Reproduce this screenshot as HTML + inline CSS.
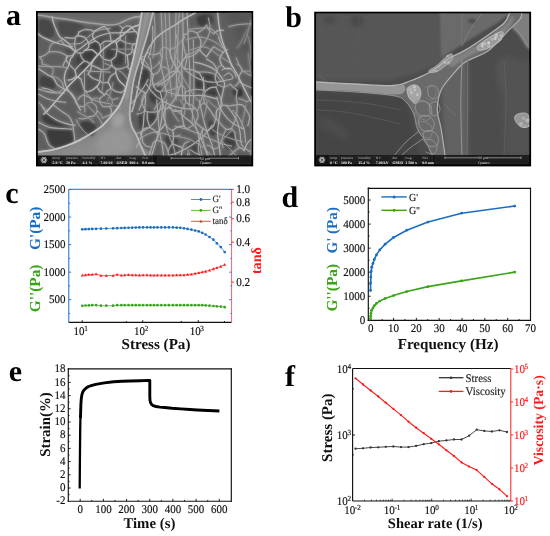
<!DOCTYPE html>
<html><head><meta charset="utf-8"><title>Figure</title>
<style>
html,body{margin:0;padding:0;background:#fff;width:550px;height:536px;overflow:hidden}
svg{display:block;position:absolute;left:0;top:0;filter:blur(0.3px)}
text{font-family:'Liberation Serif', 'Times New Roman', serif;text-rendering:geometricPrecision}
</style></head><body>
<svg width="550" height="536" viewBox="0 0 550 536">
<defs><clipPath id="ca"><rect x="37.9" y="12.8" width="213.6" height="143"/></clipPath><filter id="fb3" x="-30%" y="-30%" width="160%" height="160%"><feGaussianBlur stdDeviation="3"/></filter><filter id="fb2" x="-30%" y="-30%" width="160%" height="160%"><feGaussianBlur stdDeviation="2"/></filter><filter id="fb1" x="-30%" y="-30%" width="160%" height="160%"><feGaussianBlur stdDeviation="1.2"/></filter><filter id="fb0" x="-10%" y="-10%" width="120%" height="120%"><feGaussianBlur stdDeviation="0.45"/></filter></defs>
<rect x="36.0" y="11.0" width="217.2" height="155.4" fill="#000"/>
<g clip-path="url(#ca)">
<rect x="37" y="12" width="216" height="145" fill="#5e5e5e"/>
<path d="M226,12 L253,12 L253,60 L240,45 Z" fill="#545454" filter="url(#fb3)"/>
<path d="M157,12 L184,12 L184,60 L180,100 L166,112 L156,90 Z" fill="#6c6c6c" filter="url(#fb2)"/>
<path d="M74,32 C85.3,26.3 124.3,16.3 134,26 C143.7,35.7 137.7,78.7 132,90 C126.3,101.3 110,94 100,94 C90,94 77.7,95.7 72,90 C66.3,84.3 65.7,69.7 66,60 C66.3,50.3 62.7,37.7 74,32Z" fill="#505050" filter="url(#fb2)"/>
<path d="M38,13 C55.3,12 125,11.5 142,13 C159,14.5 145.3,19.7 140,22 C134.7,24.3 120,26.7 110,27 C100,27.3 92,25.3 80,24 C68,22.7 45,20.8 38,19 C31,17.2 20.7,14 38,13Z" fill="#686868" filter="url(#fb2)"/>
<path d="M142,12 C144.4,8.4 152.1,8.4 153,12 C153.9,15.6 149.5,26.1 147.5,33.4 C145.5,40.7 143,48.3 140.8,55.8 C138.6,63.3 135.8,70.8 134.1,78.2 C132.4,85.7 131.4,94.2 130.7,100.5 C129.9,106.8 129.4,111.6 129.6,116 C129.8,120.4 130.9,123.8 132,127 C133.1,130.2 135,132 136.4,135 C137.8,138 138.9,141.3 140.5,145 C142.1,148.7 163,155 145.9,157 C128.8,159 56,157.8 38,157 C20,156.2 35.7,153.2 38,152 C40.3,150.8 47.3,151 52,150 C56.7,149 61.3,147.7 66,146 C70.7,144.3 75.7,142.2 80,140 C84.3,137.8 88.3,135.3 92,133 C95.7,130.7 98.7,129 102,126 C105.3,123 109.2,118.3 112,115 C114.8,111.7 117,109.3 119,106 C121,102.7 122.4,99.6 124,95 C125.6,90.4 126.8,84.7 128.5,78.2 C130.2,71.7 132.4,63.3 134.1,55.8 C135.8,48.3 137.3,40.7 138.6,33.4 C139.9,26.1 139.6,15.6 142,12Z" fill="#858585" filter="url(#fb1)"/>
<path d="M96,140 C99.3,135.3 106.7,129.7 112,128 C117.3,126.3 124.7,126.3 128,130 C131.3,133.7 134.7,145.7 132,150 C129.3,154.3 118.7,155 112,156 C105.3,157 94.7,158.7 92,156 C89.3,153.3 92.7,144.7 96,140Z" fill="#969696" filter="url(#fb3)"/>
<path d="M112,118 C112.7,115.7 116,113.3 118,113 C120,112.7 123.3,113.8 124,116 C124.7,118.2 123.7,124.2 122,126 C120.3,127.8 115.7,128.3 114,127 C112.3,125.7 111.3,120.3 112,118Z" fill="#a0a0a0" filter="url(#fb2)"/>
<path d="M60,152 C63.3,150.3 74,147.3 80,146 C86,144.7 93.3,142.3 96,144 C98.7,145.7 102,154 96,156 C90,158 66,156.7 60,156 C54,155.3 56.7,153.7 60,152Z" fill="#8c8c8c" filter="url(#fb3)"/>
<path d="M40,20 C42,17.8 49.5,20.3 52,22 C54.5,23.7 55.3,27.3 55,30 C54.7,32.7 52.5,37.2 50,38 C47.5,38.8 41.7,38 40,35 C38.3,32 38,22.2 40,20Z" fill="#464646" filter="url(#fb1)"/>
<path d="M58,22 C59.3,20 64.3,20.7 68,21 C71.7,21.3 77,22.5 80,24 C83,25.5 86,27.7 86,30 C86,32.3 83,36.3 80,38 C77,39.7 71.3,40.8 68,40 C64.7,39.2 61.7,36 60,33 C58.3,30 56.7,24 58,22Z" fill="#4b4b4b" filter="url(#fb1)"/>
<path d="M112,26 C113.7,24.8 118,23.7 120,24 C122,24.3 124.3,26.7 124,28 C123.7,29.3 120.3,31.5 118,32 C115.7,32.5 111,32 110,31 C109,30 110.3,27.2 112,26Z" fill="#4e4e4e" filter="url(#fb1)"/>
<path d="M198,16 C200,14.5 207.5,14 210,15 C212.5,16 213.7,20 213,22 C212.3,24 208.5,26.7 206,27 C203.5,27.3 199.3,25.8 198,24 C196.7,22.2 196,17.5 198,16Z" fill="#3c3c3c" filter="url(#fb1)"/>
<path d="M89,46 C91,43 95.7,40.3 98,40 C100.3,39.7 102.7,41.5 103,44 C103.3,46.5 101.7,52.3 100,55 C98.3,57.7 95.3,59.5 93,60 C90.7,60.5 86.7,60.3 86,58 C85.3,55.7 87,49 89,46Z" fill="#3c3c3c" filter="url(#fb1)"/>
<path d="M78,55 C79.3,52.3 83.7,49.2 86,50 C88.3,50.8 92,57 92,60 C92,63 88.3,67 86,68 C83.7,69 79.3,68.2 78,66 C76.7,63.8 76.7,57.7 78,55Z" fill="#3e3e3e" filter="url(#fb1)"/>
<path d="M42,76 C44,74.8 49.7,77.3 52,79 C54.3,80.7 56.3,84.3 56,86 C55.7,87.7 52.7,89 50,89 C47.3,89 41.3,88.2 40,86 C38.7,83.8 40,77.2 42,76Z" fill="#424242" filter="url(#fb1)"/>
<path d="M106,53 C107,49.7 115,45.2 118,44 C121,42.8 123,43 124,46 C125,49 126,59 124,62 C122,65 115,65.5 112,64 C109,62.5 105,56.3 106,53Z" fill="#404040" filter="url(#fb1)"/>
<path d="M140,72 C141.3,69.7 146.3,68 148,70 C149.7,72 150.7,80.7 150,84 C149.3,87.3 145.7,90 144,90 C142.3,90 140.7,87 140,84 C139.3,81 138.7,74.3 140,72Z" fill="#3e3e3e" filter="url(#fb1)"/>
<path d="M152,88 C154,86.3 160,86.3 162,88 C164,89.7 165,95.3 164,98 C163,100.7 158.3,104 156,104 C153.7,104 150.7,100.7 150,98 C149.3,95.3 150,89.7 152,88Z" fill="#3e3e3e" filter="url(#fb1)"/>
<path d="M196,75 C199,72.5 210,73.5 214,75 C218,76.5 219,80.5 220,84 C221,87.5 222.5,94.3 220,96 C217.5,97.7 209,95 205,94 C201,93 197.5,93.2 196,90 C194.5,86.8 193,77.5 196,75Z" fill="#3c3c3c" filter="url(#fb1)"/>
<path d="M233,90 C233.8,88.7 239.5,88.2 241,89 C242.5,89.8 242.8,93.7 242,95 C241.2,96.3 237.5,97.8 236,97 C234.5,96.2 232.2,91.3 233,90Z" fill="#2d2d2d" filter="url(#fb1)"/>
<path d="M47,113 C49.3,113.5 52.8,119 56,121 C59.2,123 63.5,124 66,125 C68.5,126 72,126.7 71,127 C70,127.3 63.8,127.5 60,127 C56.2,126.5 51,125.5 48,124 C45,122.5 42.2,119.8 42,118 C41.8,116.2 44.7,112.5 47,113Z" fill="#3e3e3e" filter="url(#fb1)"/>
<path d="M47,131 C48.3,128.3 55.8,130 60,130 C64.2,130 69.8,129 72,131 C74.2,133 74.7,139.2 73,142 C71.3,144.8 65.5,147.3 62,148 C58.5,148.7 54.5,148.8 52,146 C49.5,143.2 45.7,133.7 47,131Z" fill="#3a3a3a" filter="url(#fb1)"/>
<path d="M80,123 C81.3,121.3 87.3,121.3 90,122 C92.7,122.7 95.7,124.7 96,127 C96.3,129.3 94.3,135.2 92,136 C89.7,136.8 84,134.2 82,132 C80,129.8 78.7,124.7 80,123Z" fill="#3c3c3c" filter="url(#fb1)"/>
<path d="M140,112 C142,109 149.3,109 152,110 C154.7,111 156.3,115.3 156,118 C155.7,120.7 152.7,124.3 150,126 C147.3,127.7 141.7,130.3 140,128 C138.3,125.7 138,115 140,112Z" fill="#3e3e3e" filter="url(#fb1)"/>
<path d="M166,136 C167,133.3 174,135.7 176,138 C178,140.3 179,147.3 178,150 C177,152.7 172,156.3 170,154 C168,151.7 165,138.7 166,136Z" fill="#3c3c3c" filter="url(#fb1)"/>
<path d="M209,122 C210.3,120.3 216.5,122.2 218,124 C219.5,125.8 219.3,131.3 218,133 C216.7,134.7 211.5,135.8 210,134 C208.5,132.2 207.7,123.7 209,122Z" fill="#3c3c3c" filter="url(#fb1)"/>
<path d="M224,134 C225.7,131.7 232,130.7 234,132 C236,133.3 236.5,139 236,142 C235.5,145 233,149.3 231,150 C229,150.7 225.2,148.7 224,146 C222.8,143.3 222.3,136.3 224,134Z" fill="#3a3a3a" filter="url(#fb1)"/>
<path d="M188,142 C189.3,139.8 196,139.3 198,141 C200,142.7 201.3,149.8 200,152 C198.7,154.2 192,155.7 190,154 C188,152.3 186.7,144.2 188,142Z" fill="#424242" filter="url(#fb1)"/>
<g fill="none" stroke-linecap="round" stroke-linejoin="round" filter="url(#fb1)" opacity="0.32">
<path d="M74.9,70.4 C75.6,69.5 77.7,66.9 79.2,65.4 C80.8,63.8 83.4,61.8 84.3,61" stroke="#9a9a9a" stroke-width="3.7"/>
<path d="M74.9,70.4 C75.1,70.9 75.6,72.4 75.8,73.4 C76.1,74.5 76.1,76.1 76.2,76.6" stroke="#9a9a9a" stroke-width="3.7"/>
<path d="M88.1,74.1 C88.5,73.4 90,71.5 90.6,70 C91.1,68.6 91.3,66.1 91.5,65.3" stroke="#9a9a9a" stroke-width="3.7"/>
<path d="M91.5,65.3 C91.5,65.3 91.5,65.2 91.4,65.1 C91.4,65 91.4,64.9 91.3,64.9" stroke="#9a9a9a" stroke-width="3.7"/>
<path d="M91.3,64.9 C90.8,64.5 89.3,63 88.1,62.4 C86.9,61.7 84.9,61.3 84.3,61" stroke="#9a9a9a" stroke-width="3.7"/>
<path d="M76.2,76.6 C76.6,76.8 77.8,77.2 78.6,77.6 C79.4,78 80.5,78.8 80.9,79" stroke="#9a9a9a" stroke-width="3.7"/>
<path d="M66.9,61.5 C67.5,62.3 69.5,64.6 70.8,66 C72.2,67.5 74.2,69.6 74.9,70.4" stroke="#9a9a9a" stroke-width="3.7"/>
<path d="M76.2,76.6 C75.5,77 73.8,78.5 72.4,79.1 C71.1,79.7 68.8,80 68.1,80.2" stroke="#9a9a9a" stroke-width="3.7"/>
<path d="M120.2,39.6 C119.9,39.8 118.8,40.5 118.1,41 C117.4,41.5 116.5,42.4 116.2,42.7" stroke="#9a9a9a" stroke-width="3.7"/>
<path d="M120.2,39.6 C120.3,38.6 120,35.6 120.4,33.7 C120.8,31.8 122.4,29.2 122.8,28.4" stroke="#9a9a9a" stroke-width="3.7"/>
<path d="M104.5,26.4 C105.4,27.5 108.7,30.5 109.8,33 C110.8,35.5 110.7,39.9 110.8,41.3" stroke="#9a9a9a" stroke-width="3.7"/>
<path d="M110.8,41.3 C111.3,41.2 112.9,40.8 113.8,41 C114.7,41.2 115.8,42.4 116.2,42.7" stroke="#9a9a9a" stroke-width="3.7"/>
<path d="M122.8,28.4 C122.6,28.1 122,27.3 121.5,26.9 C121,26.4 120.1,26 119.8,25.8" stroke="#9a9a9a" stroke-width="3.7"/>
<path d="M95,40.8 C95.5,41 97.2,41.7 98.1,42.4 C98.9,43.2 99.8,44.7 100.2,45.2" stroke="#9a9a9a" stroke-width="3.7"/>
<path d="M95,40.8 C94.5,41 93.1,41.8 92.1,42.3 C91.1,42.8 89.6,43.4 89.1,43.7" stroke="#9a9a9a" stroke-width="3.7"/>
<path d="M100.2,45.2 C100.3,45.9 100.9,48.1 100.8,49.5 C100.7,51 99.8,53.1 99.6,53.8" stroke="#9a9a9a" stroke-width="3.7"/>
<path d="M97.9,54.9 C96.9,54 94.4,50.5 92.2,49.8 C89.9,49.1 85.8,50.4 84.5,50.5" stroke="#9a9a9a" stroke-width="3.7"/>
<path d="M97.9,54.9 C98,54.7 98.4,54.3 98.6,54.1 C98.9,54 99.5,53.8 99.6,53.8" stroke="#9a9a9a" stroke-width="3.7"/>
<path d="M84.5,50.5 C85.1,50 87.3,49 88.1,47.9 C88.8,46.8 89,44.4 89.1,43.7" stroke="#9a9a9a" stroke-width="3.7"/>
<path d="M91.3,64.9 C91.8,63.9 92.8,61 93.8,59.4 C94.9,57.7 97.2,55.6 97.9,54.9" stroke="#9a9a9a" stroke-width="3.7"/>
<path d="M84.3,61 C83.8,60.4 82.2,58.6 81.5,57.3 C80.8,55.9 80.3,53.6 80,52.9" stroke="#9a9a9a" stroke-width="3.7"/>
<path d="M84.5,50.5 C84.2,50.8 83.5,52.2 82.8,52.6 C82,53 80.5,52.8 80,52.9" stroke="#9a9a9a" stroke-width="3.7"/>
<path d="M66.9,61.5 C66.8,61.1 66.2,59.7 66.2,58.8 C66.1,57.9 66.6,56.5 66.6,56.1" stroke="#9a9a9a" stroke-width="3.7"/>
<path d="M66.6,56.1 C67.6,55.9 70.5,56.1 72.1,55.3 C73.8,54.6 75.6,52.3 76.3,51.7" stroke="#9a9a9a" stroke-width="3.7"/>
<path d="M80,52.9 C79.7,52.9 78.6,53.2 77.9,53 C77.3,52.8 76.6,51.9 76.3,51.7" stroke="#9a9a9a" stroke-width="3.7"/>
<path d="M100.2,45.2 C101,44.5 103.1,42 104.8,41.3 C106.6,40.7 109.8,41.3 110.8,41.3" stroke="#9a9a9a" stroke-width="3.7"/>
<path d="M99.6,53.8 C100.3,54.7 102.1,58 104,59.2 C105.8,60.3 109.6,60.3 110.7,60.6" stroke="#9a9a9a" stroke-width="3.7"/>
<path d="M116.2,42.7 C116.3,43.3 116.9,45.2 117,46.5 C117.1,47.7 116.9,49.7 116.9,50.3" stroke="#9a9a9a" stroke-width="3.7"/>
<path d="M116.9,50.3 C116.7,51.3 116.6,54.8 115.6,56.5 C114.6,58.2 111.5,59.9 110.7,60.6" stroke="#9a9a9a" stroke-width="3.7"/>
<path d="M88.1,74.1 C88.9,74.8 91.3,77.4 93.2,78.5 C95.2,79.6 98.6,80.3 99.7,80.7" stroke="#9a9a9a" stroke-width="3.7"/>
<path d="M91.5,65.3 C92.3,65.7 94.9,66.6 96.5,67.3 C98.2,68 100.6,69.2 101.4,69.6" stroke="#9a9a9a" stroke-width="3.7"/>
<path d="M101.4,69.6 C101.3,70.5 100.8,73.3 100.5,75.1 C100.2,77 99.8,79.7 99.7,80.7" stroke="#9a9a9a" stroke-width="3.7"/>
<path d="M110.7,60.6 C110.9,60.9 111.4,62 111.5,62.8 C111.7,63.5 111.7,64.7 111.7,65.1" stroke="#9a9a9a" stroke-width="3.7"/>
<path d="M101.4,69.6 C102.4,69.5 105.7,69.9 107.4,69.2 C109.1,68.4 111,65.7 111.7,65.1" stroke="#9a9a9a" stroke-width="3.7"/>
<path d="M127,55.2 C127.2,56 127.6,58.5 127.8,60.2 C128,61.9 128.2,64.5 128.2,65.3" stroke="#9a9a9a" stroke-width="3.7"/>
<path d="M127,55.2 C126.2,54.8 123.7,53.5 122,52.7 C120.3,51.9 117.7,50.7 116.9,50.3" stroke="#9a9a9a" stroke-width="3.7"/>
<path d="M127.1,66.5 C127.2,66.4 127.7,66.3 127.9,66.1 C128.1,65.9 128.2,65.5 128.2,65.3" stroke="#9a9a9a" stroke-width="3.7"/>
<path d="M127.1,66.5 C126.2,66.8 123.6,68.1 121.7,68.5 C119.9,68.9 116.9,68.9 116,69" stroke="#9a9a9a" stroke-width="3.7"/>
<path d="M111.7,65.1 C112,65.4 112.9,66.6 113.6,67.3 C114.3,67.9 115.6,68.7 116,69" stroke="#9a9a9a" stroke-width="3.7"/>
<path d="M80.9,79 C81.2,79.9 81.8,82.6 82.4,84.3 C83,86.1 84,88.7 84.3,89.5" stroke="#9a9a9a" stroke-width="3.7"/>
<path d="M99.7,80.7 C99.7,80.7 99.8,80.9 99.8,81 C99.9,81.2 100,81.3 100,81.4" stroke="#9a9a9a" stroke-width="3.7"/>
<path d="M100,81.4 C99.8,81.8 99.2,83.3 98.7,84.1 C98.2,85 97.1,86.1 96.8,86.5" stroke="#9a9a9a" stroke-width="3.7"/>
<path d="M84.3,89.5 C84.6,89.8 85.2,90.4 85.6,90.9 C86.1,91.3 86.8,91.9 87.1,92.1" stroke="#9a9a9a" stroke-width="3.7"/>
<path d="M96.8,86.5 C96,87.1 94,89.1 92.4,90.1 C90.7,91 87.9,91.7 87.1,92.1" stroke="#9a9a9a" stroke-width="3.7"/>
<path d="M95,40.8 C94.6,40 92.8,37.8 92.6,36.3 C92.5,34.7 93.7,32.2 93.9,31.4" stroke="#9a9a9a" stroke-width="3.7"/>
<path d="M104.4,26.4 C103.5,26.7 100.8,27.8 99,28.6 C97.3,29.4 94.8,30.9 93.9,31.4" stroke="#9a9a9a" stroke-width="3.7"/>
<path d="M120.2,39.6 C121.3,40.1 124.3,42.2 126.5,43 C128.7,43.8 132.3,44.1 133.5,44.3" stroke="#9a9a9a" stroke-width="3.7"/>
<path d="M127,55.2 C127.7,54.9 129.9,54.4 130.8,53.5 C131.7,52.7 132.2,50.4 132.5,49.8" stroke="#9a9a9a" stroke-width="3.7"/>
<path d="M133.5,44.3 C133.2,44.7 132.2,46 132.1,46.9 C131.9,47.8 132.4,49.3 132.5,49.8" stroke="#9a9a9a" stroke-width="3.7"/>
<path d="M130.1,26.3 C130.9,27 133.2,29.1 134.7,30.6 C136.2,32.1 138.3,34.4 139.1,35.2" stroke="#9a9a9a" stroke-width="3.7"/>
<path d="M122.8,28.4 C123.3,28 124.9,26.4 126.1,26 C127.3,25.7 129.4,26.2 130.1,26.3" stroke="#9a9a9a" stroke-width="3.7"/>
<path d="M139.2,40.8 C138.8,41.2 137.6,42.5 136.6,43 C135.7,43.6 134,44.1 133.5,44.3" stroke="#9a9a9a" stroke-width="3.7"/>
<path d="M93.9,31.4 C93.7,31.3 93,31.3 92.6,31.1 C92.2,30.9 91.8,30.3 91.7,30.1" stroke="#9a9a9a" stroke-width="3.7"/>
<path d="M130.9,75.4 C130.8,74.6 130.8,71.9 130.2,70.5 C129.5,69 127.6,67.2 127.1,66.5" stroke="#9a9a9a" stroke-width="3.7"/>
<path d="M132.5,49.8 C133,50.7 133.9,53.9 135.2,55.3 C136.6,56.7 139.7,57.7 140.6,58.2" stroke="#9a9a9a" stroke-width="3.7"/>
<path d="M100,81.4 C100.7,81.6 102.5,82.7 103.9,82.9 C105.2,83 107.3,82.4 108,82.3" stroke="#9a9a9a" stroke-width="3.7"/>
<path d="M116,69 C116,69.3 115.9,70.2 115.8,70.9 C115.8,71.5 115.7,72.4 115.7,72.8" stroke="#9a9a9a" stroke-width="3.7"/>
<path d="M115.7,72.8 C114.8,73.4 111.9,74.9 110.6,76.5 C109.3,78.1 108.4,81.4 108,82.3" stroke="#9a9a9a" stroke-width="3.7"/>
<path d="M115.7,72.8 C116.2,74 117.2,77.8 118.6,79.9 C120,82 123.2,84.4 124.1,85.3" stroke="#9a9a9a" stroke-width="3.7"/>
<path d="M124.1,85.3 C124.3,85.7 125.2,86.7 125.3,87.5 C125.4,88.2 124.7,89.5 124.6,89.9" stroke="#9a9a9a" stroke-width="3.7"/>
<path d="M78.7,32.1 C78.7,32.5 78.6,33.5 78.4,34.1 C78.1,34.7 77.4,35.5 77.3,35.8" stroke="#9a9a9a" stroke-width="3.7"/>
<path d="M65,37.6 C65.9,37.7 68.5,38 70.2,38.1 C72,38.1 74.6,38 75.5,37.9" stroke="#9a9a9a" stroke-width="3.7"/>
<path d="M77.3,35.8 C77.1,35.9 76.3,36.2 76,36.6 C75.7,36.9 75.5,37.7 75.5,37.9" stroke="#9a9a9a" stroke-width="3.7"/>
<path d="M91.7,30.1 C90.5,30 87.1,29.2 84.9,29.6 C82.8,29.9 79.7,31.7 78.7,32.1" stroke="#9a9a9a" stroke-width="3.7"/>
<path d="M89.1,43.7 C88.4,42.6 86.7,38.7 84.7,37.4 C82.7,36.1 78.5,36.1 77.3,35.8" stroke="#9a9a9a" stroke-width="3.7"/>
<path d="M76.3,51.7 C76,50.6 74.7,47.2 74.6,44.9 C74.4,42.6 75.3,39.1 75.5,37.9" stroke="#9a9a9a" stroke-width="3.7"/>
<path d="M111,88.3 C111.8,88.8 113.9,90.6 115.5,91.3 C117.2,92 120,92.3 120.8,92.5" stroke="#9a9a9a" stroke-width="3.7"/>
<path d="M111,88.3 C110.4,88.8 108.4,90 107.3,91 C106.3,92.1 105,94.1 104.6,94.7" stroke="#9a9a9a" stroke-width="3.7"/>
<path d="M108,82.3 C108.3,82.8 109.3,84.2 109.8,85.2 C110.3,86.2 110.8,87.8 111,88.3" stroke="#9a9a9a" stroke-width="3.7"/>
<path d="M124.6,89.9 C124.3,90.1 123.6,91.1 123,91.6 C122.4,92 121.2,92.4 120.8,92.5" stroke="#9a9a9a" stroke-width="3.7"/>
<path d="M96.8,86.5 C97.3,87.3 98.6,90 99.9,91.3 C101.2,92.7 103.8,94.1 104.6,94.7" stroke="#9a9a9a" stroke-width="3.7"/>
<path d="M49.1,51.9 C49.2,51.1 49.4,48.7 49.9,47.3 C50.4,45.9 51.8,44 52.2,43.3" stroke="#9a9a9a" stroke-width="3.5"/>
<path d="M49.1,51.9 C48.4,52.4 46.4,54.3 44.8,55.2 C43.3,56 40.7,56.8 39.8,57.1" stroke="#9a9a9a" stroke-width="3.5"/>
<path d="M42.4,64.2 C42.4,63.5 42.4,61.5 42,60.3 C41.5,59.1 40.2,57.6 39.8,57.1" stroke="#9a9a9a" stroke-width="3.5"/>
<path d="M42.4,64.2 C43.4,64.4 46.2,64.8 48,65.5 C49.7,66.2 52.1,67.9 52.9,68.3" stroke="#9a9a9a" stroke-width="3.5"/>
<path d="M49.1,51.9 C50.7,51.9 55.9,51.3 59,52 C62.2,52.8 66.5,55.7 68,56.5" stroke="#9a9a9a" stroke-width="3.5"/>
<path d="M63,65.9 C63.3,65 64.2,62.5 65.1,61 C65.9,59.4 67.5,57.2 68,56.5" stroke="#9a9a9a" stroke-width="3.5"/>
<path d="M61.1,40.1 C61.8,41.1 63.6,44.8 65.6,45.8 C67.6,46.9 71.6,46.3 72.8,46.4" stroke="#9a9a9a" stroke-width="3.5"/>
<path d="M52.2,43.3 C53,43.1 55.4,42.9 56.9,42.4 C58.4,41.8 60.4,40.5 61.1,40.1" stroke="#9a9a9a" stroke-width="3.5"/>
<path d="M52.9,68.3 C52.9,69 53.4,71.1 53.2,72.3 C52.9,73.6 51.7,75.3 51.5,75.9" stroke="#9a9a9a" stroke-width="3.5"/>
<path d="M62.7,83.1 C61.9,82.3 59.8,79.5 57.9,78.3 C56,77.1 52.5,76.3 51.5,75.9" stroke="#9a9a9a" stroke-width="3.5"/>
<path d="M41.8,87.8 C42.9,88 46.4,88.6 48.5,89.3 C50.7,90 53.8,91.5 54.9,92" stroke="#9a9a9a" stroke-width="3.5"/>
<path d="M62.7,83.1 C62.8,83.6 63,85 63.2,86 C63.5,86.9 64,88.2 64.1,88.7" stroke="#9a9a9a" stroke-width="3.5"/>
<path d="M54.9,92 C55.7,91.9 58.4,92.1 59.9,91.5 C61.5,91 63.4,89.2 64.1,88.7" stroke="#9a9a9a" stroke-width="3.5"/>
<path d="M141.6,63.6 C141.6,63.1 141.8,61.4 141.7,60.3 C141.7,59.2 141.4,57.6 141.3,57.1" stroke="#9a9a9a" stroke-width="3.7"/>
<path d="M141.6,63.6 C142.8,64.4 146.6,66.3 148.5,68.2 C150.5,70.1 152.5,73.9 153.3,75" stroke="#9a9a9a" stroke-width="3.7"/>
<path d="M160.2,52.6 C159.1,53 155.9,54.9 153.7,54.9 C151.6,54.9 148.4,52.8 147.4,52.4" stroke="#9a9a9a" stroke-width="3.7"/>
<path d="M160.2,52.6 C160.5,53.8 161.9,57.2 162,59.6 C162.1,61.9 161,65.5 160.8,66.6" stroke="#9a9a9a" stroke-width="3.7"/>
<path d="M160.8,66.6 C160.4,67.5 159.5,70.4 158.2,71.8 C157,73.2 154.2,74.5 153.3,75" stroke="#9a9a9a" stroke-width="3.7"/>
<path d="M141.3,57.1 C141.9,56.8 144.1,56.5 145.1,55.7 C146.1,54.9 147,52.9 147.4,52.4" stroke="#9a9a9a" stroke-width="3.7"/>
<path d="M163.5,47.6 C163.1,48 161.5,48.7 161,49.6 C160.4,50.4 160.3,52.1 160.2,52.6" stroke="#9a9a9a" stroke-width="3.7"/>
<path d="M153.3,75 C153.2,76 152.2,79 152.3,80.9 C152.4,82.9 153.6,85.8 153.9,86.7" stroke="#9a9a9a" stroke-width="3.7"/>
<path d="M136.2,86.9 C136.9,87.4 139,89 140.4,90 C141.9,91 144.2,92.2 144.9,92.7" stroke="#9a9a9a" stroke-width="3.7"/>
<path d="M183.5,34.5 C184.1,34.4 186,34.5 186.9,33.9 C187.8,33.4 188.6,31.6 188.9,31.1" stroke="#9a9a9a" stroke-width="3.7"/>
<path d="M163.5,47.6 C164.1,47.7 165.8,47.4 166.8,47.8 C167.8,48.1 169,49.4 169.5,49.8" stroke="#9a9a9a" stroke-width="3.7"/>
<path d="M183.5,34.5 C183.6,35 184.3,36.6 184.2,37.5 C184,38.4 182.8,39.6 182.5,40" stroke="#9a9a9a" stroke-width="3.7"/>
<path d="M169.5,49.8 C170.7,49.1 174.7,47.7 176.9,46.1 C179,44.4 181.5,41 182.5,40" stroke="#9a9a9a" stroke-width="3.7"/>
<path d="M144.9,92.7 C144.4,94.1 141.5,98.5 141.6,101.5 C141.6,104.4 144.6,108.7 145.2,110.1" stroke="#9a9a9a" stroke-width="3.7"/>
<path d="M145.2,110.1 C144.6,110.6 142.9,112.4 141.6,113 C140.2,113.6 137.9,113.8 137.1,114" stroke="#9a9a9a" stroke-width="3.7"/>
<path d="M160.8,66.6 C161.8,66.9 165.1,66.9 166.6,67.9 C168,69 169.2,72.1 169.7,72.9" stroke="#9a9a9a" stroke-width="3.7"/>
<path d="M169.5,49.8 C170,51.7 171.1,57.8 172.7,61.5 C174.3,65.2 178.1,70.1 179.2,71.8" stroke="#9a9a9a" stroke-width="3.7"/>
<path d="M169.7,72.9 C170.4,72.6 172.7,71.4 174.3,71.2 C175.9,71.1 178.3,71.7 179.2,71.8" stroke="#9a9a9a" stroke-width="3.7"/>
<path d="M182.5,40 C182.8,41.5 183.5,45.9 184.1,48.7 C184.8,51.6 186.2,55.9 186.6,57.3" stroke="#9a9a9a" stroke-width="3.7"/>
<path d="M186.6,57.3 C186.6,58.2 186.5,61.1 186.1,63 C185.8,64.8 184.8,67.5 184.5,68.4" stroke="#9a9a9a" stroke-width="3.7"/>
<path d="M179.2,71.8 C179.3,71.8 179.7,71.9 179.9,72 C180.1,72.1 180.4,72.4 180.4,72.4" stroke="#9a9a9a" stroke-width="3.7"/>
<path d="M188.9,31.1 C189.6,31.2 191.8,31.1 193.1,31.4 C194.5,31.8 196.3,32.8 197,33.1" stroke="#9a9a9a" stroke-width="3.7"/>
<path d="M186.6,57.3 C187.9,56.9 191.8,56.2 194,55 C196.2,53.7 198.8,50.7 199.7,49.8" stroke="#9a9a9a" stroke-width="3.7"/>
<path d="M199.7,49.8 C199.9,48.4 201.3,43.8 200.9,41.1 C200.4,38.3 197.6,34.4 197,33.1" stroke="#9a9a9a" stroke-width="3.7"/>
<path d="M197,33.1 C197.9,32.6 200.8,31.2 202.4,29.8 C204,28.5 205.9,25.9 206.6,25.1" stroke="#9a9a9a" stroke-width="3.7"/>
<path d="M230.3,84.2 C230.9,84.7 232.5,86.5 233.6,87.5 C234.8,88.5 236.7,89.9 237.3,90.4" stroke="#9a9a9a" stroke-width="3.7"/>
<path d="M206.6,59.1 C207.7,59.8 211.4,61.5 213.2,63.4 C215,65.2 216.6,69 217.3,70.1" stroke="#9a9a9a" stroke-width="3.7"/>
<path d="M206.5,56.7 C207.1,55.8 208.8,53.3 210,51.6 C211.2,49.9 213.1,47.5 213.7,46.7" stroke="#9a9a9a" stroke-width="3.7"/>
<path d="M213.7,46.7 C214.5,47.2 216.8,48.7 218.4,49.6 C220,50.5 222.5,51.6 223.3,52.1" stroke="#9a9a9a" stroke-width="3.7"/>
<path d="M223.3,52.1 C222.7,53.1 220.1,56.1 219.8,58.3 C219.5,60.5 221.3,64.1 221.7,65.2" stroke="#9a9a9a" stroke-width="3.7"/>
<path d="M217.3,70.1 C217.5,69.6 217.9,67.7 218.6,66.9 C219.4,66.1 221.2,65.5 221.7,65.2" stroke="#9a9a9a" stroke-width="3.7"/>
<path d="M184.5,68.4 C185.8,68.6 189.7,69 192.2,69.8 C194.7,70.5 198.2,72.4 199.4,72.9" stroke="#9a9a9a" stroke-width="3.7"/>
<path d="M199.7,49.8 C200.2,50.5 201.6,52.5 202.7,53.6 C203.9,54.8 205.9,56.2 206.5,56.7" stroke="#9a9a9a" stroke-width="3.7"/>
<path d="M213.7,33.6 C212.9,33 210.3,31.6 209.1,30.2 C207.9,28.7 207,25.9 206.6,25.1" stroke="#9a9a9a" stroke-width="3.7"/>
<path d="M227.3,49.7 C226.9,49.9 225.9,50.3 225.2,50.7 C224.5,51.1 223.6,51.8 223.3,52.1" stroke="#9a9a9a" stroke-width="3.7"/>
<path d="M231.1,68.3 C230.2,68.4 227.3,69.3 225.7,68.8 C224.2,68.3 222.3,65.8 221.7,65.2" stroke="#9a9a9a" stroke-width="3.7"/>
<path d="M217.6,84.8 C218.7,85.1 221.9,87.1 224.1,87 C226.2,86.9 229.3,84.7 230.3,84.2" stroke="#9a9a9a" stroke-width="3.7"/>
<path d="M217.6,84.8 C217.2,83.6 215.1,79.9 215.1,77.5 C215.1,75 216.9,71.3 217.3,70.1" stroke="#9a9a9a" stroke-width="3.7"/>
<path d="M213.7,33.6 C214.4,33.1 216.4,31.1 217.9,30.6 C219.5,30 222.3,30.3 223.2,30.3" stroke="#9a9a9a" stroke-width="3.7"/>
<path d="M247.8,125.6 C248.1,124.2 250,119.7 249.6,116.9 C249.3,114.2 246.4,110.3 245.7,109" stroke="#9a9a9a" stroke-width="3.7"/>
<path d="M245.7,109 C245.2,108.3 243.8,105.7 242.4,105 C241.1,104.2 238.2,104.5 237.3,104.4" stroke="#9a9a9a" stroke-width="3.7"/>
<path d="M231.5,128.5 C231.8,128.8 232.6,129.7 233.1,130.4 C233.7,131 234.5,131.9 234.8,132.3" stroke="#9a9a9a" stroke-width="3.7"/>
<path d="M231.5,128.5 C232.2,126.6 235.2,121 236.1,117 C237,113.1 236.9,106.8 237.1,104.7" stroke="#9a9a9a" stroke-width="3.7"/>
<path d="M237.1,104.7 C237.1,104.7 237.1,104.6 237.2,104.5 C237.2,104.5 237.3,104.4 237.3,104.4" stroke="#9a9a9a" stroke-width="3.7"/>
<path d="M237.3,90.4 C237.1,91.6 236.3,95.1 236.3,97.4 C236.3,99.7 237.2,103.2 237.3,104.4" stroke="#9a9a9a" stroke-width="3.7"/>
<path d="M216.2,118.7 C217,119.6 219.3,122.3 220.9,124.1 C222.5,125.8 225.1,128.3 226,129.2" stroke="#9a9a9a" stroke-width="3.7"/>
<path d="M216.2,118.7 C216.3,117.4 215.6,112.9 216.7,110.7 C217.8,108.5 221.7,106.2 222.6,105.3" stroke="#9a9a9a" stroke-width="3.7"/>
<path d="M226,129.2 C226.4,129.2 227.9,129.4 228.8,129.3 C229.7,129.2 231,128.6 231.5,128.5" stroke="#9a9a9a" stroke-width="3.7"/>
<path d="M222.6,105.3 C223.9,105.4 227.5,105.9 229.9,105.8 C232.3,105.7 235.9,104.9 237.1,104.7" stroke="#9a9a9a" stroke-width="3.7"/>
<path d="M222.6,105.3 C222.1,103.8 220.8,99.1 219.7,96 C218.6,93 216.7,88.5 216.1,87" stroke="#9a9a9a" stroke-width="3.7"/>
<path d="M256,137 C254.7,137.8 250.2,139.8 248.2,142.1 C246.2,144.3 244.8,149.1 244.1,150.5" stroke="#9a9a9a" stroke-width="3.7"/>
<path d="M234.8,132.3 C235,133.6 235.3,137.7 236,140.3 C236.7,142.9 238.5,146.5 239,147.8" stroke="#9a9a9a" stroke-width="3.7"/>
<path d="M244.1,150.5 C243.8,150.2 242.8,148.9 241.9,148.5 C241.1,148 239.5,147.9 239,147.8" stroke="#9a9a9a" stroke-width="3.7"/>
<path d="M145.2,110.1 C145.3,110.3 145.6,111 146,111.3 C146.3,111.6 147.1,111.8 147.3,111.8" stroke="#9a9a9a" stroke-width="3.7"/>
<path d="M147.3,111.8 C147.3,113.2 147.1,117.3 147.5,119.9 C148,122.5 149.6,126.2 150.1,127.5" stroke="#9a9a9a" stroke-width="3.7"/>
<path d="M150.1,127.5 C149,127.7 145.6,127.7 144,128.8 C142.4,129.9 141,133.1 140.4,133.9" stroke="#9a9a9a" stroke-width="3.7"/>
<path d="M140.4,133.9 C140.7,134.6 141.9,136.5 142.2,137.8 C142.6,139.2 142.4,141.4 142.5,142.1" stroke="#9a9a9a" stroke-width="3.7"/>
<path d="M151,163.1 C150.8,161.7 149.4,157.7 149.5,155 C149.7,152.3 151.5,148.4 151.9,147.1" stroke="#9a9a9a" stroke-width="3.7"/>
<path d="M142.5,142.1 C143.1,142.8 144.7,145.4 146.3,146.2 C147.9,147 150.9,147 151.9,147.1" stroke="#9a9a9a" stroke-width="3.7"/>
<path d="M172.8,130.3 C173,131.4 173.6,134.8 173.5,137 C173.5,139.2 172.7,142.5 172.6,143.6" stroke="#9a9a9a" stroke-width="3.7"/>
<path d="M172.8,130.3 C172,130 169.2,129.3 168,128.1 C166.7,127 165.9,124.2 165.5,123.4" stroke="#9a9a9a" stroke-width="3.7"/>
<path d="M165.5,123.4 C164.9,124.3 163.1,126.9 161.6,128.5 C160.2,130 157.6,131.9 156.8,132.6" stroke="#9a9a9a" stroke-width="3.7"/>
<path d="M168.1,151.1 C168.4,150.4 169.1,148.3 169.9,147.1 C170.6,145.8 172.1,144.2 172.6,143.6" stroke="#9a9a9a" stroke-width="3.7"/>
<path d="M168.1,151.1 C167.4,149.8 166.3,145.2 164.4,143.4 C162.5,141.5 157.9,140.5 156.6,140" stroke="#9a9a9a" stroke-width="3.7"/>
<path d="M156.6,140 C156.9,139.4 158.2,137.6 158.2,136.3 C158.2,135.1 157.1,133.2 156.8,132.6" stroke="#9a9a9a" stroke-width="3.7"/>
<path d="M181.4,162.2 C181.4,161 181.1,157.3 181.4,154.9 C181.6,152.5 182.5,148.9 182.7,147.7" stroke="#9a9a9a" stroke-width="3.7"/>
<path d="M167.9,160.1 C168,159.3 168.4,157.1 168.5,155.6 C168.5,154.1 168.1,151.8 168.1,151.1" stroke="#9a9a9a" stroke-width="3.7"/>
<path d="M182.7,147.7 C181.8,147.4 179.3,146.4 177.6,145.8 C175.9,145.1 173.4,144 172.6,143.6" stroke="#9a9a9a" stroke-width="3.7"/>
<path d="M151.9,147.1 C152.1,146.4 152.5,144.1 153.3,142.9 C154.1,141.8 156,140.5 156.6,140" stroke="#9a9a9a" stroke-width="3.7"/>
<path d="M150.1,127.5 C150.7,127.9 152.5,129 153.6,129.8 C154.7,130.7 156.3,132.1 156.8,132.6" stroke="#9a9a9a" stroke-width="3.7"/>
<path d="M199.4,72.9 C200,74.3 202.5,78.2 203.3,81.1 C204.2,84 204.2,88.7 204.3,90.2" stroke="#9a9a9a" stroke-width="3.7"/>
<path d="M216.1,87 C215.1,87.1 212,87.2 210.2,87.9 C208.4,88.6 206.1,90.7 205.2,91.2" stroke="#9a9a9a" stroke-width="3.7"/>
<path d="M205.2,91.2 C205.1,91.2 204.8,91 204.7,90.8 C204.5,90.6 204.4,90.3 204.3,90.2" stroke="#9a9a9a" stroke-width="3.7"/>
<path d="M180.4,72.4 C180.2,73.5 178.6,76.8 178.7,79 C178.8,81.1 180.6,84.3 181,85.3" stroke="#9a9a9a" stroke-width="3.7"/>
<path d="M204.3,90.2 C202.7,90.1 197.8,89.2 194.7,89.5 C191.5,89.8 186.8,91.5 185.3,91.9" stroke="#9a9a9a" stroke-width="3.7"/>
<path d="M181,85.3 C181.6,85.7 183.8,86.7 184.5,87.8 C185.2,88.9 185.1,91.2 185.3,91.9" stroke="#9a9a9a" stroke-width="3.7"/>
<path d="M182.7,147.7 C183,147 183.6,144.3 184.7,143.2 C185.8,142.2 188.5,141.8 189.3,141.5" stroke="#9a9a9a" stroke-width="3.7"/>
<path d="M184,126 C184.3,126.4 184.8,127.6 185.4,128 C186,128.4 187.4,128.3 187.8,128.4" stroke="#9a9a9a" stroke-width="3.7"/>
<path d="M184,126 C183,126.2 179.8,126.2 178,126.9 C176.1,127.7 173.7,129.8 172.8,130.3" stroke="#9a9a9a" stroke-width="3.7"/>
<path d="M204.2,102.7 C203.4,103.3 200.9,104.7 199.8,106 C198.6,107.4 197.8,110.2 197.4,111" stroke="#9a9a9a" stroke-width="3.7"/>
<path d="M204.2,102.7 C205.2,104 208.3,107.8 210.2,110.5 C212.1,113.2 214.7,117.4 215.6,118.7" stroke="#9a9a9a" stroke-width="3.7"/>
<path d="M197.4,111 C197.5,112 198.3,114.9 198,116.8 C197.7,118.6 196,121.2 195.6,122.1" stroke="#9a9a9a" stroke-width="3.7"/>
<path d="M195.6,122.1 C196.4,122.9 198.9,125.5 200.8,127 C202.6,128.5 205.7,130.4 206.7,131.1" stroke="#9a9a9a" stroke-width="3.7"/>
<path d="M215.6,118.7 C215.2,120 214.7,124.3 213.2,126.4 C211.7,128.5 207.7,130.3 206.7,131.1" stroke="#9a9a9a" stroke-width="3.7"/>
<path d="M205.2,91.2 C205,92.2 203.9,95 203.8,96.9 C203.6,98.8 204.1,101.8 204.2,102.7" stroke="#9a9a9a" stroke-width="3.7"/>
<path d="M185.8,102.5 C185.7,101.7 185.1,99 185,97.3 C185,95.5 185.2,92.8 185.3,91.9" stroke="#9a9a9a" stroke-width="3.7"/>
<path d="M185.8,102.5 C186.9,103.1 190.4,104.3 192.4,105.7 C194.3,107.1 196.6,110.1 197.4,111" stroke="#9a9a9a" stroke-width="3.7"/>
<path d="M216.2,118.7 C216.1,118.7 216,118.8 215.9,118.8 C215.8,118.8 215.7,118.7 215.6,118.7" stroke="#9a9a9a" stroke-width="3.7"/>
<path d="M184,126 C183.8,124.7 182.9,120.9 182.4,118.3 C182,115.8 181.4,111.9 181.2,110.6" stroke="#9a9a9a" stroke-width="3.7"/>
<path d="M181.2,110.6 C181.6,109.9 182.8,108 183.6,106.6 C184.4,105.3 185.4,103.2 185.8,102.5" stroke="#9a9a9a" stroke-width="3.7"/>
<path d="M187.8,128.4 C188.5,128 190.8,126.8 192.1,125.8 C193.4,124.7 195,122.7 195.6,122.1" stroke="#9a9a9a" stroke-width="3.7"/>
<path d="M168.8,107.1 C170,105.5 173.7,100.8 175.6,97.4 C177.4,93.9 179.3,88.2 180,86.4" stroke="#9a9a9a" stroke-width="3.7"/>
<path d="M168.8,107.1 C168.6,107.3 167.8,108.2 167.1,108.5 C166.4,108.8 165.2,108.7 164.8,108.8" stroke="#9a9a9a" stroke-width="3.7"/>
<path d="M163.7,107.5 C163.8,107.5 164.3,107.7 164.5,107.9 C164.7,108.2 164.8,108.6 164.8,108.8" stroke="#9a9a9a" stroke-width="3.7"/>
<path d="M163.7,107.5 C163.5,106.2 162.8,102.2 162.2,99.6 C161.6,97 160.6,93.2 160.3,91.9" stroke="#9a9a9a" stroke-width="3.7"/>
<path d="M180,86.4 C178.5,87 173.9,89.1 170.7,89.9 C167.5,90.8 162.4,91.1 160.8,91.3" stroke="#9a9a9a" stroke-width="3.7"/>
<path d="M181.2,110.6 C180.1,110.7 176.4,111.7 174.4,111.1 C172.3,110.5 169.8,107.8 168.8,107.1" stroke="#9a9a9a" stroke-width="3.7"/>
<path d="M181,85.3 C181,85.5 180.8,85.8 180.6,86 C180.5,86.2 180.1,86.3 180,86.4" stroke="#9a9a9a" stroke-width="3.7"/>
<path d="M165.5,123.4 C165.2,122.2 163.8,118.6 163.7,116.2 C163.6,113.7 164.7,110 164.8,108.8" stroke="#9a9a9a" stroke-width="3.7"/>
<path d="M147.3,111.8 C148.7,111.9 153.4,112.6 156.1,111.9 C158.8,111.2 162.5,108.2 163.7,107.5" stroke="#9a9a9a" stroke-width="3.7"/>
<path d="M153.9,86.7 C154.3,87.3 155.3,89.3 156.4,90.2 C157.4,91.1 159.6,91.6 160.3,91.9" stroke="#9a9a9a" stroke-width="3.7"/>
<path d="M169.7,72.9 C169.3,74.6 169,80.2 167.5,83.2 C166,86.3 161.9,90 160.8,91.3" stroke="#9a9a9a" stroke-width="3.7"/>
<path d="M218.8,147.1 C218.3,147.3 216.8,148.2 215.7,148.5 C214.6,148.7 212.8,148.5 212.3,148.5" stroke="#9a9a9a" stroke-width="3.7"/>
<path d="M226,129.2 C225.4,130.7 223.5,135.1 222.3,138.1 C221.2,141.1 219.4,145.6 218.8,147.1" stroke="#9a9a9a" stroke-width="3.7"/>
<path d="M239,147.8 C238.1,148.5 235.2,150.6 233.4,152.2 C231.6,153.8 229.2,156.5 228.3,157.3" stroke="#9a9a9a" stroke-width="3.7"/>
<path d="M207.2,145.2 C207.7,145.4 209.4,145.6 210.2,146.2 C211,146.7 211.9,148.1 212.3,148.5" stroke="#9a9a9a" stroke-width="3.7"/>
<path d="M238.9,98.4 C239.5,98.6 241.5,99.3 242.8,99.8 C244.1,100.4 245.9,101.4 246.5,101.8" stroke="#9a9a9a" stroke-width="3.5"/>
<path d="M235.3,86 C235.6,85.7 236.8,84.8 237.4,84.1 C238,83.4 238.8,82.2 239.1,81.8" stroke="#9a9a9a" stroke-width="3.5"/>
<path d="M237.1,64 C237.7,64.5 239.9,65.8 240.6,67.2 C241.4,68.5 241.6,71 241.8,71.8" stroke="#9a9a9a" stroke-width="3.5"/>
<path d="M241.8,71.8 C241.3,72.6 239.5,74.7 239,76.4 C238.6,78.1 239.1,80.9 239.1,81.8" stroke="#9a9a9a" stroke-width="3.5"/>
<path d="M246.5,101.8 C247.1,101.5 249,100.9 250.1,100.2 C251.2,99.5 252.5,97.9 252.9,97.5" stroke="#9a9a9a" stroke-width="3.5"/>
<path d="M239.1,81.8 C240.2,82.4 243.4,84.5 245.7,85.6 C248,86.7 251.7,87.8 252.9,88.2" stroke="#9a9a9a" stroke-width="3.5"/>
<path d="M241.8,71.8 C242.4,71.7 244.4,71.2 245.8,71.1 C247.2,70.9 249.2,71.1 249.9,71.1" stroke="#9a9a9a" stroke-width="3.5"/>
<path d="M83.4,107 C84,106.4 85.3,104.1 86.7,103.4 C88,102.6 90.6,102.6 91.4,102.5" stroke="#9a9a9a" stroke-width="3.5"/>
<path d="M88.8,116.7 C89.7,116.6 92.7,116.6 94.1,115.7 C95.5,114.8 96.7,112.1 97.3,111.4" stroke="#9a9a9a" stroke-width="3.5"/>
<path d="M91.4,102.5 C92.2,103 95,104.4 96,105.9 C96.9,107.4 97,110.5 97.3,111.4" stroke="#9a9a9a" stroke-width="3.5"/>
<path d="M83.4,107 C83.1,107 82.2,106.8 81.6,106.6 C81,106.5 80.1,106.1 79.9,106" stroke="#9a9a9a" stroke-width="3.5"/>
<path d="M82.9,95.1 C82.4,95.5 80.6,96.2 79.8,97 C78.9,97.8 78.1,99.5 77.8,100" stroke="#9a9a9a" stroke-width="3.5"/>
<path d="M82.9,95.1 C83.8,95.4 86.6,95.9 88.1,96.8 C89.7,97.7 91.5,99.9 92.1,100.6" stroke="#9a9a9a" stroke-width="3.5"/>
<path d="M92.1,100.6 C92.1,100.7 92.3,101.3 92.1,101.6 C92,102 91.6,102.3 91.4,102.5" stroke="#9a9a9a" stroke-width="3.5"/>
<path d="M103.1,106.7 C103.7,106.7 105.4,106.6 106.5,106.6 C107.6,106.6 109.3,106.6 109.9,106.6" stroke="#9a9a9a" stroke-width="3.5"/>
<path d="M97.8,111.5 C98.3,111.9 100,113.2 100.8,114.3 C101.6,115.4 102.3,117.3 102.6,118" stroke="#9a9a9a" stroke-width="3.5"/>
<path d="M102.6,118 C103.3,117.7 105.2,116.8 106.6,116.2 C107.9,115.7 109.9,115 110.6,114.8" stroke="#9a9a9a" stroke-width="3.5"/>
<path d="M109.9,106.6 C110.1,107.3 111.5,109.2 111.6,110.6 C111.7,111.9 110.7,114.1 110.6,114.8" stroke="#9a9a9a" stroke-width="3.5"/>
<path d="M106.8,93.5 C106.2,93.9 104.3,95 103,95.9 C101.8,96.8 100.1,98.3 99.5,98.8" stroke="#9a9a9a" stroke-width="3.5"/>
<path d="M94.3,98.3 C94.8,98.2 96.1,97.9 97,98 C97.8,98 99.1,98.6 99.5,98.8" stroke="#9a9a9a" stroke-width="3.5"/>
<path d="M111.9,99.5 C111.5,99 110.3,97.4 109.4,96.4 C108.6,95.4 107.3,93.9 106.8,93.5" stroke="#9a9a9a" stroke-width="3.5"/>
<path d="M111.9,99.5 C112.4,99.4 114,99.3 115,99.1 C116.1,98.8 117.5,98.2 118,98.1" stroke="#9a9a9a" stroke-width="3.5"/>
<path d="M111.9,99.5 C112,100.1 112.7,102.1 112.4,103.2 C112.1,104.3 110.5,105.7 110.2,106.3" stroke="#9a9a9a" stroke-width="3.5"/>
<path d="M103.1,106.7 C102.6,106.1 100.9,104.5 100.3,103.2 C99.7,101.9 99.6,99.5 99.5,98.8" stroke="#9a9a9a" stroke-width="3.5"/>
<path d="M109.9,106.6 C109.9,106.6 110,106.5 110,106.4 C110.1,106.4 110.1,106.3 110.2,106.3" stroke="#9a9a9a" stroke-width="3.5"/>
<path d="M92.1,100.6 C92.3,100.3 92.7,99.6 93,99.2 C93.4,98.9 94.1,98.4 94.3,98.3" stroke="#9a9a9a" stroke-width="3.5"/>
<path d="M97.8,111.5 C97.8,111.5 97.6,111.4 97.5,111.4 C97.4,111.4 97.3,111.4 97.3,111.4" stroke="#9a9a9a" stroke-width="3.5"/>
<path d="M88.6,117.4 C87.8,117.6 85.5,118.6 84,118.8 C82.4,119 79.9,118.6 79.1,118.5" stroke="#9a9a9a" stroke-width="3.5"/>
<path d="M110.2,106.3 C111.1,106.2 114.1,105.4 115.9,105.8 C117.6,106.2 119.9,108.3 120.7,108.8" stroke="#9a9a9a" stroke-width="3.5"/>
<path d="M146.6,84.4 C147.4,85.5 149.6,88.8 151.3,90.9 C153,92.9 154.8,94.9 156.8,96.6 C158.9,98.3 161.2,99.8 163.4,101.2 C165.7,102.5 168.1,103.8 170.5,104.9 C173,105.9 175.5,106.7 178.1,107.3 C180.7,108 183.3,108.5 186,108.8 C188.6,109 192.6,108.9 194,108.9" stroke="#9a9a9a" stroke-width="3.5"/>
<path d="M187.8,153.3 C187.8,154.6 187.5,158.6 187.6,161.3 C187.6,163.9 187.7,166.6 188,169.3 C188.3,171.9 188.9,174.5 189.3,177.1 C189.7,179.8 189.9,182.4 190.3,185.1 C190.7,187.7 191.4,191.6 191.7,193" stroke="#9a9a9a" stroke-width="3.5"/>
<path d="M176.1,34.1 C176.4,35.4 177.3,39.4 177.4,42 C177.6,44.6 177.2,47.3 176.8,50 C176.4,52.6 175.8,55.2 175.1,57.8 C174.4,60.3 173.7,62.9 172.7,65.4 C171.7,67.8 170.5,70.3 169,72.5 C167.6,74.7 165.9,76.9 164,78.7 C162.1,80.5 159.2,82.2 157.5,83.2 C155.8,84.3 154.4,84.6 153.8,84.9" stroke="#9a9a9a" stroke-width="3.5"/>
<path d="M216.9,97.1 C217.3,98.3 218.1,102.3 219,104.8 C220,107.2 221.1,109.7 222.5,112 C223.9,114.2 225.5,116.4 227.3,118.3 C229.2,120.3 231.3,122 233.4,123.5 C235.6,125 238.6,126.6 240.3,127.5 C242.1,128.5 243.4,128.7 244.1,129" stroke="#9a9a9a" stroke-width="3.5"/>
<path d="M152.6,26.3 C152.7,27.6 153,31.6 152.9,34.3 C152.8,36.9 152.5,39.6 152.2,42.2 C151.8,44.9 151.4,47.5 150.7,50.1 C150.1,52.7 148.8,56.5 148.4,57.8" stroke="#9a9a9a" stroke-width="3.5"/>
<path d="M176.7,57.9 C177.5,59.1 179.5,62.5 181.1,64.6 C182.7,66.8 184.3,69 186.2,70.8 C188.1,72.5 190.5,73.9 192.7,75.4 C195,76.8 197.3,78.3 199.7,79.3 C202.1,80.3 204.8,81.1 207.4,81.6 C210,82 212.7,82.3 215.3,82.2 C218,82.1 221.3,81.3 223.2,80.9 C225.2,80.5 226.4,80 227.1,79.8" stroke="#9a9a9a" stroke-width="3.5"/>
<path d="M208.4,18.1 C208.7,19.4 209.8,23.3 209.9,25.9 C210,28.5 209.9,31.3 209.2,33.9 C208.5,36.4 207.1,38.8 205.7,41 C204.3,43.3 202.8,45.7 200.9,47.5 C199.1,49.3 196.7,50.8 194.4,52 C192.1,53.2 188.2,54.3 186.9,54.8" stroke="#9a9a9a" stroke-width="3.5"/>
<path d="M145.3,92.4 C145.3,93.7 145.5,97.7 145.5,100.4 C145.4,103.1 145,105.7 144.8,108.4 C144.5,111 144.2,113.7 143.9,116.3 C143.7,119 143.7,121.6 143.4,124.3 C143.1,126.9 142.8,129.6 142.2,132.2 C141.7,134.8 140.9,137.4 140,139.9 C139,142.3 137.1,145.9 136.5,147.1" stroke="#9a9a9a" stroke-width="3.5"/>
<path d="M148.1,79.5 C147.5,80.7 145.6,84.2 144.2,86.5 C142.8,88.7 141.2,90.9 139.6,93 C138.1,95.2 136.7,97.5 135.1,99.6 C133.4,101.7 130.5,104.5 129.6,105.4" stroke="#9a9a9a" stroke-width="3.5"/>
<path d="M162,99.6 C162.1,101 162.3,104.9 162.3,107.6 C162.3,110.3 162.3,112.9 162,115.6 C161.8,118.2 161.4,120.9 160.9,123.5 C160.4,126.1 159.6,128.7 158.9,131.3 C158.2,133.8 157.4,136.4 156.7,138.9 C155.9,141.5 155.2,144.1 154.5,146.6 C153.7,149.2 152.4,153 152,154.2" stroke="#9a9a9a" stroke-width="3.5"/>
<path d="M212.3,125.1 C211.5,126.2 209.2,129.4 207.5,131.5 C205.8,133.5 204,135.5 202.1,137.3 C200.2,139.2 198,140.8 195.9,142.3 C193.7,143.9 191.5,145.4 189.2,146.7 C186.9,148.1 184.5,149.4 182.2,150.5 C179.8,151.7 177.3,152.8 174.8,153.8 C172.3,154.7 168.5,155.8 167.2,156.2" stroke="#9a9a9a" stroke-width="3.5"/>
<path d="M203.1,127.9 C202.7,129.1 201,132.7 200.2,135.3 C199.5,137.8 198.9,140.5 198.7,143.1 C198.4,145.7 198.3,148.5 198.6,151.1 C198.9,153.7 199.7,156.3 200.4,158.9 C201.2,161.4 202.1,163.9 203.1,166.4 C204.2,168.8 205.9,171.7 206.9,173.4 C207.9,175.2 208.8,176.2 209.1,176.7" stroke="#9a9a9a" stroke-width="3.5"/>
<path d="M218.5,37.5 C219,38.7 220.6,42.4 221.8,44.8 C223,47.1 224.5,49.4 225.7,51.8 C226.9,54.2 227.8,56.7 228.9,59.1 C229.9,61.5 231.5,65.2 232.1,66.4" stroke="#9a9a9a" stroke-width="3.5"/>
<path d="M187.1,54.2 C186.4,55.3 184.2,58.7 182.8,60.9 C181.4,63.2 180,65.5 178.5,67.7 C177.1,69.9 175.7,72.2 173.9,74.2 C172.1,76.2 170,77.9 167.8,79.4 C165.7,81 162.7,82.5 161,83.6 C159.3,84.6 158.1,85.3 157.6,85.6" stroke="#9a9a9a" stroke-width="3.5"/>
<path d="M190.1,149.8 C191.2,150.5 194.6,152.7 197,153.8 C199.4,155 201.9,155.8 204.4,156.7 C206.9,157.6 210.1,158.8 212,159.4 C213.9,160.1 215.1,160.4 215.8,160.6" stroke="#9a9a9a" stroke-width="3.4"/>
<path d="M178.5,69.9 C179.2,71.1 181.4,74.5 182.7,76.8 C184,79.1 185.3,81.4 186.6,83.7 C188,86 189.3,88.3 190.8,90.6 C192.2,92.8 194.1,95.6 195.2,97.2 C196.4,98.8 197.3,99.9 197.7,100.4" stroke="#9a9a9a" stroke-width="3.4"/>
<path d="M221.9,141.1 C222.9,142 225.8,144.7 227.7,146.6 C229.6,148.5 231.5,150.4 233.2,152.5 C234.8,154.5 236.4,156.7 237.8,159 C239.2,161.2 240.8,164.2 241.6,166 C242.5,167.8 242.6,169.2 242.8,169.8" stroke="#9a9a9a" stroke-width="3.4"/>
<path d="M203.5,77.6 C203.5,78.9 203.7,82.9 203.6,85.6 C203.5,88.2 203.5,90.9 203,93.5 C202.6,96.1 201.5,99.3 200.8,101.2 C200.1,103.1 199.4,104.2 199.1,104.8" stroke="#9a9a9a" stroke-width="3.4"/>
<path d="M187.8,149.8 C188.2,151.1 190,154.7 190.6,157.3 C191.1,159.9 191.2,162.6 191.1,165.3 C191.1,168 190.7,170.6 190.4,173.3 C190,175.9 189.6,178.5 189,181.1 C188.5,183.7 187.9,186.4 187.1,188.9 C186.3,191.4 184.9,194.5 184.2,196.3 C183.4,198.2 183,199.5 182.8,200.1" stroke="#9a9a9a" stroke-width="3.4"/>
<path d="M202.4,128.6 C202.4,129.9 202.2,133.9 202.6,136.6 C202.9,139.2 203.6,141.8 204.3,144.3 C205,146.9 206,149.4 207,151.9 C208,154.4 209,156.8 210.1,159.2 C211.2,161.7 212.2,164.2 213.6,166.4 C215,168.7 217.7,171.7 218.5,172.7" stroke="#9a9a9a" stroke-width="3.4"/>
<path d="M232.6,110.3 C233.5,111.3 236.4,114.1 238,116.2 C239.6,118.4 240.9,120.7 242,123.2 C243,125.6 243.7,128.2 244.3,130.8 C244.9,133.4 245.1,136.7 245.3,138.7 C245.5,140.7 245.6,142 245.6,142.7" stroke="#9a9a9a" stroke-width="3.4"/>
<path d="M212.8,130 C214,130.6 217.3,132.8 219.7,134 C222.1,135.2 224.6,136.2 227.1,137.2 C229.5,138.1 232.1,139 234.6,139.8 C237.2,140.5 241.1,141.2 242.4,141.5" stroke="#9a9a9a" stroke-width="3.4"/>
<path d="M248.3,53.5 C248.5,54.8 248.9,58.8 249.3,61.4 C249.6,64.1 250.1,66.7 250.6,69.3 C251.1,71.9 251.6,74.6 252.4,77.1 C253.1,79.7 254.2,82.8 254.9,84.7 C255.5,86.6 256,87.8 256.3,88.5" stroke="#9a9a9a" stroke-width="3.3"/>
<path d="M247.1,33.4 C247.5,34.7 248.8,38.4 249.4,41 C250,43.6 250.5,46.3 250.7,48.9 C251,51.6 250.9,54.9 250.7,56.9 C250.6,58.9 250.2,60.2 250.1,60.8" stroke="#9a9a9a" stroke-width="3.3"/>
<path d="M251.1,20.3 C250.8,21.6 249.7,25.4 249,28 C248.3,30.6 247.8,33.2 246.9,35.7 C246.1,38.3 244.5,41.9 244.1,43.2" stroke="#9a9a9a" stroke-width="3.3"/>
<path d="M37.5,15 C39,15.2 43.7,15.9 46.8,16.4 C49.9,16.9 52.4,17.4 56.2,18 C60,18.6 65.1,19 69.6,19.7 C74.1,20.4 78.6,21.3 83.1,22 C87.6,22.7 92.1,23.3 96.6,23.8 C101.1,24.3 106.4,25 110,25 C113.6,25 115.4,24.8 118,24 C120.6,23.2 123.1,21.5 125.5,20.5 C127.9,19.5 129.6,18.5 132.3,17.8 C135,17.1 140.2,16.7 141.8,16.5" stroke="#9a9a9a" stroke-width="4"/>
<path d="M52.2,17 C52.4,18 52.8,21 53.5,23.1 C54.2,25.2 55.2,27.6 56.2,29.8 C57.2,32 58.2,34.9 59.6,36.6 C61,38.3 62.8,38.8 64.3,39.9 C65.8,41 67.1,42.1 68.3,43.3 C69.5,44.5 70.6,45.9 71.7,47.3 C72.8,48.6 74.5,50.7 75,51.4" stroke="#9a9a9a" stroke-width="3.7"/>
<path d="M38,33.9 C39,34.6 41.7,36.7 44.1,37.9 C46.5,39.1 49.5,40.3 52.2,41.3 C54.9,42.3 57.5,43.2 60.2,44 C62.9,44.8 65.8,45.1 68.3,46.3 C70.8,47.5 73.9,50.5 75,51.4" stroke="#9a9a9a" stroke-width="3.7"/>
<path d="M75,51.4 C75.9,50.9 78.4,49.9 80.4,48.5 C82.4,47.1 84.6,45.1 87.1,43.3 C89.6,41.5 92.7,39.3 95.2,37.9 C97.7,36.5 99.5,35.8 102,35 C104.5,34.2 107.2,33.4 110,33 C112.8,32.6 114.2,33 118.6,32.8 C123,32.5 133.4,31.7 136.4,31.5" stroke="#9a9a9a" stroke-width="3.6"/>
<path d="M69.6,44 C71.4,43.9 77.5,44.3 80.4,43.3 C83.3,42.3 84.8,39.7 87.1,37.9 C89.3,36.1 91.7,33.9 93.9,32.5 C96.2,31.1 97.9,30.5 100.6,29.8 C103.3,29.1 108.4,28.7 110,28.5" stroke="#9a9a9a" stroke-width="3.4"/>
<path d="M75,51.4 C74.5,52.3 73,55.7 72.3,56.8 C71.6,57.9 71.7,56.5 71,58 C70.3,59.5 69.2,63.8 68.3,66.1 C67.4,68.3 66.3,69.5 65.6,71.5 C64.9,73.5 64.3,76 64.3,78.2 C64.3,80.4 64.9,82.9 65.6,84.9 C66.3,86.9 67.2,88.5 68.3,90.3 C69.4,92.1 70.9,93.7 72.3,95.7 C73.7,97.7 75.1,100 76.4,102.4 C77.8,104.8 79.7,108.7 80.4,110" stroke="#9a9a9a" stroke-width="3.7"/>
<path d="M44,114 C44.7,113.3 46.3,111.9 48.1,110 C49.9,108.1 52.3,105.2 54.8,102.4 C57.3,99.6 60.4,95.9 62.9,93 C65.4,90.1 67.3,87.4 69.6,84.9 C71.8,82.4 73.7,80.9 76.4,78.2 C79.1,75.5 82.7,72.2 85.8,68.8 C88.9,65.4 92,61.5 95.2,58 C98.4,54.5 101.1,51.1 105,47.8 C108.9,44.5 115,41 118.6,38.3 C122.2,35.6 124.5,33.3 126.8,31.5 C129.1,29.7 130,28.5 132.3,27.4 C134.6,26.2 139.1,25.1 140.5,24.6" stroke="#9a9a9a" stroke-width="3.6"/>
<path d="M38.7,66.1 C40.5,66.2 45.9,66.6 49.5,66.7 C53.1,66.8 57.1,66.5 60.2,66.7 C63.3,66.9 67,67.9 68.3,68.1" stroke="#9a9a9a" stroke-width="3.4"/>
<path d="M38.7,68.8 C40.1,69.7 44.3,72.6 46.8,74.2 C49.3,75.8 51.7,76.4 53.5,78.2 C55.3,80 55.7,83.1 57.5,84.9 C59.3,86.7 62,87.7 64.3,89 C66.5,90.3 69.2,91.4 71,93 C72.8,94.6 74.1,96.6 75,98.4 C75.9,100.2 76.2,102.9 76.4,103.8" stroke="#9a9a9a" stroke-width="3.6"/>
<path d="M38.7,89 C40.1,89.4 43.9,90.9 46.8,91.6 C49.7,92.3 53.3,92.8 56.2,93 C59.1,93.2 62.9,93 64.3,93" stroke="#9a9a9a" stroke-width="3.5"/>
<path d="M38.7,94.3 C40.1,95 43.9,97.3 46.8,98.4 C49.7,99.5 53.1,100.4 56.2,101.1 C59.3,101.8 64,102.2 65.6,102.4" stroke="#9a9a9a" stroke-width="3.5"/>
<path d="M38.7,102.4 C39.6,103.3 42.8,106.5 44.1,107.8 C45.5,109.1 46.3,109.6 46.8,110" stroke="#9a9a9a" stroke-width="3.4"/>
<path d="M85.8,70.8 C87.6,70.9 92.6,71.3 96.6,71.5 C100.6,71.7 107.8,72 110,72.1" stroke="#9a9a9a" stroke-width="3.4"/>
<path d="M84.5,70 C84.5,72.5 84.5,80 84.5,85 C84.5,90 84.4,95.5 84.5,100 C84.6,104.5 84.9,110 85,112" stroke="#9a9a9a" stroke-width="3.4"/>
<path d="M103.3,45 C103.3,47.2 103.3,53.8 103.3,58 C103.3,62.2 103.3,66.3 103.3,70 C103.3,73.7 103.5,76.3 103.3,80 C103.1,83.7 102.2,90 102,92" stroke="#9a9a9a" stroke-width="3.3"/>
<path d="M84.5,91.6 C85.4,92.5 87.8,95.4 89.8,97 C91.8,98.6 93.2,100 96.6,101.1 C100,102.2 107.8,103.3 110,103.8" stroke="#9a9a9a" stroke-width="3.4"/>
<path d="M142,12 C141.4,15.6 139.9,26.1 138.6,33.4 C137.3,40.7 135.8,48.3 134.1,55.8 C132.4,63.3 130.2,71.7 128.5,78.2 C126.8,84.7 125.6,90.4 124,95 C122.4,99.6 121,102.7 119,106 C117,109.3 114.8,111.7 112,115 C109.2,118.3 105.3,123 102,126 C98.7,129 95.7,130.7 92,133 C88.3,135.3 84.3,137.8 80,140 C75.7,142.2 70.7,144.3 66,146 C61.3,147.7 56.7,149 52,150 C47.3,151 40.3,151.7 38,152" stroke="#9a9a9a" stroke-width="4"/>
<path d="M153,12 C152.1,15.6 149.5,26.1 147.5,33.4 C145.5,40.7 143,48.3 140.8,55.8 C138.6,63.3 135.8,70.8 134.1,78.2 C132.4,85.7 131.4,94.2 130.7,100.5 C129.9,106.8 129.4,111.6 129.6,116 C129.8,120.4 130.9,123.8 132,127 C133.1,130.2 135,132 136.4,135 C137.8,138 138.9,141.3 140.5,145 C142.1,148.7 145,155 145.9,157" stroke="#9a9a9a" stroke-width="3.9"/>
<path d="M105,63.5 C106.1,64 109.5,65.1 111.8,66.2 C114.1,67.3 116.5,68.9 118.6,70.3 C120.6,71.7 122.7,73 124.1,74.4 C125.5,75.8 126.3,77.8 126.8,78.5" stroke="#9a9a9a" stroke-width="3.4"/>
<path d="M113.2,82.6 C112.8,84.4 111.4,90.5 110.5,93.5 C109.6,96.5 108.2,99.2 107.7,100.3" stroke="#9a9a9a" stroke-width="3.3"/>
<path d="M150,58 C150.2,59.8 151.4,64.4 151.4,68.9 C151.4,73.5 150.9,81.2 150,85.3 C149.1,89.4 147.3,90.5 145.9,93.5 C144.5,96.5 142.9,100.2 141.8,103 C140.7,105.8 139.6,108.8 139.1,110" stroke="#9a9a9a" stroke-width="3.5"/>
<path d="M141.8,58 C142.5,58.7 144.3,60.3 145.9,62.1 C147.5,63.9 149.1,68.9 151.4,68.9 C153.7,68.9 157.8,63.9 159.6,62.1 C161.4,60.3 161.9,58.7 162.3,58" stroke="#9a9a9a" stroke-width="3.4"/>
<path d="M150,85.3 C151.1,85.1 154.5,83.9 156.8,83.9 C159.1,83.9 161.9,83.9 163.7,85.3 C165.5,86.7 165.1,90.5 167.8,92.1 C170.5,93.7 178,94.3 180,94.8" stroke="#9a9a9a" stroke-width="3.4"/>
<path d="M159.6,62.1 C160.1,63.7 161.4,67.7 162.3,71.6 C163.2,75.5 164.3,81.6 165,85.3 C165.7,89 166.6,91.2 166.4,93.5 C166.2,95.8 165.3,96.9 163.7,98.9 C162.1,100.9 158.4,103.9 156.8,105.7 C155.2,107.5 154.6,109.3 154.1,110" stroke="#9a9a9a" stroke-width="3.4"/>
<path d="M166.4,58 C166.8,60.3 168.4,67 169.1,71.6 C169.8,76.1 170.1,81.2 170.5,85.3 C170.9,89.4 171.6,94.4 171.8,96.2" stroke="#9a9a9a" stroke-width="3.4"/>
<path d="M174.6,58 C174.8,60.3 175.6,67 176,71.6 C176.4,76.1 176.9,81.4 177.3,85.3 C177.8,89.2 178.5,93.2 178.7,94.8" stroke="#9a9a9a" stroke-width="3.4"/>
<path d="M154,12 C154.2,15 154.9,24.5 155,30 C155.1,35.5 154.8,40.3 154.5,45 C154.2,49.7 153.2,55.8 153,58" stroke="#9a9a9a" stroke-width="3.4"/>
<path d="M161,12 C161.2,15 161.8,24.5 162,30 C162.2,35.5 162.4,40.3 162.5,45 C162.6,49.7 162.3,55.8 162.3,58" stroke="#9a9a9a" stroke-width="3.4"/>
<path d="M165,12 C165.2,15.8 165.8,27.3 166,35 C166.2,42.7 166.3,54.2 166.4,58" stroke="#9a9a9a" stroke-width="3.4"/>
<path d="M169,12 C169.2,15.8 169.8,27.3 170,35 C170.2,42.7 170.4,54.2 170.5,58" stroke="#9a9a9a" stroke-width="3.4"/>
<path d="M176,12 C175.9,15.8 175.7,27.3 175.5,35 C175.3,42.7 174.8,54.2 174.6,58" stroke="#9a9a9a" stroke-width="3.4"/>
<path d="M179.4,12 C179.2,15.8 178.3,27.3 178,35 C177.7,42.7 178.1,50.5 177.8,58 C177.5,65.5 176.7,73 176.4,80 C176.1,87 176.1,96.7 176,100" stroke="#9a9a9a" stroke-width="3.4"/>
<path d="M182.8,12 C182.8,15.8 183.1,27 183,35 C182.9,43 182.3,52.5 182.1,60 C181.9,67.5 181.8,73.3 182,80 C182.2,86.7 182.8,96.7 183,100" stroke="#9a9a9a" stroke-width="3.5"/>
<path d="M187,12 C187.2,15.8 187.6,27 188,35 C188.4,43 188.9,52.5 189.2,60 C189.5,67.5 190,72.5 190,80 C190,87.5 189.3,100.8 189.2,105" stroke="#9a9a9a" stroke-width="3.5"/>
<path d="M193.4,40 C193.4,43 193.3,51.3 193.4,58 C193.5,64.7 194,73 194,80 C194,87 193.7,92.8 193.4,100 C193.1,107.2 192.2,119.5 192,123.4" stroke="#9a9a9a" stroke-width="3.4"/>
<path d="M125.5,35.6 C125.5,38 125.5,45.4 125.5,50 C125.5,54.6 125.5,60.8 125.5,63" stroke="#9a9a9a" stroke-width="3.3"/>
<path d="M111.8,49.2 C113.2,49.2 116.3,49.2 120,49.2 C123.7,49.2 131.7,49.2 134,49.2" stroke="#9a9a9a" stroke-width="3.3"/>
<path d="M195,13 C193.2,14 187.3,17 184,19 C180.7,21 178.2,23 175,25 C171.8,27 168.5,28.5 165,31 C161.5,33.5 157.5,36 154.2,40.1 C150.9,44.2 147.5,50.2 145.3,55.8 C143.1,61.4 142.3,67 140.8,73.7 C139.3,80.4 137.8,89.7 136.3,96 C134.8,102.3 132.6,109.1 131.9,111.7" stroke="#9a9a9a" stroke-width="3.6"/>
<path d="M217.6,12 C217.8,14.2 218.3,20.6 219,25.2 C219.7,29.8 220.6,35.1 221.8,39.4 C223,43.6 224.8,47.6 226,50.7 C227.2,53.8 228,55.6 228.9,58 C229.8,60.4 230.3,62.3 231.7,65.1 C233.1,67.9 235.5,71.5 237.4,75 C239.3,78.5 241.2,82.6 243.1,86.4 C245,90.2 247.2,94.6 248.8,97.7 C250.5,100.8 252.3,103.6 253,104.8" stroke="#9a9a9a" stroke-width="3.7"/>
<path d="M228.9,26.6 C230.6,26.2 235,25 238.8,24.5 C242.6,24 249.5,23.9 251.6,23.8" stroke="#9a9a9a" stroke-width="3.4"/>
<path d="M251.6,23.8 C250.7,25.2 247.8,29 245.9,32.3 C244,35.6 241.6,41 240.2,43.6 C238.8,46.2 237.9,47.2 237.4,47.9" stroke="#9a9a9a" stroke-width="3.2"/>
<path d="M189,29.4 C191.3,29.2 199.2,28 203,28 C206.8,28 208.9,27.5 212,29.4 C215.1,31.3 220.2,37.7 221.8,39.4" stroke="#9a9a9a" stroke-width="3.4"/>
<path d="M186,40 C188.3,39.5 195.2,36.7 200,37 C204.8,37.3 210.8,39.8 215,42 C219.2,44.2 223.3,48.7 225,50" stroke="#9a9a9a" stroke-width="3.3"/>
<path d="M190,50 C192.5,49.5 200.3,46.2 205,47 C209.7,47.8 213.8,52.3 218,55 C222.2,57.7 228,61.7 230,63" stroke="#9a9a9a" stroke-width="3.3"/>
<path d="M175,95.6 C177.5,95.6 185.3,95.6 190,95.6 C194.7,95.6 198.8,95 203.4,95.6 C208,96.2 215.2,98.5 217.6,99.1" stroke="#9a9a9a" stroke-width="3.5"/>
<path d="M194.9,62.3 C196.3,62.6 200.6,63.5 203.4,64.4 C206.2,65.3 209.5,66.6 211.9,67.9 C214.3,69.2 215.9,70.5 217.6,72.2 C219.2,73.9 220.6,76 221.8,77.9 C223,79.8 224.4,81.4 224.6,83.5 C224.8,85.6 223.7,88.2 223.2,90.6 C222.7,93 222.3,94.5 221.8,97.7 C221.3,100.9 220.9,106.4 220.4,110 C219.9,113.6 219.5,115.3 219,119.2 C218.5,123.1 217.6,129.2 217.6,133.4 C217.6,137.7 218.5,140.9 219,144.7 C219.5,148.5 220.2,154.1 220.4,156" stroke="#9a9a9a" stroke-width="3.6"/>
<path d="M196.3,72.2 C198.2,72.2 204.3,71.7 207.6,72.2 C210.9,72.7 214,73.6 216.1,75 C218.2,76.4 219.7,79.8 220.4,80.7" stroke="#9a9a9a" stroke-width="3.4"/>
<path d="M236,58 C236.7,59.4 238.8,64.1 240.2,66.5 C241.6,68.9 242.4,70.5 244.5,72.2 C246.6,73.9 251.6,75.7 253,76.4" stroke="#9a9a9a" stroke-width="3.4"/>
<path d="M222,70 C223,69.7 226,67.7 228,68 C230,68.3 232.7,70.5 234,72 C235.3,73.5 235.7,76.2 236,77" stroke="#9a9a9a" stroke-width="3.3"/>
<path d="M224,76 C224.8,75.5 227.5,72.7 229,73 C230.5,73.3 233.2,76.8 233,78 C232.8,79.2 228.8,79.7 228,80" stroke="#9a9a9a" stroke-width="3.3"/>
<path d="M41.4,105 C42.3,106.3 44.3,110.6 46.8,113.1 C49.3,115.6 52.8,118 56.2,119.8 C59.6,121.6 63.9,122.9 67,123.8 C70.1,124.7 73.7,125 75,125.2" stroke="#9a9a9a" stroke-width="3.6"/>
<path d="M53.5,105 C54.6,105.9 57.7,108.6 60.2,110.4 C62.7,112.2 66.3,113.8 68.3,115.8 C70.3,117.8 71.4,119.8 72.3,122.5 C73.2,125.2 73.2,128.5 73.7,131.9 C74.2,135.3 74.8,140.9 75,142.7" stroke="#9a9a9a" stroke-width="3.5"/>
<path d="M38.7,122.5 C39.6,123 41.9,124.3 44.1,125.2 C46.4,126.1 49.1,127.3 52.2,127.9 C55.3,128.5 59.5,128.4 62.9,128.6 C66.2,128.8 70.7,129.1 72.3,129.2" stroke="#9a9a9a" stroke-width="3.5"/>
<path d="M38.7,129.2 C39.6,129.9 42.8,131.5 44.1,133.3 C45.5,135.1 45.9,138 46.8,140 C47.7,142 47.9,143.8 49.5,145.4 C51.1,147 55.1,148.7 56.2,149.4" stroke="#9a9a9a" stroke-width="3.5"/>
<path d="M77.7,111.7 C78.8,112.4 82.5,114.7 84.5,115.8 C86.5,116.9 88.2,117.4 89.8,118.5 C91.4,119.6 93.2,121.8 93.9,122.5" stroke="#9a9a9a" stroke-width="3.4"/>
<path d="M76.4,119.8 C76.9,120.7 77.8,123.2 79.1,125.2 C80.4,127.2 82.7,130.1 84.5,131.9 C86.3,133.7 88.9,135.3 89.8,136" stroke="#9a9a9a" stroke-width="3.4"/>
<path d="M87.1,105 C88,105.9 90.5,108.2 92.5,110.4 C94.5,112.7 97.5,115.8 99.3,118.5 C101.1,121.2 102.6,125.2 103.3,126.5" stroke="#9a9a9a" stroke-width="3.4"/>
<path d="M136.4,133.6 C138,132.9 143.2,131.2 145.9,129.6 C148.6,128 150.9,125.9 152.7,124.1 C154.5,122.3 155.7,120.9 156.8,118.6 C158,116.3 158.9,112.8 159.6,110.5 C160.3,108.2 160.7,105.9 160.9,105" stroke="#9a9a9a" stroke-width="3.5"/>
<path d="M156.8,100 C157,103.1 157.7,113.2 158.2,118.6 C158.7,124 158.9,127.8 159.6,132.3 C160.3,136.9 161.6,141.8 162.3,145.9 C163,150 163.5,155.2 163.7,157" stroke="#9a9a9a" stroke-width="3.5"/>
<path d="M166.4,100 C166.2,103.1 164.8,113.2 165,118.6 C165.2,124 166.4,127.8 167.8,132.3 C169.2,136.9 171.8,141.8 173.2,145.9 C174.6,150 175.5,155.2 176,157" stroke="#9a9a9a" stroke-width="3.4"/>
<path d="M139,139 C140.2,138.3 143.5,136.1 146,135 C148.5,133.9 151.1,132.5 154,132.3 C156.9,132.1 160.5,132.9 163.7,133.6 C166.9,134.3 170.5,136.2 173.2,136.4 C175.9,136.6 178.9,135.2 180,135" stroke="#9a9a9a" stroke-width="3.4"/>
<path d="M170.5,105 C170.9,106.4 171.8,110.5 173.2,113.2 C174.6,115.9 177.8,120 178.7,121.4" stroke="#9a9a9a" stroke-width="3.4"/>
<path d="M175,109.3 C176.4,110.5 180.7,113.9 183.5,116.3 C186.3,118.7 189.4,120.6 192,123.4 C194.6,126.2 197.2,129.9 199.1,133.4 C201,136.9 202,140.9 203.4,144.7 C204.8,148.5 206.9,154.1 207.6,156" stroke="#9a9a9a" stroke-width="3.5"/>
<path d="M189.2,105 C189.9,106.9 192.2,112.5 193.4,116.3 C194.6,120.1 195.4,123.9 196.3,127.7 C197.2,131.5 198.2,134.3 199.1,139 C200,143.7 201.5,153.2 202,156" stroke="#9a9a9a" stroke-width="3.4"/>
<path d="M199.1,100 C199.8,103.2 202,113.6 203.4,119.2 C204.8,124.8 206.2,129.2 207.6,133.4 C209,137.7 210.7,140.9 211.9,144.7 C213.1,148.5 214.2,154.1 214.7,156" stroke="#9a9a9a" stroke-width="3.5"/>
<path d="M175,126.3 C176.9,126.8 182.5,127.9 186.3,129.1 C190.1,130.3 194.1,132 197.7,133.4 C201.2,134.8 203.8,135.9 207.6,137.6 C211.4,139.2 216.4,141.9 220.4,143.3 C224.4,144.7 229.8,145.6 231.7,146.1" stroke="#9a9a9a" stroke-width="3.4"/>
<path d="M175,136.2 C176.4,136.4 180.7,136.9 183.5,137.6 C186.3,138.3 188.7,138.8 192,140.5 C195.3,142.2 200.1,145 203.4,147.6 C206.7,150.2 210.5,154.6 211.9,156" stroke="#9a9a9a" stroke-width="3.4"/>
<path d="M226,105 C226.9,106.2 229.8,109.3 231.7,112.1 C233.6,114.9 236,118.5 237.4,122 C238.8,125.5 239.5,129.6 240.2,133.4 C240.9,137.2 240,141.6 241.7,144.7 C243.4,147.8 248.8,150.6 250.2,151.8" stroke="#9a9a9a" stroke-width="3.5"/>
<path d="M245.9,105 C245.4,107.4 243.8,115.4 243.1,119.2 C242.4,123 241.9,126.3 241.7,127.7" stroke="#9a9a9a" stroke-width="3.3"/>
<path d="M231.7,130.5 C230.5,131.7 226.2,135.7 224.6,137.6 C222.9,139.5 222,140.2 221.8,141.9 C221.6,143.6 223,146.7 223.2,147.6" stroke="#9a9a9a" stroke-width="3.4"/>
<path d="M251.6,96 C251.6,101.7 251.7,120 251.6,130 C251.5,140 251.1,151.7 251,156" stroke="#9a9a9a" stroke-width="3.4"/>
<path d="M180,100 C180.8,101.3 184.4,105.3 185,108 C185.6,110.7 183.8,114.9 183.5,116.3" stroke="#9a9a9a" stroke-width="3.4"/>
<path d="M203.4,95.6 C204,96.8 207,99.1 207,103 C207,106.9 204,116.5 203.4,119.2" stroke="#9a9a9a" stroke-width="3.3"/>
<path d="M208,100 C209,101 211.9,104.3 214,106 C216.1,107.7 219.3,109.3 220.4,110" stroke="#9a9a9a" stroke-width="3.3"/>
</g><g fill="none" stroke-linecap="round" stroke-linejoin="round" filter="url(#fb0)">
<path d="M74.9,70.4 C75.6,69.5 77.7,66.9 79.2,65.4 C80.8,63.8 83.4,61.8 84.3,61" stroke="#b0b0b0" stroke-width="1.3"/>
<path d="M74.9,70.4 C75.1,70.9 75.6,72.4 75.8,73.4 C76.1,74.5 76.1,76.1 76.2,76.6" stroke="#b6b6b6" stroke-width="1.3"/>
<path d="M88.1,74.1 C88.5,73.4 90,71.5 90.6,70 C91.1,68.6 91.3,66.1 91.5,65.3" stroke="#b3b3b3" stroke-width="1.3"/>
<path d="M91.5,65.3 C91.5,65.3 91.5,65.2 91.4,65.1 C91.4,65 91.4,64.9 91.3,64.9" stroke="#a6a6a6" stroke-width="1.3"/>
<path d="M91.3,64.9 C90.8,64.5 89.3,63 88.1,62.4 C86.9,61.7 84.9,61.3 84.3,61" stroke="#a8a8a8" stroke-width="1.3"/>
<path d="M76.2,76.6 C76.6,76.8 77.8,77.2 78.6,77.6 C79.4,78 80.5,78.8 80.9,79" stroke="#b6b6b6" stroke-width="1.3"/>
<path d="M66.9,61.5 C67.5,62.3 69.5,64.6 70.8,66 C72.2,67.5 74.2,69.6 74.9,70.4" stroke="#a0a0a0" stroke-width="1.3"/>
<path d="M76.2,76.6 C75.5,77 73.8,78.5 72.4,79.1 C71.1,79.7 68.8,80 68.1,80.2" stroke="#b5b5b5" stroke-width="1.3"/>
<path d="M120.2,39.6 C119.9,39.8 118.8,40.5 118.1,41 C117.4,41.5 116.5,42.4 116.2,42.7" stroke="#b4b4b4" stroke-width="1.3"/>
<path d="M120.2,39.6 C120.3,38.6 120,35.6 120.4,33.7 C120.8,31.8 122.4,29.2 122.8,28.4" stroke="#acacac" stroke-width="1.3"/>
<path d="M104.5,26.4 C105.4,27.5 108.7,30.5 109.8,33 C110.8,35.5 110.7,39.9 110.8,41.3" stroke="#a8a8a8" stroke-width="1.3"/>
<path d="M110.8,41.3 C111.3,41.2 112.9,40.8 113.8,41 C114.7,41.2 115.8,42.4 116.2,42.7" stroke="#a7a7a7" stroke-width="1.3"/>
<path d="M122.8,28.4 C122.6,28.1 122,27.3 121.5,26.9 C121,26.4 120.1,26 119.8,25.8" stroke="#a6a6a6" stroke-width="1.3"/>
<path d="M95,40.8 C95.5,41 97.2,41.7 98.1,42.4 C98.9,43.2 99.8,44.7 100.2,45.2" stroke="#ababab" stroke-width="1.3"/>
<path d="M95,40.8 C94.5,41 93.1,41.8 92.1,42.3 C91.1,42.8 89.6,43.4 89.1,43.7" stroke="#adadad" stroke-width="1.3"/>
<path d="M100.2,45.2 C100.3,45.9 100.9,48.1 100.8,49.5 C100.7,51 99.8,53.1 99.6,53.8" stroke="#aeaeae" stroke-width="1.3"/>
<path d="M97.9,54.9 C96.9,54 94.4,50.5 92.2,49.8 C89.9,49.1 85.8,50.4 84.5,50.5" stroke="#b9b9b9" stroke-width="1.3"/>
<path d="M97.9,54.9 C98,54.7 98.4,54.3 98.6,54.1 C98.9,54 99.5,53.8 99.6,53.8" stroke="#b4b4b4" stroke-width="1.3"/>
<path d="M84.5,50.5 C85.1,50 87.3,49 88.1,47.9 C88.8,46.8 89,44.4 89.1,43.7" stroke="#b0b0b0" stroke-width="1.3"/>
<path d="M91.3,64.9 C91.8,63.9 92.8,61 93.8,59.4 C94.9,57.7 97.2,55.6 97.9,54.9" stroke="#b9b9b9" stroke-width="1.3"/>
<path d="M84.3,61 C83.8,60.4 82.2,58.6 81.5,57.3 C80.8,55.9 80.3,53.6 80,52.9" stroke="#a5a5a5" stroke-width="1.3"/>
<path d="M84.5,50.5 C84.2,50.8 83.5,52.2 82.8,52.6 C82,53 80.5,52.8 80,52.9" stroke="#a4a4a4" stroke-width="1.3"/>
<path d="M66.9,61.5 C66.8,61.1 66.2,59.7 66.2,58.8 C66.1,57.9 66.6,56.5 66.6,56.1" stroke="#afafaf" stroke-width="1.3"/>
<path d="M66.6,56.1 C67.6,55.9 70.5,56.1 72.1,55.3 C73.8,54.6 75.6,52.3 76.3,51.7" stroke="#a1a1a1" stroke-width="1.3"/>
<path d="M80,52.9 C79.7,52.9 78.6,53.2 77.9,53 C77.3,52.8 76.6,51.9 76.3,51.7" stroke="#a1a1a1" stroke-width="1.3"/>
<path d="M100.2,45.2 C101,44.5 103.1,42 104.8,41.3 C106.6,40.7 109.8,41.3 110.8,41.3" stroke="#adadad" stroke-width="1.3"/>
<path d="M99.6,53.8 C100.3,54.7 102.1,58 104,59.2 C105.8,60.3 109.6,60.3 110.7,60.6" stroke="#acacac" stroke-width="1.3"/>
<path d="M116.2,42.7 C116.3,43.3 116.9,45.2 117,46.5 C117.1,47.7 116.9,49.7 116.9,50.3" stroke="#b7b7b7" stroke-width="1.3"/>
<path d="M116.9,50.3 C116.7,51.3 116.6,54.8 115.6,56.5 C114.6,58.2 111.5,59.9 110.7,60.6" stroke="#b0b0b0" stroke-width="1.3"/>
<path d="M88.1,74.1 C88.9,74.8 91.3,77.4 93.2,78.5 C95.2,79.6 98.6,80.3 99.7,80.7" stroke="#adadad" stroke-width="1.3"/>
<path d="M91.5,65.3 C92.3,65.7 94.9,66.6 96.5,67.3 C98.2,68 100.6,69.2 101.4,69.6" stroke="#acacac" stroke-width="1.3"/>
<path d="M101.4,69.6 C101.3,70.5 100.8,73.3 100.5,75.1 C100.2,77 99.8,79.7 99.7,80.7" stroke="#a6a6a6" stroke-width="1.3"/>
<path d="M110.7,60.6 C110.9,60.9 111.4,62 111.5,62.8 C111.7,63.5 111.7,64.7 111.7,65.1" stroke="#a0a0a0" stroke-width="1.3"/>
<path d="M101.4,69.6 C102.4,69.5 105.7,69.9 107.4,69.2 C109.1,68.4 111,65.7 111.7,65.1" stroke="#a5a5a5" stroke-width="1.3"/>
<path d="M127,55.2 C127.2,56 127.6,58.5 127.8,60.2 C128,61.9 128.2,64.5 128.2,65.3" stroke="#b1b1b1" stroke-width="1.3"/>
<path d="M127,55.2 C126.2,54.8 123.7,53.5 122,52.7 C120.3,51.9 117.7,50.7 116.9,50.3" stroke="#a5a5a5" stroke-width="1.3"/>
<path d="M127.1,66.5 C127.2,66.4 127.7,66.3 127.9,66.1 C128.1,65.9 128.2,65.5 128.2,65.3" stroke="#a9a9a9" stroke-width="1.3"/>
<path d="M127.1,66.5 C126.2,66.8 123.6,68.1 121.7,68.5 C119.9,68.9 116.9,68.9 116,69" stroke="#a0a0a0" stroke-width="1.3"/>
<path d="M111.7,65.1 C112,65.4 112.9,66.6 113.6,67.3 C114.3,67.9 115.6,68.7 116,69" stroke="#b5b5b5" stroke-width="1.3"/>
<path d="M80.9,79 C81.2,79.9 81.8,82.6 82.4,84.3 C83,86.1 84,88.7 84.3,89.5" stroke="#a4a4a4" stroke-width="1.3"/>
<path d="M99.7,80.7 C99.7,80.7 99.8,80.9 99.8,81 C99.9,81.2 100,81.3 100,81.4" stroke="#a7a7a7" stroke-width="1.3"/>
<path d="M100,81.4 C99.8,81.8 99.2,83.3 98.7,84.1 C98.2,85 97.1,86.1 96.8,86.5" stroke="#b6b6b6" stroke-width="1.3"/>
<path d="M84.3,89.5 C84.6,89.8 85.2,90.4 85.6,90.9 C86.1,91.3 86.8,91.9 87.1,92.1" stroke="#adadad" stroke-width="1.3"/>
<path d="M96.8,86.5 C96,87.1 94,89.1 92.4,90.1 C90.7,91 87.9,91.7 87.1,92.1" stroke="#b5b5b5" stroke-width="1.3"/>
<path d="M95,40.8 C94.6,40 92.8,37.8 92.6,36.3 C92.5,34.7 93.7,32.2 93.9,31.4" stroke="#b0b0b0" stroke-width="1.3"/>
<path d="M104.4,26.4 C103.5,26.7 100.8,27.8 99,28.6 C97.3,29.4 94.8,30.9 93.9,31.4" stroke="#b3b3b3" stroke-width="1.3"/>
<path d="M120.2,39.6 C121.3,40.1 124.3,42.2 126.5,43 C128.7,43.8 132.3,44.1 133.5,44.3" stroke="#a2a2a2" stroke-width="1.3"/>
<path d="M127,55.2 C127.7,54.9 129.9,54.4 130.8,53.5 C131.7,52.7 132.2,50.4 132.5,49.8" stroke="#aeaeae" stroke-width="1.3"/>
<path d="M133.5,44.3 C133.2,44.7 132.2,46 132.1,46.9 C131.9,47.8 132.4,49.3 132.5,49.8" stroke="#adadad" stroke-width="1.3"/>
<path d="M130.1,26.3 C130.9,27 133.2,29.1 134.7,30.6 C136.2,32.1 138.3,34.4 139.1,35.2" stroke="#b6b6b6" stroke-width="1.3"/>
<path d="M122.8,28.4 C123.3,28 124.9,26.4 126.1,26 C127.3,25.7 129.4,26.2 130.1,26.3" stroke="#a9a9a9" stroke-width="1.3"/>
<path d="M139.2,40.8 C138.8,41.2 137.6,42.5 136.6,43 C135.7,43.6 134,44.1 133.5,44.3" stroke="#afafaf" stroke-width="1.3"/>
<path d="M93.9,31.4 C93.7,31.3 93,31.3 92.6,31.1 C92.2,30.9 91.8,30.3 91.7,30.1" stroke="#a1a1a1" stroke-width="1.3"/>
<path d="M130.9,75.4 C130.8,74.6 130.8,71.9 130.2,70.5 C129.5,69 127.6,67.2 127.1,66.5" stroke="#aaaaaa" stroke-width="1.3"/>
<path d="M132.5,49.8 C133,50.7 133.9,53.9 135.2,55.3 C136.6,56.7 139.7,57.7 140.6,58.2" stroke="#a8a8a8" stroke-width="1.3"/>
<path d="M100,81.4 C100.7,81.6 102.5,82.7 103.9,82.9 C105.2,83 107.3,82.4 108,82.3" stroke="#a4a4a4" stroke-width="1.3"/>
<path d="M116,69 C116,69.3 115.9,70.2 115.8,70.9 C115.8,71.5 115.7,72.4 115.7,72.8" stroke="#b4b4b4" stroke-width="1.3"/>
<path d="M115.7,72.8 C114.8,73.4 111.9,74.9 110.6,76.5 C109.3,78.1 108.4,81.4 108,82.3" stroke="#a9a9a9" stroke-width="1.3"/>
<path d="M115.7,72.8 C116.2,74 117.2,77.8 118.6,79.9 C120,82 123.2,84.4 124.1,85.3" stroke="#b8b8b8" stroke-width="1.3"/>
<path d="M124.1,85.3 C124.3,85.7 125.2,86.7 125.3,87.5 C125.4,88.2 124.7,89.5 124.6,89.9" stroke="#afafaf" stroke-width="1.3"/>
<path d="M78.7,32.1 C78.7,32.5 78.6,33.5 78.4,34.1 C78.1,34.7 77.4,35.5 77.3,35.8" stroke="#afafaf" stroke-width="1.3"/>
<path d="M65,37.6 C65.9,37.7 68.5,38 70.2,38.1 C72,38.1 74.6,38 75.5,37.9" stroke="#b0b0b0" stroke-width="1.3"/>
<path d="M77.3,35.8 C77.1,35.9 76.3,36.2 76,36.6 C75.7,36.9 75.5,37.7 75.5,37.9" stroke="#b1b1b1" stroke-width="1.3"/>
<path d="M91.7,30.1 C90.5,30 87.1,29.2 84.9,29.6 C82.8,29.9 79.7,31.7 78.7,32.1" stroke="#a4a4a4" stroke-width="1.3"/>
<path d="M89.1,43.7 C88.4,42.6 86.7,38.7 84.7,37.4 C82.7,36.1 78.5,36.1 77.3,35.8" stroke="#ababab" stroke-width="1.3"/>
<path d="M76.3,51.7 C76,50.6 74.7,47.2 74.6,44.9 C74.4,42.6 75.3,39.1 75.5,37.9" stroke="#a6a6a6" stroke-width="1.3"/>
<path d="M111,88.3 C111.8,88.8 113.9,90.6 115.5,91.3 C117.2,92 120,92.3 120.8,92.5" stroke="#aaaaaa" stroke-width="1.3"/>
<path d="M111,88.3 C110.4,88.8 108.4,90 107.3,91 C106.3,92.1 105,94.1 104.6,94.7" stroke="#a2a2a2" stroke-width="1.3"/>
<path d="M108,82.3 C108.3,82.8 109.3,84.2 109.8,85.2 C110.3,86.2 110.8,87.8 111,88.3" stroke="#b8b8b8" stroke-width="1.3"/>
<path d="M124.6,89.9 C124.3,90.1 123.6,91.1 123,91.6 C122.4,92 121.2,92.4 120.8,92.5" stroke="#a5a5a5" stroke-width="1.3"/>
<path d="M96.8,86.5 C97.3,87.3 98.6,90 99.9,91.3 C101.2,92.7 103.8,94.1 104.6,94.7" stroke="#b1b1b1" stroke-width="1.3"/>
<path d="M49.1,51.9 C49.2,51.1 49.4,48.7 49.9,47.3 C50.4,45.9 51.8,44 52.2,43.3" stroke="#999999" stroke-width="1.1"/>
<path d="M49.1,51.9 C48.4,52.4 46.4,54.3 44.8,55.2 C43.3,56 40.7,56.8 39.8,57.1" stroke="#a7a7a7" stroke-width="1.1"/>
<path d="M42.4,64.2 C42.4,63.5 42.4,61.5 42,60.3 C41.5,59.1 40.2,57.6 39.8,57.1" stroke="#a2a2a2" stroke-width="1.1"/>
<path d="M42.4,64.2 C43.4,64.4 46.2,64.8 48,65.5 C49.7,66.2 52.1,67.9 52.9,68.3" stroke="#949494" stroke-width="1.1"/>
<path d="M49.1,51.9 C50.7,51.9 55.9,51.3 59,52 C62.2,52.8 66.5,55.7 68,56.5" stroke="#a6a6a6" stroke-width="1.1"/>
<path d="M63,65.9 C63.3,65 64.2,62.5 65.1,61 C65.9,59.4 67.5,57.2 68,56.5" stroke="#a9a9a9" stroke-width="1.1"/>
<path d="M61.1,40.1 C61.8,41.1 63.6,44.8 65.6,45.8 C67.6,46.9 71.6,46.3 72.8,46.4" stroke="#a8a8a8" stroke-width="1.1"/>
<path d="M52.2,43.3 C53,43.1 55.4,42.9 56.9,42.4 C58.4,41.8 60.4,40.5 61.1,40.1" stroke="#9f9f9f" stroke-width="1.1"/>
<path d="M52.9,68.3 C52.9,69 53.4,71.1 53.2,72.3 C52.9,73.6 51.7,75.3 51.5,75.9" stroke="#959595" stroke-width="1.1"/>
<path d="M62.7,83.1 C61.9,82.3 59.8,79.5 57.9,78.3 C56,77.1 52.5,76.3 51.5,75.9" stroke="#969696" stroke-width="1.1"/>
<path d="M41.8,87.8 C42.9,88 46.4,88.6 48.5,89.3 C50.7,90 53.8,91.5 54.9,92" stroke="#a8a8a8" stroke-width="1.1"/>
<path d="M62.7,83.1 C62.8,83.6 63,85 63.2,86 C63.5,86.9 64,88.2 64.1,88.7" stroke="#9f9f9f" stroke-width="1.1"/>
<path d="M54.9,92 C55.7,91.9 58.4,92.1 59.9,91.5 C61.5,91 63.4,89.2 64.1,88.7" stroke="#969696" stroke-width="1.1"/>
<path d="M141.6,63.6 C141.6,63.1 141.8,61.4 141.7,60.3 C141.7,59.2 141.4,57.6 141.3,57.1" stroke="#acacac" stroke-width="1.3"/>
<path d="M141.6,63.6 C142.8,64.4 146.6,66.3 148.5,68.2 C150.5,70.1 152.5,73.9 153.3,75" stroke="#a6a6a6" stroke-width="1.3"/>
<path d="M160.2,52.6 C159.1,53 155.9,54.9 153.7,54.9 C151.6,54.9 148.4,52.8 147.4,52.4" stroke="#a4a4a4" stroke-width="1.3"/>
<path d="M160.2,52.6 C160.5,53.8 161.9,57.2 162,59.6 C162.1,61.9 161,65.5 160.8,66.6" stroke="#9f9f9f" stroke-width="1.3"/>
<path d="M160.8,66.6 C160.4,67.5 159.5,70.4 158.2,71.8 C157,73.2 154.2,74.5 153.3,75" stroke="#a0a0a0" stroke-width="1.3"/>
<path d="M141.3,57.1 C141.9,56.8 144.1,56.5 145.1,55.7 C146.1,54.9 147,52.9 147.4,52.4" stroke="#9c9c9c" stroke-width="1.3"/>
<path d="M163.5,47.6 C163.1,48 161.5,48.7 161,49.6 C160.4,50.4 160.3,52.1 160.2,52.6" stroke="#979797" stroke-width="1.3"/>
<path d="M153.3,75 C153.2,76 152.2,79 152.3,80.9 C152.4,82.9 153.6,85.8 153.9,86.7" stroke="#acacac" stroke-width="1.3"/>
<path d="M136.2,86.9 C136.9,87.4 139,89 140.4,90 C141.9,91 144.2,92.2 144.9,92.7" stroke="#a2a2a2" stroke-width="1.3"/>
<path d="M183.5,34.5 C184.1,34.4 186,34.5 186.9,33.9 C187.8,33.4 188.6,31.6 188.9,31.1" stroke="#a4a4a4" stroke-width="1.3"/>
<path d="M163.5,47.6 C164.1,47.7 165.8,47.4 166.8,47.8 C167.8,48.1 169,49.4 169.5,49.8" stroke="#9e9e9e" stroke-width="1.3"/>
<path d="M183.5,34.5 C183.6,35 184.3,36.6 184.2,37.5 C184,38.4 182.8,39.6 182.5,40" stroke="#a9a9a9" stroke-width="1.3"/>
<path d="M169.5,49.8 C170.7,49.1 174.7,47.7 176.9,46.1 C179,44.4 181.5,41 182.5,40" stroke="#979797" stroke-width="1.3"/>
<path d="M144.9,92.7 C144.4,94.1 141.5,98.5 141.6,101.5 C141.6,104.4 144.6,108.7 145.2,110.1" stroke="#9f9f9f" stroke-width="1.3"/>
<path d="M145.2,110.1 C144.6,110.6 142.9,112.4 141.6,113 C140.2,113.6 137.9,113.8 137.1,114" stroke="#979797" stroke-width="1.3"/>
<path d="M160.8,66.6 C161.8,66.9 165.1,66.9 166.6,67.9 C168,69 169.2,72.1 169.7,72.9" stroke="#999999" stroke-width="1.3"/>
<path d="M169.5,49.8 C170,51.7 171.1,57.8 172.7,61.5 C174.3,65.2 178.1,70.1 179.2,71.8" stroke="#aeaeae" stroke-width="1.3"/>
<path d="M169.7,72.9 C170.4,72.6 172.7,71.4 174.3,71.2 C175.9,71.1 178.3,71.7 179.2,71.8" stroke="#a6a6a6" stroke-width="1.3"/>
<path d="M182.5,40 C182.8,41.5 183.5,45.9 184.1,48.7 C184.8,51.6 186.2,55.9 186.6,57.3" stroke="#a1a1a1" stroke-width="1.3"/>
<path d="M186.6,57.3 C186.6,58.2 186.5,61.1 186.1,63 C185.8,64.8 184.8,67.5 184.5,68.4" stroke="#a3a3a3" stroke-width="1.3"/>
<path d="M179.2,71.8 C179.3,71.8 179.7,71.9 179.9,72 C180.1,72.1 180.4,72.4 180.4,72.4" stroke="#acacac" stroke-width="1.3"/>
<path d="M188.9,31.1 C189.6,31.2 191.8,31.1 193.1,31.4 C194.5,31.8 196.3,32.8 197,33.1" stroke="#9f9f9f" stroke-width="1.3"/>
<path d="M186.6,57.3 C187.9,56.9 191.8,56.2 194,55 C196.2,53.7 198.8,50.7 199.7,49.8" stroke="#a5a5a5" stroke-width="1.3"/>
<path d="M199.7,49.8 C199.9,48.4 201.3,43.8 200.9,41.1 C200.4,38.3 197.6,34.4 197,33.1" stroke="#a7a7a7" stroke-width="1.3"/>
<path d="M197,33.1 C197.9,32.6 200.8,31.2 202.4,29.8 C204,28.5 205.9,25.9 206.6,25.1" stroke="#9f9f9f" stroke-width="1.3"/>
<path d="M230.3,84.2 C230.9,84.7 232.5,86.5 233.6,87.5 C234.8,88.5 236.7,89.9 237.3,90.4" stroke="#a3a3a3" stroke-width="1.3"/>
<path d="M206.6,59.1 C207.7,59.8 211.4,61.5 213.2,63.4 C215,65.2 216.6,69 217.3,70.1" stroke="#a9a9a9" stroke-width="1.3"/>
<path d="M206.5,56.7 C207.1,55.8 208.8,53.3 210,51.6 C211.2,49.9 213.1,47.5 213.7,46.7" stroke="#adadad" stroke-width="1.3"/>
<path d="M213.7,46.7 C214.5,47.2 216.8,48.7 218.4,49.6 C220,50.5 222.5,51.6 223.3,52.1" stroke="#9a9a9a" stroke-width="1.3"/>
<path d="M223.3,52.1 C222.7,53.1 220.1,56.1 219.8,58.3 C219.5,60.5 221.3,64.1 221.7,65.2" stroke="#adadad" stroke-width="1.3"/>
<path d="M217.3,70.1 C217.5,69.6 217.9,67.7 218.6,66.9 C219.4,66.1 221.2,65.5 221.7,65.2" stroke="#969696" stroke-width="1.3"/>
<path d="M184.5,68.4 C185.8,68.6 189.7,69 192.2,69.8 C194.7,70.5 198.2,72.4 199.4,72.9" stroke="#a9a9a9" stroke-width="1.3"/>
<path d="M199.7,49.8 C200.2,50.5 201.6,52.5 202.7,53.6 C203.9,54.8 205.9,56.2 206.5,56.7" stroke="#aaaaaa" stroke-width="1.3"/>
<path d="M213.7,33.6 C212.9,33 210.3,31.6 209.1,30.2 C207.9,28.7 207,25.9 206.6,25.1" stroke="#999999" stroke-width="1.3"/>
<path d="M227.3,49.7 C226.9,49.9 225.9,50.3 225.2,50.7 C224.5,51.1 223.6,51.8 223.3,52.1" stroke="#a0a0a0" stroke-width="1.3"/>
<path d="M231.1,68.3 C230.2,68.4 227.3,69.3 225.7,68.8 C224.2,68.3 222.3,65.8 221.7,65.2" stroke="#aaaaaa" stroke-width="1.3"/>
<path d="M217.6,84.8 C218.7,85.1 221.9,87.1 224.1,87 C226.2,86.9 229.3,84.7 230.3,84.2" stroke="#969696" stroke-width="1.3"/>
<path d="M217.6,84.8 C217.2,83.6 215.1,79.9 215.1,77.5 C215.1,75 216.9,71.3 217.3,70.1" stroke="#a6a6a6" stroke-width="1.3"/>
<path d="M213.7,33.6 C214.4,33.1 216.4,31.1 217.9,30.6 C219.5,30 222.3,30.3 223.2,30.3" stroke="#aaaaaa" stroke-width="1.3"/>
<path d="M247.8,125.6 C248.1,124.2 250,119.7 249.6,116.9 C249.3,114.2 246.4,110.3 245.7,109" stroke="#a3a3a3" stroke-width="1.3"/>
<path d="M245.7,109 C245.2,108.3 243.8,105.7 242.4,105 C241.1,104.2 238.2,104.5 237.3,104.4" stroke="#a8a8a8" stroke-width="1.3"/>
<path d="M231.5,128.5 C231.8,128.8 232.6,129.7 233.1,130.4 C233.7,131 234.5,131.9 234.8,132.3" stroke="#9c9c9c" stroke-width="1.3"/>
<path d="M231.5,128.5 C232.2,126.6 235.2,121 236.1,117 C237,113.1 236.9,106.8 237.1,104.7" stroke="#9b9b9b" stroke-width="1.3"/>
<path d="M237.1,104.7 C237.1,104.7 237.1,104.6 237.2,104.5 C237.2,104.5 237.3,104.4 237.3,104.4" stroke="#9f9f9f" stroke-width="1.3"/>
<path d="M237.3,90.4 C237.1,91.6 236.3,95.1 236.3,97.4 C236.3,99.7 237.2,103.2 237.3,104.4" stroke="#9a9a9a" stroke-width="1.3"/>
<path d="M216.2,118.7 C217,119.6 219.3,122.3 220.9,124.1 C222.5,125.8 225.1,128.3 226,129.2" stroke="#9f9f9f" stroke-width="1.3"/>
<path d="M216.2,118.7 C216.3,117.4 215.6,112.9 216.7,110.7 C217.8,108.5 221.7,106.2 222.6,105.3" stroke="#aeaeae" stroke-width="1.3"/>
<path d="M226,129.2 C226.4,129.2 227.9,129.4 228.8,129.3 C229.7,129.2 231,128.6 231.5,128.5" stroke="#a4a4a4" stroke-width="1.3"/>
<path d="M222.6,105.3 C223.9,105.4 227.5,105.9 229.9,105.8 C232.3,105.7 235.9,104.9 237.1,104.7" stroke="#9f9f9f" stroke-width="1.3"/>
<path d="M222.6,105.3 C222.1,103.8 220.8,99.1 219.7,96 C218.6,93 216.7,88.5 216.1,87" stroke="#9d9d9d" stroke-width="1.3"/>
<path d="M256,137 C254.7,137.8 250.2,139.8 248.2,142.1 C246.2,144.3 244.8,149.1 244.1,150.5" stroke="#aeaeae" stroke-width="1.3"/>
<path d="M234.8,132.3 C235,133.6 235.3,137.7 236,140.3 C236.7,142.9 238.5,146.5 239,147.8" stroke="#a1a1a1" stroke-width="1.3"/>
<path d="M244.1,150.5 C243.8,150.2 242.8,148.9 241.9,148.5 C241.1,148 239.5,147.9 239,147.8" stroke="#afafaf" stroke-width="1.3"/>
<path d="M145.2,110.1 C145.3,110.3 145.6,111 146,111.3 C146.3,111.6 147.1,111.8 147.3,111.8" stroke="#a3a3a3" stroke-width="1.3"/>
<path d="M147.3,111.8 C147.3,113.2 147.1,117.3 147.5,119.9 C148,122.5 149.6,126.2 150.1,127.5" stroke="#a3a3a3" stroke-width="1.3"/>
<path d="M150.1,127.5 C149,127.7 145.6,127.7 144,128.8 C142.4,129.9 141,133.1 140.4,133.9" stroke="#acacac" stroke-width="1.3"/>
<path d="M140.4,133.9 C140.7,134.6 141.9,136.5 142.2,137.8 C142.6,139.2 142.4,141.4 142.5,142.1" stroke="#a9a9a9" stroke-width="1.3"/>
<path d="M151,163.1 C150.8,161.7 149.4,157.7 149.5,155 C149.7,152.3 151.5,148.4 151.9,147.1" stroke="#a5a5a5" stroke-width="1.3"/>
<path d="M142.5,142.1 C143.1,142.8 144.7,145.4 146.3,146.2 C147.9,147 150.9,147 151.9,147.1" stroke="#a1a1a1" stroke-width="1.3"/>
<path d="M172.8,130.3 C173,131.4 173.6,134.8 173.5,137 C173.5,139.2 172.7,142.5 172.6,143.6" stroke="#acacac" stroke-width="1.3"/>
<path d="M172.8,130.3 C172,130 169.2,129.3 168,128.1 C166.7,127 165.9,124.2 165.5,123.4" stroke="#a0a0a0" stroke-width="1.3"/>
<path d="M165.5,123.4 C164.9,124.3 163.1,126.9 161.6,128.5 C160.2,130 157.6,131.9 156.8,132.6" stroke="#adadad" stroke-width="1.3"/>
<path d="M168.1,151.1 C168.4,150.4 169.1,148.3 169.9,147.1 C170.6,145.8 172.1,144.2 172.6,143.6" stroke="#989898" stroke-width="1.3"/>
<path d="M168.1,151.1 C167.4,149.8 166.3,145.2 164.4,143.4 C162.5,141.5 157.9,140.5 156.6,140" stroke="#a1a1a1" stroke-width="1.3"/>
<path d="M156.6,140 C156.9,139.4 158.2,137.6 158.2,136.3 C158.2,135.1 157.1,133.2 156.8,132.6" stroke="#a3a3a3" stroke-width="1.3"/>
<path d="M181.4,162.2 C181.4,161 181.1,157.3 181.4,154.9 C181.6,152.5 182.5,148.9 182.7,147.7" stroke="#aeaeae" stroke-width="1.3"/>
<path d="M167.9,160.1 C168,159.3 168.4,157.1 168.5,155.6 C168.5,154.1 168.1,151.8 168.1,151.1" stroke="#9c9c9c" stroke-width="1.3"/>
<path d="M182.7,147.7 C181.8,147.4 179.3,146.4 177.6,145.8 C175.9,145.1 173.4,144 172.6,143.6" stroke="#aaaaaa" stroke-width="1.3"/>
<path d="M151.9,147.1 C152.1,146.4 152.5,144.1 153.3,142.9 C154.1,141.8 156,140.5 156.6,140" stroke="#a7a7a7" stroke-width="1.3"/>
<path d="M150.1,127.5 C150.7,127.9 152.5,129 153.6,129.8 C154.7,130.7 156.3,132.1 156.8,132.6" stroke="#a8a8a8" stroke-width="1.3"/>
<path d="M199.4,72.9 C200,74.3 202.5,78.2 203.3,81.1 C204.2,84 204.2,88.7 204.3,90.2" stroke="#a6a6a6" stroke-width="1.3"/>
<path d="M216.1,87 C215.1,87.1 212,87.2 210.2,87.9 C208.4,88.6 206.1,90.7 205.2,91.2" stroke="#aeaeae" stroke-width="1.3"/>
<path d="M205.2,91.2 C205.1,91.2 204.8,91 204.7,90.8 C204.5,90.6 204.4,90.3 204.3,90.2" stroke="#9e9e9e" stroke-width="1.3"/>
<path d="M180.4,72.4 C180.2,73.5 178.6,76.8 178.7,79 C178.8,81.1 180.6,84.3 181,85.3" stroke="#a0a0a0" stroke-width="1.3"/>
<path d="M204.3,90.2 C202.7,90.1 197.8,89.2 194.7,89.5 C191.5,89.8 186.8,91.5 185.3,91.9" stroke="#9b9b9b" stroke-width="1.3"/>
<path d="M181,85.3 C181.6,85.7 183.8,86.7 184.5,87.8 C185.2,88.9 185.1,91.2 185.3,91.9" stroke="#979797" stroke-width="1.3"/>
<path d="M182.7,147.7 C183,147 183.6,144.3 184.7,143.2 C185.8,142.2 188.5,141.8 189.3,141.5" stroke="#9b9b9b" stroke-width="1.3"/>
<path d="M184,126 C184.3,126.4 184.8,127.6 185.4,128 C186,128.4 187.4,128.3 187.8,128.4" stroke="#adadad" stroke-width="1.3"/>
<path d="M184,126 C183,126.2 179.8,126.2 178,126.9 C176.1,127.7 173.7,129.8 172.8,130.3" stroke="#ababab" stroke-width="1.3"/>
<path d="M204.2,102.7 C203.4,103.3 200.9,104.7 199.8,106 C198.6,107.4 197.8,110.2 197.4,111" stroke="#999999" stroke-width="1.3"/>
<path d="M204.2,102.7 C205.2,104 208.3,107.8 210.2,110.5 C212.1,113.2 214.7,117.4 215.6,118.7" stroke="#a5a5a5" stroke-width="1.3"/>
<path d="M197.4,111 C197.5,112 198.3,114.9 198,116.8 C197.7,118.6 196,121.2 195.6,122.1" stroke="#a2a2a2" stroke-width="1.3"/>
<path d="M195.6,122.1 C196.4,122.9 198.9,125.5 200.8,127 C202.6,128.5 205.7,130.4 206.7,131.1" stroke="#a5a5a5" stroke-width="1.3"/>
<path d="M215.6,118.7 C215.2,120 214.7,124.3 213.2,126.4 C211.7,128.5 207.7,130.3 206.7,131.1" stroke="#a6a6a6" stroke-width="1.3"/>
<path d="M205.2,91.2 C205,92.2 203.9,95 203.8,96.9 C203.6,98.8 204.1,101.8 204.2,102.7" stroke="#9e9e9e" stroke-width="1.3"/>
<path d="M185.8,102.5 C185.7,101.7 185.1,99 185,97.3 C185,95.5 185.2,92.8 185.3,91.9" stroke="#aeaeae" stroke-width="1.3"/>
<path d="M185.8,102.5 C186.9,103.1 190.4,104.3 192.4,105.7 C194.3,107.1 196.6,110.1 197.4,111" stroke="#a2a2a2" stroke-width="1.3"/>
<path d="M216.2,118.7 C216.1,118.7 216,118.8 215.9,118.8 C215.8,118.8 215.7,118.7 215.6,118.7" stroke="#a6a6a6" stroke-width="1.3"/>
<path d="M184,126 C183.8,124.7 182.9,120.9 182.4,118.3 C182,115.8 181.4,111.9 181.2,110.6" stroke="#a6a6a6" stroke-width="1.3"/>
<path d="M181.2,110.6 C181.6,109.9 182.8,108 183.6,106.6 C184.4,105.3 185.4,103.2 185.8,102.5" stroke="#9b9b9b" stroke-width="1.3"/>
<path d="M187.8,128.4 C188.5,128 190.8,126.8 192.1,125.8 C193.4,124.7 195,122.7 195.6,122.1" stroke="#989898" stroke-width="1.3"/>
<path d="M168.8,107.1 C170,105.5 173.7,100.8 175.6,97.4 C177.4,93.9 179.3,88.2 180,86.4" stroke="#a0a0a0" stroke-width="1.3"/>
<path d="M168.8,107.1 C168.6,107.3 167.8,108.2 167.1,108.5 C166.4,108.8 165.2,108.7 164.8,108.8" stroke="#a9a9a9" stroke-width="1.3"/>
<path d="M163.7,107.5 C163.8,107.5 164.3,107.7 164.5,107.9 C164.7,108.2 164.8,108.6 164.8,108.8" stroke="#aaaaaa" stroke-width="1.3"/>
<path d="M163.7,107.5 C163.5,106.2 162.8,102.2 162.2,99.6 C161.6,97 160.6,93.2 160.3,91.9" stroke="#a8a8a8" stroke-width="1.3"/>
<path d="M180,86.4 C178.5,87 173.9,89.1 170.7,89.9 C167.5,90.8 162.4,91.1 160.8,91.3" stroke="#999999" stroke-width="1.3"/>
<path d="M181.2,110.6 C180.1,110.7 176.4,111.7 174.4,111.1 C172.3,110.5 169.8,107.8 168.8,107.1" stroke="#adadad" stroke-width="1.3"/>
<path d="M181,85.3 C181,85.5 180.8,85.8 180.6,86 C180.5,86.2 180.1,86.3 180,86.4" stroke="#aaaaaa" stroke-width="1.3"/>
<path d="M165.5,123.4 C165.2,122.2 163.8,118.6 163.7,116.2 C163.6,113.7 164.7,110 164.8,108.8" stroke="#acacac" stroke-width="1.3"/>
<path d="M147.3,111.8 C148.7,111.9 153.4,112.6 156.1,111.9 C158.8,111.2 162.5,108.2 163.7,107.5" stroke="#a3a3a3" stroke-width="1.3"/>
<path d="M153.9,86.7 C154.3,87.3 155.3,89.3 156.4,90.2 C157.4,91.1 159.6,91.6 160.3,91.9" stroke="#adadad" stroke-width="1.3"/>
<path d="M169.7,72.9 C169.3,74.6 169,80.2 167.5,83.2 C166,86.3 161.9,90 160.8,91.3" stroke="#979797" stroke-width="1.3"/>
<path d="M218.8,147.1 C218.3,147.3 216.8,148.2 215.7,148.5 C214.6,148.7 212.8,148.5 212.3,148.5" stroke="#979797" stroke-width="1.3"/>
<path d="M226,129.2 C225.4,130.7 223.5,135.1 222.3,138.1 C221.2,141.1 219.4,145.6 218.8,147.1" stroke="#979797" stroke-width="1.3"/>
<path d="M239,147.8 C238.1,148.5 235.2,150.6 233.4,152.2 C231.6,153.8 229.2,156.5 228.3,157.3" stroke="#9c9c9c" stroke-width="1.3"/>
<path d="M207.2,145.2 C207.7,145.4 209.4,145.6 210.2,146.2 C211,146.7 211.9,148.1 212.3,148.5" stroke="#9c9c9c" stroke-width="1.3"/>
<path d="M238.9,98.4 C239.5,98.6 241.5,99.3 242.8,99.8 C244.1,100.4 245.9,101.4 246.5,101.8" stroke="#9b9b9b" stroke-width="1.1"/>
<path d="M235.3,86 C235.6,85.7 236.8,84.8 237.4,84.1 C238,83.4 238.8,82.2 239.1,81.8" stroke="#a4a4a4" stroke-width="1.1"/>
<path d="M237.1,64 C237.7,64.5 239.9,65.8 240.6,67.2 C241.4,68.5 241.6,71 241.8,71.8" stroke="#979797" stroke-width="1.1"/>
<path d="M241.8,71.8 C241.3,72.6 239.5,74.7 239,76.4 C238.6,78.1 239.1,80.9 239.1,81.8" stroke="#a5a5a5" stroke-width="1.1"/>
<path d="M246.5,101.8 C247.1,101.5 249,100.9 250.1,100.2 C251.2,99.5 252.5,97.9 252.9,97.5" stroke="#9a9a9a" stroke-width="1.1"/>
<path d="M239.1,81.8 C240.2,82.4 243.4,84.5 245.7,85.6 C248,86.7 251.7,87.8 252.9,88.2" stroke="#a7a7a7" stroke-width="1.1"/>
<path d="M241.8,71.8 C242.4,71.7 244.4,71.2 245.8,71.1 C247.2,70.9 249.2,71.1 249.9,71.1" stroke="#979797" stroke-width="1.1"/>
<path d="M83.4,107 C84,106.4 85.3,104.1 86.7,103.4 C88,102.6 90.6,102.6 91.4,102.5" stroke="#999999" stroke-width="1.1"/>
<path d="M88.8,116.7 C89.7,116.6 92.7,116.6 94.1,115.7 C95.5,114.8 96.7,112.1 97.3,111.4" stroke="#a8a8a8" stroke-width="1.1"/>
<path d="M91.4,102.5 C92.2,103 95,104.4 96,105.9 C96.9,107.4 97,110.5 97.3,111.4" stroke="#9e9e9e" stroke-width="1.1"/>
<path d="M83.4,107 C83.1,107 82.2,106.8 81.6,106.6 C81,106.5 80.1,106.1 79.9,106" stroke="#a5a5a5" stroke-width="1.1"/>
<path d="M82.9,95.1 C82.4,95.5 80.6,96.2 79.8,97 C78.9,97.8 78.1,99.5 77.8,100" stroke="#a1a1a1" stroke-width="1.1"/>
<path d="M82.9,95.1 C83.8,95.4 86.6,95.9 88.1,96.8 C89.7,97.7 91.5,99.9 92.1,100.6" stroke="#a0a0a0" stroke-width="1.1"/>
<path d="M92.1,100.6 C92.1,100.7 92.3,101.3 92.1,101.6 C92,102 91.6,102.3 91.4,102.5" stroke="#969696" stroke-width="1.1"/>
<path d="M103.1,106.7 C103.7,106.7 105.4,106.6 106.5,106.6 C107.6,106.6 109.3,106.6 109.9,106.6" stroke="#9f9f9f" stroke-width="1.1"/>
<path d="M97.8,111.5 C98.3,111.9 100,113.2 100.8,114.3 C101.6,115.4 102.3,117.3 102.6,118" stroke="#929292" stroke-width="1.1"/>
<path d="M102.6,118 C103.3,117.7 105.2,116.8 106.6,116.2 C107.9,115.7 109.9,115 110.6,114.8" stroke="#a5a5a5" stroke-width="1.1"/>
<path d="M109.9,106.6 C110.1,107.3 111.5,109.2 111.6,110.6 C111.7,111.9 110.7,114.1 110.6,114.8" stroke="#a9a9a9" stroke-width="1.1"/>
<path d="M106.8,93.5 C106.2,93.9 104.3,95 103,95.9 C101.8,96.8 100.1,98.3 99.5,98.8" stroke="#a6a6a6" stroke-width="1.1"/>
<path d="M94.3,98.3 C94.8,98.2 96.1,97.9 97,98 C97.8,98 99.1,98.6 99.5,98.8" stroke="#929292" stroke-width="1.1"/>
<path d="M111.9,99.5 C111.5,99 110.3,97.4 109.4,96.4 C108.6,95.4 107.3,93.9 106.8,93.5" stroke="#999999" stroke-width="1.1"/>
<path d="M111.9,99.5 C112.4,99.4 114,99.3 115,99.1 C116.1,98.8 117.5,98.2 118,98.1" stroke="#999999" stroke-width="1.1"/>
<path d="M111.9,99.5 C112,100.1 112.7,102.1 112.4,103.2 C112.1,104.3 110.5,105.7 110.2,106.3" stroke="#949494" stroke-width="1.1"/>
<path d="M103.1,106.7 C102.6,106.1 100.9,104.5 100.3,103.2 C99.7,101.9 99.6,99.5 99.5,98.8" stroke="#a1a1a1" stroke-width="1.1"/>
<path d="M109.9,106.6 C109.9,106.6 110,106.5 110,106.4 C110.1,106.4 110.1,106.3 110.2,106.3" stroke="#a5a5a5" stroke-width="1.1"/>
<path d="M92.1,100.6 C92.3,100.3 92.7,99.6 93,99.2 C93.4,98.9 94.1,98.4 94.3,98.3" stroke="#999999" stroke-width="1.1"/>
<path d="M97.8,111.5 C97.8,111.5 97.6,111.4 97.5,111.4 C97.4,111.4 97.3,111.4 97.3,111.4" stroke="#a7a7a7" stroke-width="1.1"/>
<path d="M88.6,117.4 C87.8,117.6 85.5,118.6 84,118.8 C82.4,119 79.9,118.6 79.1,118.5" stroke="#a5a5a5" stroke-width="1.1"/>
<path d="M110.2,106.3 C111.1,106.2 114.1,105.4 115.9,105.8 C117.6,106.2 119.9,108.3 120.7,108.8" stroke="#949494" stroke-width="1.1"/>
<path d="M146.6,84.4 C147.4,85.5 149.6,88.8 151.3,90.9 C153,92.9 154.8,94.9 156.8,96.6 C158.9,98.3 161.2,99.8 163.4,101.2 C165.7,102.5 168.1,103.8 170.5,104.9 C173,105.9 175.5,106.7 178.1,107.3 C180.7,108 183.3,108.5 186,108.8 C188.6,109 192.6,108.9 194,108.9" stroke="#aeaeae" stroke-width="1.1"/>
<path d="M187.8,153.3 C187.8,154.6 187.5,158.6 187.6,161.3 C187.6,163.9 187.7,166.6 188,169.3 C188.3,171.9 188.9,174.5 189.3,177.1 C189.7,179.8 189.9,182.4 190.3,185.1 C190.7,187.7 191.4,191.6 191.7,193" stroke="#b1b1b1" stroke-width="1.1"/>
<path d="M176.1,34.1 C176.4,35.4 177.3,39.4 177.4,42 C177.6,44.6 177.2,47.3 176.8,50 C176.4,52.6 175.8,55.2 175.1,57.8 C174.4,60.3 173.7,62.9 172.7,65.4 C171.7,67.8 170.5,70.3 169,72.5 C167.6,74.7 165.9,76.9 164,78.7 C162.1,80.5 159.2,82.2 157.5,83.2 C155.8,84.3 154.4,84.6 153.8,84.9" stroke="#a0a0a0" stroke-width="1.1"/>
<path d="M216.9,97.1 C217.3,98.3 218.1,102.3 219,104.8 C220,107.2 221.1,109.7 222.5,112 C223.9,114.2 225.5,116.4 227.3,118.3 C229.2,120.3 231.3,122 233.4,123.5 C235.6,125 238.6,126.6 240.3,127.5 C242.1,128.5 243.4,128.7 244.1,129" stroke="#a9a9a9" stroke-width="1.1"/>
<path d="M152.6,26.3 C152.7,27.6 153,31.6 152.9,34.3 C152.8,36.9 152.5,39.6 152.2,42.2 C151.8,44.9 151.4,47.5 150.7,50.1 C150.1,52.7 148.8,56.5 148.4,57.8" stroke="#ababab" stroke-width="1.1"/>
<path d="M176.7,57.9 C177.5,59.1 179.5,62.5 181.1,64.6 C182.7,66.8 184.3,69 186.2,70.8 C188.1,72.5 190.5,73.9 192.7,75.4 C195,76.8 197.3,78.3 199.7,79.3 C202.1,80.3 204.8,81.1 207.4,81.6 C210,82 212.7,82.3 215.3,82.2 C218,82.1 221.3,81.3 223.2,80.9 C225.2,80.5 226.4,80 227.1,79.8" stroke="#aaaaaa" stroke-width="1.1"/>
<path d="M208.4,18.1 C208.7,19.4 209.8,23.3 209.9,25.9 C210,28.5 209.9,31.3 209.2,33.9 C208.5,36.4 207.1,38.8 205.7,41 C204.3,43.3 202.8,45.7 200.9,47.5 C199.1,49.3 196.7,50.8 194.4,52 C192.1,53.2 188.2,54.3 186.9,54.8" stroke="#9d9d9d" stroke-width="1.1"/>
<path d="M145.3,92.4 C145.3,93.7 145.5,97.7 145.5,100.4 C145.4,103.1 145,105.7 144.8,108.4 C144.5,111 144.2,113.7 143.9,116.3 C143.7,119 143.7,121.6 143.4,124.3 C143.1,126.9 142.8,129.6 142.2,132.2 C141.7,134.8 140.9,137.4 140,139.9 C139,142.3 137.1,145.9 136.5,147.1" stroke="#acacac" stroke-width="1.1"/>
<path d="M148.1,79.5 C147.5,80.7 145.6,84.2 144.2,86.5 C142.8,88.7 141.2,90.9 139.6,93 C138.1,95.2 136.7,97.5 135.1,99.6 C133.4,101.7 130.5,104.5 129.6,105.4" stroke="#ababab" stroke-width="1.1"/>
<path d="M162,99.6 C162.1,101 162.3,104.9 162.3,107.6 C162.3,110.3 162.3,112.9 162,115.6 C161.8,118.2 161.4,120.9 160.9,123.5 C160.4,126.1 159.6,128.7 158.9,131.3 C158.2,133.8 157.4,136.4 156.7,138.9 C155.9,141.5 155.2,144.1 154.5,146.6 C153.7,149.2 152.4,153 152,154.2" stroke="#b0b0b0" stroke-width="1.1"/>
<path d="M212.3,125.1 C211.5,126.2 209.2,129.4 207.5,131.5 C205.8,133.5 204,135.5 202.1,137.3 C200.2,139.2 198,140.8 195.9,142.3 C193.7,143.9 191.5,145.4 189.2,146.7 C186.9,148.1 184.5,149.4 182.2,150.5 C179.8,151.7 177.3,152.8 174.8,153.8 C172.3,154.7 168.5,155.8 167.2,156.2" stroke="#afafaf" stroke-width="1.1"/>
<path d="M203.1,127.9 C202.7,129.1 201,132.7 200.2,135.3 C199.5,137.8 198.9,140.5 198.7,143.1 C198.4,145.7 198.3,148.5 198.6,151.1 C198.9,153.7 199.7,156.3 200.4,158.9 C201.2,161.4 202.1,163.9 203.1,166.4 C204.2,168.8 205.9,171.7 206.9,173.4 C207.9,175.2 208.8,176.2 209.1,176.7" stroke="#a3a3a3" stroke-width="1.1"/>
<path d="M218.5,37.5 C219,38.7 220.6,42.4 221.8,44.8 C223,47.1 224.5,49.4 225.7,51.8 C226.9,54.2 227.8,56.7 228.9,59.1 C229.9,61.5 231.5,65.2 232.1,66.4" stroke="#adadad" stroke-width="1.1"/>
<path d="M187.1,54.2 C186.4,55.3 184.2,58.7 182.8,60.9 C181.4,63.2 180,65.5 178.5,67.7 C177.1,69.9 175.7,72.2 173.9,74.2 C172.1,76.2 170,77.9 167.8,79.4 C165.7,81 162.7,82.5 161,83.6 C159.3,84.6 158.1,85.3 157.6,85.6" stroke="#b1b1b1" stroke-width="1.1"/>
<path d="M190.1,149.8 C191.2,150.5 194.6,152.7 197,153.8 C199.4,155 201.9,155.8 204.4,156.7 C206.9,157.6 210.1,158.8 212,159.4 C213.9,160.1 215.1,160.4 215.8,160.6" stroke="#acacac" stroke-width="1.0"/>
<path d="M178.5,69.9 C179.2,71.1 181.4,74.5 182.7,76.8 C184,79.1 185.3,81.4 186.6,83.7 C188,86 189.3,88.3 190.8,90.6 C192.2,92.8 194.1,95.6 195.2,97.2 C196.4,98.8 197.3,99.9 197.7,100.4" stroke="#9a9a9a" stroke-width="1.0"/>
<path d="M221.9,141.1 C222.9,142 225.8,144.7 227.7,146.6 C229.6,148.5 231.5,150.4 233.2,152.5 C234.8,154.5 236.4,156.7 237.8,159 C239.2,161.2 240.8,164.2 241.6,166 C242.5,167.8 242.6,169.2 242.8,169.8" stroke="#979797" stroke-width="1.0"/>
<path d="M203.5,77.6 C203.5,78.9 203.7,82.9 203.6,85.6 C203.5,88.2 203.5,90.9 203,93.5 C202.6,96.1 201.5,99.3 200.8,101.2 C200.1,103.1 199.4,104.2 199.1,104.8" stroke="#a6a6a6" stroke-width="1.0"/>
<path d="M187.8,149.8 C188.2,151.1 190,154.7 190.6,157.3 C191.1,159.9 191.2,162.6 191.1,165.3 C191.1,168 190.7,170.6 190.4,173.3 C190,175.9 189.6,178.5 189,181.1 C188.5,183.7 187.9,186.4 187.1,188.9 C186.3,191.4 184.9,194.5 184.2,196.3 C183.4,198.2 183,199.5 182.8,200.1" stroke="#9b9b9b" stroke-width="1.0"/>
<path d="M202.4,128.6 C202.4,129.9 202.2,133.9 202.6,136.6 C202.9,139.2 203.6,141.8 204.3,144.3 C205,146.9 206,149.4 207,151.9 C208,154.4 209,156.8 210.1,159.2 C211.2,161.7 212.2,164.2 213.6,166.4 C215,168.7 217.7,171.7 218.5,172.7" stroke="#a4a4a4" stroke-width="1.0"/>
<path d="M232.6,110.3 C233.5,111.3 236.4,114.1 238,116.2 C239.6,118.4 240.9,120.7 242,123.2 C243,125.6 243.7,128.2 244.3,130.8 C244.9,133.4 245.1,136.7 245.3,138.7 C245.5,140.7 245.6,142 245.6,142.7" stroke="#aeaeae" stroke-width="1.0"/>
<path d="M212.8,130 C214,130.6 217.3,132.8 219.7,134 C222.1,135.2 224.6,136.2 227.1,137.2 C229.5,138.1 232.1,139 234.6,139.8 C237.2,140.5 241.1,141.2 242.4,141.5" stroke="#9f9f9f" stroke-width="1.0"/>
<path d="M248.3,53.5 C248.5,54.8 248.9,58.8 249.3,61.4 C249.6,64.1 250.1,66.7 250.6,69.3 C251.1,71.9 251.6,74.6 252.4,77.1 C253.1,79.7 254.2,82.8 254.9,84.7 C255.5,86.6 256,87.8 256.3,88.5" stroke="#838383" stroke-width="0.9"/>
<path d="M247.1,33.4 C247.5,34.7 248.8,38.4 249.4,41 C250,43.6 250.5,46.3 250.7,48.9 C251,51.6 250.9,54.9 250.7,56.9 C250.6,58.9 250.2,60.2 250.1,60.8" stroke="#888888" stroke-width="0.9"/>
<path d="M251.1,20.3 C250.8,21.6 249.7,25.4 249,28 C248.3,30.6 247.8,33.2 246.9,35.7 C246.1,38.3 244.5,41.9 244.1,43.2" stroke="#8d8d8d" stroke-width="0.9"/>
<path d="M37.5,15 C39,15.2 43.7,15.9 46.8,16.4 C49.9,16.9 52.4,17.4 56.2,18 C60,18.6 65.1,19 69.6,19.7 C74.1,20.4 78.6,21.3 83.1,22 C87.6,22.7 92.1,23.3 96.6,23.8 C101.1,24.3 106.4,25 110,25 C113.6,25 115.4,24.8 118,24 C120.6,23.2 123.1,21.5 125.5,20.5 C127.9,19.5 129.6,18.5 132.3,17.8 C135,17.1 140.2,16.7 141.8,16.5" stroke="#a0a0a0" stroke-width="1.6"/>
<path d="M52.2,17 C52.4,18 52.8,21 53.5,23.1 C54.2,25.2 55.2,27.6 56.2,29.8 C57.2,32 58.2,34.9 59.6,36.6 C61,38.3 62.8,38.8 64.3,39.9 C65.8,41 67.1,42.1 68.3,43.3 C69.5,44.5 70.6,45.9 71.7,47.3 C72.8,48.6 74.5,50.7 75,51.4" stroke="#b4b4b4" stroke-width="1.3"/>
<path d="M38,33.9 C39,34.6 41.7,36.7 44.1,37.9 C46.5,39.1 49.5,40.3 52.2,41.3 C54.9,42.3 57.5,43.2 60.2,44 C62.9,44.8 65.8,45.1 68.3,46.3 C70.8,47.5 73.9,50.5 75,51.4" stroke="#b4b4b4" stroke-width="1.3"/>
<path d="M75,51.4 C75.9,50.9 78.4,49.9 80.4,48.5 C82.4,47.1 84.6,45.1 87.1,43.3 C89.6,41.5 92.7,39.3 95.2,37.9 C97.7,36.5 99.5,35.8 102,35 C104.5,34.2 107.2,33.4 110,33 C112.8,32.6 114.2,33 118.6,32.8 C123,32.5 133.4,31.7 136.4,31.5" stroke="#b2b2b2" stroke-width="1.2"/>
<path d="M69.6,44 C71.4,43.9 77.5,44.3 80.4,43.3 C83.3,42.3 84.8,39.7 87.1,37.9 C89.3,36.1 91.7,33.9 93.9,32.5 C96.2,31.1 97.9,30.5 100.6,29.8 C103.3,29.1 108.4,28.7 110,28.5" stroke="#aaaaaa" stroke-width="1.0"/>
<path d="M75,51.4 C74.5,52.3 73,55.7 72.3,56.8 C71.6,57.9 71.7,56.5 71,58 C70.3,59.5 69.2,63.8 68.3,66.1 C67.4,68.3 66.3,69.5 65.6,71.5 C64.9,73.5 64.3,76 64.3,78.2 C64.3,80.4 64.9,82.9 65.6,84.9 C66.3,86.9 67.2,88.5 68.3,90.3 C69.4,92.1 70.9,93.7 72.3,95.7 C73.7,97.7 75.1,100 76.4,102.4 C77.8,104.8 79.7,108.7 80.4,110" stroke="#b2b2b2" stroke-width="1.3"/>
<path d="M44,114 C44.7,113.3 46.3,111.9 48.1,110 C49.9,108.1 52.3,105.2 54.8,102.4 C57.3,99.6 60.4,95.9 62.9,93 C65.4,90.1 67.3,87.4 69.6,84.9 C71.8,82.4 73.7,80.9 76.4,78.2 C79.1,75.5 82.7,72.2 85.8,68.8 C88.9,65.4 92,61.5 95.2,58 C98.4,54.5 101.1,51.1 105,47.8 C108.9,44.5 115,41 118.6,38.3 C122.2,35.6 124.5,33.3 126.8,31.5 C129.1,29.7 130,28.5 132.3,27.4 C134.6,26.2 139.1,25.1 140.5,24.6" stroke="#b9b9b9" stroke-width="1.2"/>
<path d="M38.7,66.1 C40.5,66.2 45.9,66.6 49.5,66.7 C53.1,66.8 57.1,66.5 60.2,66.7 C63.3,66.9 67,67.9 68.3,68.1" stroke="#a5a5a5" stroke-width="1.0"/>
<path d="M38.7,68.8 C40.1,69.7 44.3,72.6 46.8,74.2 C49.3,75.8 51.7,76.4 53.5,78.2 C55.3,80 55.7,83.1 57.5,84.9 C59.3,86.7 62,87.7 64.3,89 C66.5,90.3 69.2,91.4 71,93 C72.8,94.6 74.1,96.6 75,98.4 C75.9,100.2 76.2,102.9 76.4,103.8" stroke="#afafaf" stroke-width="1.2"/>
<path d="M38.7,89 C40.1,89.4 43.9,90.9 46.8,91.6 C49.7,92.3 53.3,92.8 56.2,93 C59.1,93.2 62.9,93 64.3,93" stroke="#a5a5a5" stroke-width="1.1"/>
<path d="M38.7,94.3 C40.1,95 43.9,97.3 46.8,98.4 C49.7,99.5 53.1,100.4 56.2,101.1 C59.3,101.8 64,102.2 65.6,102.4" stroke="#a5a5a5" stroke-width="1.1"/>
<path d="M38.7,102.4 C39.6,103.3 42.8,106.5 44.1,107.8 C45.5,109.1 46.3,109.6 46.8,110" stroke="#a0a0a0" stroke-width="1.0"/>
<path d="M85.8,70.8 C87.6,70.9 92.6,71.3 96.6,71.5 C100.6,71.7 107.8,72 110,72.1" stroke="#a5a5a5" stroke-width="1.0"/>
<path d="M84.5,70 C84.5,72.5 84.5,80 84.5,85 C84.5,90 84.4,95.5 84.5,100 C84.6,104.5 84.9,110 85,112" stroke="#a0a0a0" stroke-width="1.0"/>
<path d="M103.3,45 C103.3,47.2 103.3,53.8 103.3,58 C103.3,62.2 103.3,66.3 103.3,70 C103.3,73.7 103.5,76.3 103.3,80 C103.1,83.7 102.2,90 102,92" stroke="#969696" stroke-width="0.9"/>
<path d="M84.5,91.6 C85.4,92.5 87.8,95.4 89.8,97 C91.8,98.6 93.2,100 96.6,101.1 C100,102.2 107.8,103.3 110,103.8" stroke="#a5a5a5" stroke-width="1.0"/>
<path d="M142,12 C141.4,15.6 139.9,26.1 138.6,33.4 C137.3,40.7 135.8,48.3 134.1,55.8 C132.4,63.3 130.2,71.7 128.5,78.2 C126.8,84.7 125.6,90.4 124,95 C122.4,99.6 121,102.7 119,106 C117,109.3 114.8,111.7 112,115 C109.2,118.3 105.3,123 102,126 C98.7,129 95.7,130.7 92,133 C88.3,135.3 84.3,137.8 80,140 C75.7,142.2 70.7,144.3 66,146 C61.3,147.7 56.7,149 52,150 C47.3,151 40.3,151.7 38,152" stroke="#c3c3c3" stroke-width="1.6"/>
<path d="M153,12 C152.1,15.6 149.5,26.1 147.5,33.4 C145.5,40.7 143,48.3 140.8,55.8 C138.6,63.3 135.8,70.8 134.1,78.2 C132.4,85.7 131.4,94.2 130.7,100.5 C129.9,106.8 129.4,111.6 129.6,116 C129.8,120.4 130.9,123.8 132,127 C133.1,130.2 135,132 136.4,135 C137.8,138 138.9,141.3 140.5,145 C142.1,148.7 145,155 145.9,157" stroke="#b9b9b9" stroke-width="1.5"/>
<path d="M105,63.5 C106.1,64 109.5,65.1 111.8,66.2 C114.1,67.3 116.5,68.9 118.6,70.3 C120.6,71.7 122.7,73 124.1,74.4 C125.5,75.8 126.3,77.8 126.8,78.5" stroke="#a0a0a0" stroke-width="1.0"/>
<path d="M113.2,82.6 C112.8,84.4 111.4,90.5 110.5,93.5 C109.6,96.5 108.2,99.2 107.7,100.3" stroke="#969696" stroke-width="0.9"/>
<path d="M150,58 C150.2,59.8 151.4,64.4 151.4,68.9 C151.4,73.5 150.9,81.2 150,85.3 C149.1,89.4 147.3,90.5 145.9,93.5 C144.5,96.5 142.9,100.2 141.8,103 C140.7,105.8 139.6,108.8 139.1,110" stroke="#aaaaaa" stroke-width="1.1"/>
<path d="M141.8,58 C142.5,58.7 144.3,60.3 145.9,62.1 C147.5,63.9 149.1,68.9 151.4,68.9 C153.7,68.9 157.8,63.9 159.6,62.1 C161.4,60.3 161.9,58.7 162.3,58" stroke="#a5a5a5" stroke-width="1.0"/>
<path d="M150,85.3 C151.1,85.1 154.5,83.9 156.8,83.9 C159.1,83.9 161.9,83.9 163.7,85.3 C165.5,86.7 165.1,90.5 167.8,92.1 C170.5,93.7 178,94.3 180,94.8" stroke="#a5a5a5" stroke-width="1.0"/>
<path d="M159.6,62.1 C160.1,63.7 161.4,67.7 162.3,71.6 C163.2,75.5 164.3,81.6 165,85.3 C165.7,89 166.6,91.2 166.4,93.5 C166.2,95.8 165.3,96.9 163.7,98.9 C162.1,100.9 158.4,103.9 156.8,105.7 C155.2,107.5 154.6,109.3 154.1,110" stroke="#aaaaaa" stroke-width="1.0"/>
<path d="M166.4,58 C166.8,60.3 168.4,67 169.1,71.6 C169.8,76.1 170.1,81.2 170.5,85.3 C170.9,89.4 171.6,94.4 171.8,96.2" stroke="#a5a5a5" stroke-width="1.0"/>
<path d="M174.6,58 C174.8,60.3 175.6,67 176,71.6 C176.4,76.1 176.9,81.4 177.3,85.3 C177.8,89.2 178.5,93.2 178.7,94.8" stroke="#a5a5a5" stroke-width="1.0"/>
<path d="M154,12 C154.2,15 154.9,24.5 155,30 C155.1,35.5 154.8,40.3 154.5,45 C154.2,49.7 153.2,55.8 153,58" stroke="#a0a0a0" stroke-width="1.0"/>
<path d="M161,12 C161.2,15 161.8,24.5 162,30 C162.2,35.5 162.4,40.3 162.5,45 C162.6,49.7 162.3,55.8 162.3,58" stroke="#a5a5a5" stroke-width="1.0"/>
<path d="M165,12 C165.2,15.8 165.8,27.3 166,35 C166.2,42.7 166.3,54.2 166.4,58" stroke="#a0a0a0" stroke-width="1.0"/>
<path d="M169,12 C169.2,15.8 169.8,27.3 170,35 C170.2,42.7 170.4,54.2 170.5,58" stroke="#a5a5a5" stroke-width="1.0"/>
<path d="M176,12 C175.9,15.8 175.7,27.3 175.5,35 C175.3,42.7 174.8,54.2 174.6,58" stroke="#a0a0a0" stroke-width="1.0"/>
<path d="M179.4,12 C179.2,15.8 178.3,27.3 178,35 C177.7,42.7 178.1,50.5 177.8,58 C177.5,65.5 176.7,73 176.4,80 C176.1,87 176.1,96.7 176,100" stroke="#a5a5a5" stroke-width="1.0"/>
<path d="M182.8,12 C182.8,15.8 183.1,27 183,35 C182.9,43 182.3,52.5 182.1,60 C181.9,67.5 181.8,73.3 182,80 C182.2,86.7 182.8,96.7 183,100" stroke="#aaaaaa" stroke-width="1.1"/>
<path d="M187,12 C187.2,15.8 187.6,27 188,35 C188.4,43 188.9,52.5 189.2,60 C189.5,67.5 190,72.5 190,80 C190,87.5 189.3,100.8 189.2,105" stroke="#aaaaaa" stroke-width="1.1"/>
<path d="M193.4,40 C193.4,43 193.3,51.3 193.4,58 C193.5,64.7 194,73 194,80 C194,87 193.7,92.8 193.4,100 C193.1,107.2 192.2,119.5 192,123.4" stroke="#a5a5a5" stroke-width="1.0"/>
<path d="M125.5,35.6 C125.5,38 125.5,45.4 125.5,50 C125.5,54.6 125.5,60.8 125.5,63" stroke="#969696" stroke-width="0.9"/>
<path d="M111.8,49.2 C113.2,49.2 116.3,49.2 120,49.2 C123.7,49.2 131.7,49.2 134,49.2" stroke="#969696" stroke-width="0.9"/>
<path d="M195,13 C193.2,14 187.3,17 184,19 C180.7,21 178.2,23 175,25 C171.8,27 168.5,28.5 165,31 C161.5,33.5 157.5,36 154.2,40.1 C150.9,44.2 147.5,50.2 145.3,55.8 C143.1,61.4 142.3,67 140.8,73.7 C139.3,80.4 137.8,89.7 136.3,96 C134.8,102.3 132.6,109.1 131.9,111.7" stroke="#b4b4b4" stroke-width="1.2"/>
<path d="M217.6,12 C217.8,14.2 218.3,20.6 219,25.2 C219.7,29.8 220.6,35.1 221.8,39.4 C223,43.6 224.8,47.6 226,50.7 C227.2,53.8 228,55.6 228.9,58 C229.8,60.4 230.3,62.3 231.7,65.1 C233.1,67.9 235.5,71.5 237.4,75 C239.3,78.5 241.2,82.6 243.1,86.4 C245,90.2 247.2,94.6 248.8,97.7 C250.5,100.8 252.3,103.6 253,104.8" stroke="#b9b9b9" stroke-width="1.3"/>
<path d="M228.9,26.6 C230.6,26.2 235,25 238.8,24.5 C242.6,24 249.5,23.9 251.6,23.8" stroke="#a0a0a0" stroke-width="1.0"/>
<path d="M251.6,23.8 C250.7,25.2 247.8,29 245.9,32.3 C244,35.6 241.6,41 240.2,43.6 C238.8,46.2 237.9,47.2 237.4,47.9" stroke="#878787" stroke-width="0.8"/>
<path d="M189,29.4 C191.3,29.2 199.2,28 203,28 C206.8,28 208.9,27.5 212,29.4 C215.1,31.3 220.2,37.7 221.8,39.4" stroke="#a5a5a5" stroke-width="1.0"/>
<path d="M186,40 C188.3,39.5 195.2,36.7 200,37 C204.8,37.3 210.8,39.8 215,42 C219.2,44.2 223.3,48.7 225,50" stroke="#a0a0a0" stroke-width="0.9"/>
<path d="M190,50 C192.5,49.5 200.3,46.2 205,47 C209.7,47.8 213.8,52.3 218,55 C222.2,57.7 228,61.7 230,63" stroke="#a0a0a0" stroke-width="0.9"/>
<path d="M175,95.6 C177.5,95.6 185.3,95.6 190,95.6 C194.7,95.6 198.8,95 203.4,95.6 C208,96.2 215.2,98.5 217.6,99.1" stroke="#aaaaaa" stroke-width="1.1"/>
<path d="M194.9,62.3 C196.3,62.6 200.6,63.5 203.4,64.4 C206.2,65.3 209.5,66.6 211.9,67.9 C214.3,69.2 215.9,70.5 217.6,72.2 C219.2,73.9 220.6,76 221.8,77.9 C223,79.8 224.4,81.4 224.6,83.5 C224.8,85.6 223.7,88.2 223.2,90.6 C222.7,93 222.3,94.5 221.8,97.7 C221.3,100.9 220.9,106.4 220.4,110 C219.9,113.6 219.5,115.3 219,119.2 C218.5,123.1 217.6,129.2 217.6,133.4 C217.6,137.7 218.5,140.9 219,144.7 C219.5,148.5 220.2,154.1 220.4,156" stroke="#afafaf" stroke-width="1.2"/>
<path d="M196.3,72.2 C198.2,72.2 204.3,71.7 207.6,72.2 C210.9,72.7 214,73.6 216.1,75 C218.2,76.4 219.7,79.8 220.4,80.7" stroke="#a5a5a5" stroke-width="1.0"/>
<path d="M236,58 C236.7,59.4 238.8,64.1 240.2,66.5 C241.6,68.9 242.4,70.5 244.5,72.2 C246.6,73.9 251.6,75.7 253,76.4" stroke="#a5a5a5" stroke-width="1.0"/>
<path d="M222,70 C223,69.7 226,67.7 228,68 C230,68.3 232.7,70.5 234,72 C235.3,73.5 235.7,76.2 236,77" stroke="#b9b9b9" stroke-width="0.9"/>
<path d="M224,76 C224.8,75.5 227.5,72.7 229,73 C230.5,73.3 233.2,76.8 233,78 C232.8,79.2 228.8,79.7 228,80" stroke="#b9b9b9" stroke-width="0.9"/>
<path d="M41.4,105 C42.3,106.3 44.3,110.6 46.8,113.1 C49.3,115.6 52.8,118 56.2,119.8 C59.6,121.6 63.9,122.9 67,123.8 C70.1,124.7 73.7,125 75,125.2" stroke="#afafaf" stroke-width="1.2"/>
<path d="M53.5,105 C54.6,105.9 57.7,108.6 60.2,110.4 C62.7,112.2 66.3,113.8 68.3,115.8 C70.3,117.8 71.4,119.8 72.3,122.5 C73.2,125.2 73.2,128.5 73.7,131.9 C74.2,135.3 74.8,140.9 75,142.7" stroke="#aaaaaa" stroke-width="1.1"/>
<path d="M38.7,122.5 C39.6,123 41.9,124.3 44.1,125.2 C46.4,126.1 49.1,127.3 52.2,127.9 C55.3,128.5 59.5,128.4 62.9,128.6 C66.2,128.8 70.7,129.1 72.3,129.2" stroke="#aaaaaa" stroke-width="1.1"/>
<path d="M38.7,129.2 C39.6,129.9 42.8,131.5 44.1,133.3 C45.5,135.1 45.9,138 46.8,140 C47.7,142 47.9,143.8 49.5,145.4 C51.1,147 55.1,148.7 56.2,149.4" stroke="#a5a5a5" stroke-width="1.1"/>
<path d="M77.7,111.7 C78.8,112.4 82.5,114.7 84.5,115.8 C86.5,116.9 88.2,117.4 89.8,118.5 C91.4,119.6 93.2,121.8 93.9,122.5" stroke="#a0a0a0" stroke-width="1.0"/>
<path d="M76.4,119.8 C76.9,120.7 77.8,123.2 79.1,125.2 C80.4,127.2 82.7,130.1 84.5,131.9 C86.3,133.7 88.9,135.3 89.8,136" stroke="#a0a0a0" stroke-width="1.0"/>
<path d="M87.1,105 C88,105.9 90.5,108.2 92.5,110.4 C94.5,112.7 97.5,115.8 99.3,118.5 C101.1,121.2 102.6,125.2 103.3,126.5" stroke="#a0a0a0" stroke-width="1.0"/>
<path d="M136.4,133.6 C138,132.9 143.2,131.2 145.9,129.6 C148.6,128 150.9,125.9 152.7,124.1 C154.5,122.3 155.7,120.9 156.8,118.6 C158,116.3 158.9,112.8 159.6,110.5 C160.3,108.2 160.7,105.9 160.9,105" stroke="#aaaaaa" stroke-width="1.1"/>
<path d="M156.8,100 C157,103.1 157.7,113.2 158.2,118.6 C158.7,124 158.9,127.8 159.6,132.3 C160.3,136.9 161.6,141.8 162.3,145.9 C163,150 163.5,155.2 163.7,157" stroke="#aaaaaa" stroke-width="1.1"/>
<path d="M166.4,100 C166.2,103.1 164.8,113.2 165,118.6 C165.2,124 166.4,127.8 167.8,132.3 C169.2,136.9 171.8,141.8 173.2,145.9 C174.6,150 175.5,155.2 176,157" stroke="#a5a5a5" stroke-width="1.0"/>
<path d="M139,139 C140.2,138.3 143.5,136.1 146,135 C148.5,133.9 151.1,132.5 154,132.3 C156.9,132.1 160.5,132.9 163.7,133.6 C166.9,134.3 170.5,136.2 173.2,136.4 C175.9,136.6 178.9,135.2 180,135" stroke="#a0a0a0" stroke-width="1.0"/>
<path d="M170.5,105 C170.9,106.4 171.8,110.5 173.2,113.2 C174.6,115.9 177.8,120 178.7,121.4" stroke="#a0a0a0" stroke-width="1.0"/>
<path d="M175,109.3 C176.4,110.5 180.7,113.9 183.5,116.3 C186.3,118.7 189.4,120.6 192,123.4 C194.6,126.2 197.2,129.9 199.1,133.4 C201,136.9 202,140.9 203.4,144.7 C204.8,148.5 206.9,154.1 207.6,156" stroke="#aaaaaa" stroke-width="1.1"/>
<path d="M189.2,105 C189.9,106.9 192.2,112.5 193.4,116.3 C194.6,120.1 195.4,123.9 196.3,127.7 C197.2,131.5 198.2,134.3 199.1,139 C200,143.7 201.5,153.2 202,156" stroke="#a5a5a5" stroke-width="1.0"/>
<path d="M199.1,100 C199.8,103.2 202,113.6 203.4,119.2 C204.8,124.8 206.2,129.2 207.6,133.4 C209,137.7 210.7,140.9 211.9,144.7 C213.1,148.5 214.2,154.1 214.7,156" stroke="#aaaaaa" stroke-width="1.1"/>
<path d="M175,126.3 C176.9,126.8 182.5,127.9 186.3,129.1 C190.1,130.3 194.1,132 197.7,133.4 C201.2,134.8 203.8,135.9 207.6,137.6 C211.4,139.2 216.4,141.9 220.4,143.3 C224.4,144.7 229.8,145.6 231.7,146.1" stroke="#a5a5a5" stroke-width="1.0"/>
<path d="M175,136.2 C176.4,136.4 180.7,136.9 183.5,137.6 C186.3,138.3 188.7,138.8 192,140.5 C195.3,142.2 200.1,145 203.4,147.6 C206.7,150.2 210.5,154.6 211.9,156" stroke="#a0a0a0" stroke-width="1.0"/>
<path d="M226,105 C226.9,106.2 229.8,109.3 231.7,112.1 C233.6,114.9 236,118.5 237.4,122 C238.8,125.5 239.5,129.6 240.2,133.4 C240.9,137.2 240,141.6 241.7,144.7 C243.4,147.8 248.8,150.6 250.2,151.8" stroke="#aaaaaa" stroke-width="1.1"/>
<path d="M245.9,105 C245.4,107.4 243.8,115.4 243.1,119.2 C242.4,123 241.9,126.3 241.7,127.7" stroke="#969696" stroke-width="0.9"/>
<path d="M231.7,130.5 C230.5,131.7 226.2,135.7 224.6,137.6 C222.9,139.5 222,140.2 221.8,141.9 C221.6,143.6 223,146.7 223.2,147.6" stroke="#a0a0a0" stroke-width="1.0"/>
<path d="M251.6,96 C251.6,101.7 251.7,120 251.6,130 C251.5,140 251.1,151.7 251,156" stroke="#a0a0a0" stroke-width="1.0"/>
<path d="M180,100 C180.8,101.3 184.4,105.3 185,108 C185.6,110.7 183.8,114.9 183.5,116.3" stroke="#a0a0a0" stroke-width="1.0"/>
<path d="M203.4,95.6 C204,96.8 207,99.1 207,103 C207,106.9 204,116.5 203.4,119.2" stroke="#9b9b9b" stroke-width="0.9"/>
<path d="M208,100 C209,101 211.9,104.3 214,106 C216.1,107.7 219.3,109.3 220.4,110" stroke="#969696" stroke-width="0.9"/>
</g>
<path d="M142,12 C144.4,8.4 152.1,8.4 153,12 C153.9,15.6 149.5,26.1 147.5,33.4 C145.5,40.7 143,48.3 140.8,55.8 C138.6,63.3 135.8,70.8 134.1,78.2 C132.4,85.7 131.4,94.9 130.7,100.5 C129.9,106.1 131.2,110.1 129.6,112 C128,113.9 121.9,114.8 121,112 C120.1,109.2 122.8,100.6 124,95 C125.2,89.4 126.8,84.7 128.5,78.2 C130.2,71.7 132.4,63.3 134.1,55.8 C135.8,48.3 137.3,40.7 138.6,33.4 C139.9,26.1 139.6,15.6 142,12Z" fill="#868686" filter="url(#fb0)"/>
<path d="M145,14 C146.3,10.7 149.2,10.7 149,14 C148.8,17.3 145.8,27 144,34 C142.2,41 140,48.7 138,56 C136,63.3 133.7,71 132,78 C130.3,85 129.2,94.7 128,98 C126.8,101.3 124.8,101.3 125,98 C125.2,94.7 127.3,85 129,78 C130.7,71 133,63.3 135,56 C137,48.7 139.3,41 141,34 C142.7,27 143.7,17.3 145,14Z" fill="#959595" filter="url(#fb1)"/>
<g fill="none" stroke-linecap="round" stroke-linejoin="round" filter="url(#fb0)">
<path d="M142,12 C141.4,15.6 139.9,26.1 138.6,33.4 C137.3,40.7 135.8,48.3 134.1,55.8 C132.4,63.3 130.2,71.7 128.5,78.2 C126.8,84.7 125.6,90.4 124,95 C122.4,99.6 121,102.7 119,106 C117,109.3 114.8,111.7 112,115 C109.2,118.3 105.3,123 102,126 C98.7,129 95.7,130.7 92,133 C88.3,135.3 84.3,137.8 80,140 C75.7,142.2 70.7,144.3 66,146 C61.3,147.7 56.7,149 52,150 C47.3,151 40.3,151.7 38,152" stroke="#c3c3c3" stroke-width="1.6"/>
<path d="M153,12 C152.1,15.6 149.5,26.1 147.5,33.4 C145.5,40.7 143,48.3 140.8,55.8 C138.6,63.3 135.8,70.8 134.1,78.2 C132.4,85.7 131.4,94.2 130.7,100.5 C129.9,106.8 129.4,111.6 129.6,116 C129.8,120.4 130.9,123.8 132,127 C133.1,130.2 135,132 136.4,135 C137.8,138 138.9,141.3 140.5,145 C142.1,148.7 145,155 145.9,157" stroke="#b9b9b9" stroke-width="1.5"/>
<path d="M44,114 C44.7,113.3 46.3,111.9 48.1,110 C49.9,108.1 52.3,105.2 54.8,102.4 C57.3,99.6 60.4,95.9 62.9,93 C65.4,90.1 67.3,87.4 69.6,84.9 C71.8,82.4 73.7,80.9 76.4,78.2 C79.1,75.5 82.7,72.2 85.8,68.8 C88.9,65.4 92,61.5 95.2,58 C98.4,54.5 101.1,51.1 105,47.8 C108.9,44.5 115,41 118.6,38.3 C122.2,35.6 124.5,33.3 126.8,31.5 C129.1,29.7 130,28.5 132.3,27.4 C134.6,26.2 139.1,25.1 140.5,24.6" stroke="#b9b9b9" stroke-width="1.2"/>
<path d="M195,13 C193.2,14 187.3,17 184,19 C180.7,21 178.2,23 175,25 C171.8,27 168.5,28.5 165,31 C161.5,33.5 157.5,36 154.2,40.1 C150.9,44.2 147.5,50.2 145.3,55.8 C143.1,61.4 142.3,67 140.8,73.7 C139.3,80.4 137.8,89.7 136.3,96 C134.8,102.3 132.6,109.1 131.9,111.7" stroke="#b4b4b4" stroke-width="1.2"/>
</g>
</g>
<rect x="37.9" y="155.6" width="213.6" height="9.1" fill="#141414"/>
<g fill="none" stroke="#dddddd" stroke-width="0.6"><ellipse cx="43.9" cy="160.1" rx="3.2" ry="1.3"/><ellipse cx="43.9" cy="160.1" rx="3.2" ry="1.3" transform="rotate(60 43.9 160.1)"/><ellipse cx="43.9" cy="160.1" rx="3.2" ry="1.3" transform="rotate(-60 43.9 160.1)"/></g>
<rect x="51.4" y="156.4" width="13" height="7.5" fill="#1e1e1e" stroke="#3a3a3a" stroke-width="0.35"/>
<text x="52.6" y="159.2" font-size="3.6" fill="#b8b8b8" font-family="Liberation Sans, sans-serif">temp</text>
<text x="52.6" y="163.9" font-size="3.9" font-weight="bold" fill="#eeeeee" font-family="Liberation Sans, sans-serif">5.9 °C</text>
<rect x="65" y="156.4" width="16" height="7.5" fill="#1e1e1e" stroke="#3a3a3a" stroke-width="0.35"/>
<text x="66.2" y="159.2" font-size="3.6" fill="#b8b8b8" font-family="Liberation Sans, sans-serif">pressure</text>
<text x="66.2" y="163.9" font-size="3.9" font-weight="bold" fill="#eeeeee" font-family="Liberation Sans, sans-serif">50 Pa</text>
<rect x="81.4" y="156.4" width="18" height="7.5" fill="#1e1e1e" stroke="#3a3a3a" stroke-width="0.35"/>
<text x="82.6" y="159.2" font-size="3.6" fill="#b8b8b8" font-family="Liberation Sans, sans-serif">humidity</text>
<text x="82.6" y="163.9" font-size="3.9" font-weight="bold" fill="#eeeeee" font-family="Liberation Sans, sans-serif">4.1 %</text>
<rect x="99.4" y="156.4" width="15.5" height="7.5" fill="#1e1e1e" stroke="#3a3a3a" stroke-width="0.35"/>
<text x="100.6" y="159.2" font-size="3.6" fill="#b8b8b8" font-family="Liberation Sans, sans-serif">HV</text>
<text x="100.6" y="163.9" font-size="3.9" font-weight="bold" fill="#eeeeee" font-family="Liberation Sans, sans-serif">7.00 kV</text>
<rect x="115.4" y="156.4" width="12.5" height="7.5" fill="#1e1e1e" stroke="#3a3a3a" stroke-width="0.35"/>
<text x="116.6" y="159.2" font-size="3.6" fill="#b8b8b8" font-family="Liberation Sans, sans-serif">det</text>
<text x="116.6" y="163.9" font-size="3.9" font-weight="bold" fill="#eeeeee" font-family="Liberation Sans, sans-serif">GSED</text>
<rect x="128.4" y="156.4" width="12" height="7.5" fill="#1e1e1e" stroke="#3a3a3a" stroke-width="0.35"/>
<text x="129.6" y="159.2" font-size="3.6" fill="#b8b8b8" font-family="Liberation Sans, sans-serif">mag ▫</text>
<text x="129.6" y="163.9" font-size="3.9" font-weight="bold" fill="#eeeeee" font-family="Liberation Sans, sans-serif">800 x</text>
<rect x="140.9" y="156.4" width="11.5" height="7.5" fill="#1e1e1e" stroke="#3a3a3a" stroke-width="0.35"/>
<text x="142.1" y="159.2" font-size="3.6" fill="#b8b8b8" font-family="Liberation Sans, sans-serif">WD</text>
<text x="142.1" y="163.9" font-size="3.9" font-weight="bold" fill="#eeeeee" font-family="Liberation Sans, sans-serif">8.9 mm</text>
<rect x="157.6" y="156.4" width="93.1" height="7.5" fill="#1e1e1e" stroke="#3a3a3a" stroke-width="0.35"/>
<line x1="171.1" y1="158.2" x2="238.5" y2="158.2" stroke="#cfcfcf" stroke-width="0.6"/>
<line x1="171.1" y1="157" x2="171.1" y2="159.4" stroke="#cfcfcf" stroke-width="0.6"/>
<line x1="238.5" y1="157" x2="238.5" y2="159.4" stroke="#cfcfcf" stroke-width="0.6"/>
<rect x="200.8" y="156.6" width="8" height="3.2" fill="#1e1e1e"/>
<text x="204.8" y="159.5" font-size="3.7" fill="#e0e0e0" text-anchor="middle" font-family="Liberation Sans, sans-serif">50 μm</text>
<text x="205.8" y="163.9" font-size="3.7" fill="#e0e0e0" text-anchor="middle" font-family="Liberation Sans, sans-serif">Quattro</text>
<defs><clipPath id="cb"><rect x="316" y="13.4" width="213.2" height="141.8"/></clipPath></defs>
<rect x="314.2" y="11.7" width="216.9" height="154.7" fill="#000"/>
<g clip-path="url(#cb)">
<rect x="316" y="12" width="216" height="145" fill="#4c4c4c"/>
<path d="M316,12 L445,12 L445,62 L420,72 L390,80 L316,80 Z" fill="#575757" filter="url(#fb2)"/>
<ellipse cx="329" cy="20" rx="7" ry="4" fill="#4b4b4b" filter="url(#fb2)"/>
<ellipse cx="357" cy="21" rx="7" ry="6" fill="#4a4a4a" filter="url(#fb2)"/>
<path d="M440,12 L512,12 L497,23 L469,40 L455,49 L441,58 Z" fill="#6a6a6a" filter="url(#fb1)"/>
<ellipse cx="472" cy="21" rx="4" ry="2.5" fill="#505050" filter="url(#fb1)"/>
<path d="M508,12 L531,12 L531,50 L527,48 L518,34 L509,25 Z" fill="#7e7e7e" filter="url(#fb1)"/>
<path d="M498,62 L512,58 L516,80 L506,95 L498,80 Z" fill="#585858" filter="url(#fb3)"/>
<path d="M440,70 L468,60 L468,157 L444,157 Z" fill="#626262" filter="url(#fb2)"/>
<path d="M500,60 L531,60 L531,157 L505,157 Z" fill="#525252" filter="url(#fb3)"/>
<path d="M316,92 L405,96 L420,157 L316,157 Z" fill="#454545" filter="url(#fb2)"/>
<path d="M318,116 L335,122 L352,136 L345,140 L320,126 Z" fill="#4e4e4e" filter="url(#fb3)"/>
<path d="M316,82 C322.4,81 341.4,83.4 354.4,84 C367.4,84.6 384.6,86 393.9,85.5 C403.2,85 406.1,82.2 410,81 C413.9,79.8 413.7,79.8 417.6,78 C421.5,76.2 428.1,73.5 433.3,70.2 C438.6,66.9 443.8,61.6 449.1,58.3 C454.4,55 458.3,54.3 464.9,50.4 C471.5,46.5 482,39.3 488.6,34.7 C495.2,30.1 500.8,26.6 504.4,22.8 C508,19 507.1,13.8 510,12 C512.9,10.2 520.3,10.8 522,12 C523.7,13.2 522.4,15.8 520.1,18.9 C517.8,22 513.5,25.4 508.3,30.7 C503.1,36 495.8,45.1 488.6,50.4 C481.4,55.7 470.8,58.3 464.9,62.3 C459,66.2 457.1,69.5 453.1,74.1 C449.2,78.7 443.8,84 441.2,89.9 C438.6,95.8 437.3,103 437.3,109.6 C437.3,116.2 439.9,121.4 441.2,129.3 C442.5,137.2 446.5,152.4 445.2,157 C443.9,161.6 436.6,159.6 433.3,157 C430,154.4 428.1,145.8 425.5,141.2 C422.9,136.6 419.6,133.9 417.6,129.3 C415.6,124.7 415.6,118.2 413.6,113.6 C411.6,109 409,104.7 405.7,101.7 C402.4,98.7 402.4,97.4 393.9,95.8 C385.3,94.2 367.4,92.9 354.4,91.9 C341.4,90.9 322.4,91.6 316,89.9 C309.6,88.2 309.6,83 316,82Z" fill="#6b6b6b" filter="url(#fb0)"/>
<path d="M316,82.3 C322.3,81.5 341,83.7 354,84.3 C367,84.9 385.7,85.9 394,86 C402.3,86.1 402.3,84 404,85 C405.7,86 405.7,90.4 404,92 C402.3,93.6 402.3,94.7 394,94.5 C385.7,94.3 367,91.9 354,91 C341,90.1 322.3,90.7 316,89.2 C309.7,87.8 309.7,83.1 316,82.3Z" fill="#959595" filter="url(#fb0)"/>
<path d="M449,60 C451.2,57.5 458.3,55.8 465,52 C471.7,48.2 482.3,41.5 489,37 C495.7,32.5 501.3,28.3 505,25 C508.7,21.7 509.5,18.2 511,17 C512.5,15.8 514.5,16 514,18 C513.5,20 512.2,24.3 508,29 C503.8,33.7 496,41.2 489,46 C482,50.8 472.2,54.5 466,58 C459.8,61.5 454.8,66.7 452,67 C449.2,67.3 446.8,62.5 449,60Z" fill="#828282" filter="url(#fb1)"/>
<path d="M407.4,88 C408.3,86.7 411.1,85.1 413,84.9 C414.9,84.7 417.7,85.3 419,87 C420.3,88.7 421.3,92.3 420.8,95 C420.3,97.7 417.8,102.6 416,103.3 C414.2,104 411.4,100.7 410,99 C408.6,97.3 407.8,94.8 407.4,93 C407,91.2 406.5,89.3 407.4,88Z" fill="#a5a5a5" filter="url(#fb0)"/>
<circle cx="411.6" cy="92.7" r="1.8" fill="#bababa" filter="url(#fb0)"/>
<circle cx="417.5" cy="94.8" r="1.2" fill="#cacaca" filter="url(#fb0)"/>
<circle cx="411.5" cy="93.2" r="1" fill="#bababa" filter="url(#fb0)"/>
<circle cx="410.1" cy="89.7" r="1.7" fill="#b5b5b5" filter="url(#fb0)"/>
<circle cx="414.7" cy="90" r="1" fill="#d1d1d1" filter="url(#fb0)"/>
<circle cx="414.3" cy="87" r="1.5" fill="#c9c9c9" filter="url(#fb0)"/>
<path d="M407.4,88 C408.3,86.7 411.1,85.1 413,84.9 C414.9,84.7 417.7,85.3 419,87 C420.3,88.7 421.3,92.3 420.8,95 C420.3,97.7 417.8,102.6 416,103.3 C414.2,104 411.4,100.7 410,99 C408.6,97.3 407.8,94.8 407.4,93 C407,91.2 406.5,89.3 407.4,88Z" fill="none" stroke="#c3c3c3" stroke-width="0.8" filter="url(#fb0)"/>
<path d="M429,70.5 C430,69.3 434,67.8 437,65.4 C440,63 444.5,57.9 447,56 C449.5,54.1 451.2,53.4 452,54.1 C452.8,54.8 453.2,58 452,60 C450.8,62 447.3,64.2 445,66 C442.7,67.8 440.3,69.9 438,71 C435.7,72.1 432.5,72.7 431,72.6 C429.5,72.5 428,71.7 429,70.5Z" fill="#919191" filter="url(#fb0)"/>
<circle cx="447.7" cy="55.8" r="1.1" fill="#bdbdbd" filter="url(#fb0)"/>
<circle cx="439" cy="66.5" r="0.9" fill="#b9b9b9" filter="url(#fb0)"/>
<circle cx="436.3" cy="71.2" r="1" fill="#bcbcbc" filter="url(#fb0)"/>
<circle cx="433.6" cy="70.5" r="1.1" fill="#c2c2c2" filter="url(#fb0)"/>
<circle cx="443.8" cy="61.6" r="1" fill="#b8b8b8" filter="url(#fb0)"/>
<circle cx="448.8" cy="62.2" r="1.3" fill="#b9b9b9" filter="url(#fb0)"/>
<circle cx="448.1" cy="63.3" r="1.2" fill="#aeaeae" filter="url(#fb0)"/>
<circle cx="445.1" cy="62.5" r="1.3" fill="#c1c1c1" filter="url(#fb0)"/>
<path d="M429,70.5 C430,69.3 434,67.8 437,65.4 C440,63 444.5,57.9 447,56 C449.5,54.1 451.2,53.4 452,54.1 C452.8,54.8 453.2,58 452,60 C450.8,62 447.3,64.2 445,66 C442.7,67.8 440.3,69.9 438,71 C435.7,72.1 432.5,72.7 431,72.6 C429.5,72.5 428,71.7 429,70.5Z" fill="none" stroke="#b9b9b9" stroke-width="0.8" filter="url(#fb0)"/>
<path d="M477.4,47 C478.2,45.5 481.6,42.8 484,41 C486.4,39.2 489.3,37.5 492,36 C494.7,34.5 498.1,32.5 500,32 C501.9,31.5 503.1,31.7 503.3,33 C503.5,34.3 502.6,38 501,40 C499.4,42 496.5,43.5 494,45 C491.5,46.5 488.5,48.1 486,49 C483.5,49.9 480.4,50.5 479,50.2 C477.6,49.9 476.6,48.5 477.4,47Z" fill="#9b9b9b" filter="url(#fb0)"/>
<circle cx="496.4" cy="34.1" r="1.2" fill="#c4c4c4" filter="url(#fb0)"/>
<circle cx="488.6" cy="42.7" r="1.5" fill="#d5d5d5" filter="url(#fb0)"/>
<circle cx="484.8" cy="43.8" r="1.5" fill="#bbbbbb" filter="url(#fb0)"/>
<circle cx="489.6" cy="46.1" r="0.8" fill="#cbcbcb" filter="url(#fb0)"/>
<circle cx="482.8" cy="43.5" r="1.1" fill="#cdcdcd" filter="url(#fb0)"/>
<circle cx="496.1" cy="36" r="1.6" fill="#c9c9c9" filter="url(#fb0)"/>
<circle cx="488.5" cy="45.8" r="1.7" fill="#b3b3b3" filter="url(#fb0)"/>
<circle cx="499.4" cy="39.2" r="1.3" fill="#b5b5b5" filter="url(#fb0)"/>
<circle cx="495.5" cy="37.3" r="1.7" fill="#bababa" filter="url(#fb0)"/>
<circle cx="492" cy="39.3" r="1.4" fill="#b7b7b7" filter="url(#fb0)"/>
<circle cx="482.1" cy="45.6" r="1.6" fill="#c6c6c6" filter="url(#fb0)"/>
<circle cx="501.3" cy="35.7" r="1.7" fill="#b6b6b6" filter="url(#fb0)"/>
<circle cx="482.9" cy="47.6" r="0.9" fill="#bbbbbb" filter="url(#fb0)"/>
<circle cx="495" cy="38.7" r="1.4" fill="#cacaca" filter="url(#fb0)"/>
<path d="M477.4,47 C478.2,45.5 481.6,42.8 484,41 C486.4,39.2 489.3,37.5 492,36 C494.7,34.5 498.1,32.5 500,32 C501.9,31.5 503.1,31.7 503.3,33 C503.5,34.3 502.6,38 501,40 C499.4,42 496.5,43.5 494,45 C491.5,46.5 488.5,48.1 486,49 C483.5,49.9 480.4,50.5 479,50.2 C477.6,49.9 476.6,48.5 477.4,47Z" fill="none" stroke="#c8c8c8" stroke-width="0.8" filter="url(#fb0)"/>
<path d="M516,115 C517.5,113.8 521.8,112.8 524,113 C526.2,113.2 528.2,113.8 529,116 C529.8,118.2 530.3,124.2 529,126 C527.7,127.8 523.3,128 521,127 C518.7,126 515.8,122 515,120 C514.2,118 514.5,116.2 516,115Z" fill="#969696" filter="url(#fb0)"/>
<circle cx="528.2" cy="120.2" r="2" fill="#a8a8a8" filter="url(#fb0)"/>
<circle cx="523.5" cy="118.3" r="1.8" fill="#acacac" filter="url(#fb0)"/>
<circle cx="527.2" cy="120.6" r="1.9" fill="#b8b8b8" filter="url(#fb0)"/>
<circle cx="521" cy="124" r="2" fill="#b4b4b4" filter="url(#fb0)"/>
<circle cx="528.6" cy="126" r="1" fill="#bdbdbd" filter="url(#fb0)"/>
<circle cx="524.9" cy="126.2" r="1.6" fill="#aaaaaa" filter="url(#fb0)"/>
<path d="M516,115 C517.5,113.8 521.8,112.8 524,113 C526.2,113.2 528.2,113.8 529,116 C529.8,118.2 530.3,124.2 529,126 C527.7,127.8 523.3,128 521,127 C518.7,126 515.8,122 515,120 C514.2,118 514.5,116.2 516,115Z" fill="none" stroke="#bebebe" stroke-width="0.8" filter="url(#fb0)"/>
<g fill="none" stroke="#9c9c9c" stroke-width="0.8" filter="url(#fb0)">
<path d="M416,104 C417.3,102.3 421.5,100.7 424,101 C426.5,101.3 430,103.8 431,106 C432,108.2 431.5,112.3 430,114 C428.5,115.7 424.3,116.5 422,116 C419.7,115.5 417,113 416,111 C415,109 414.7,105.7 416,104Z"/>
<path d="M420,117 C421.5,115.5 425.7,115.2 428,116 C430.3,116.8 433.3,119.7 434,122 C434.7,124.3 433.7,128.5 432,130 C430.3,131.5 426.2,131.8 424,131 C421.8,130.2 419.7,127.3 419,125 C418.3,122.7 418.5,118.5 420,117Z"/>
<path d="M424,132 C425.3,130.5 429.7,130.2 432,131 C434.3,131.8 437.2,134.7 438,137 C438.8,139.3 438.5,143.5 437,145 C435.5,146.5 431.2,146.8 429,146 C426.8,145.2 424.8,142.3 424,140 C423.2,137.7 422.7,133.5 424,132Z"/>
<path d="M430,104 C431.2,102.3 435.3,101 437,102 C438.7,103 440.3,107.7 440,110 C439.7,112.3 436.7,115.7 435,116 C433.3,116.3 430.8,114 430,112 C429.2,110 428.8,105.7 430,104Z"/>
<path d="M428,88 C429,86.3 433.2,85.2 435,86 C436.8,86.8 439,90.8 439,93 C439,95.2 436.7,98.5 435,99 C433.3,99.5 430.2,97.8 429,96 C427.8,94.2 427,89.7 428,88Z"/>
</g>
<g fill="none" stroke-linecap="round" filter="url(#fb0)">
<path d="M316,82 C322.4,82.3 341.4,83.4 354.4,84 C367.4,84.6 384.6,86 393.9,85.5 C403.2,85 406.1,82.2 410,81 C413.9,79.8 413.7,79.8 417.6,78 C421.5,76.2 428.1,73.5 433.3,70.2 C438.6,66.9 443.8,61.6 449.1,58.3 C454.4,55 458.3,54.3 464.9,50.4 C471.5,46.5 482,39.3 488.6,34.7 C495.2,30.1 500.8,26.6 504.4,22.8 C508,19 509.1,13.8 510,12" stroke="#b4b4b4" stroke-width="1.3"/>
<path d="M316,89.9 C322.4,90.2 341.4,90.9 354.4,91.9 C367.4,92.9 385.3,94.2 393.9,95.8 C402.4,97.4 402.4,98.7 405.7,101.7 C409,104.7 411.6,109 413.6,113.6 C415.6,118.2 415.6,124.7 417.6,129.3 C419.6,133.9 422.9,136.6 425.5,141.2 C428.1,145.8 432,154.4 433.3,157" stroke="#969696" stroke-width="1.0"/>
<path d="M522,12 C521.7,13.2 522.4,15.8 520.1,18.9 C517.8,22 513.5,25.4 508.3,30.7 C503.1,36 495.8,45.1 488.6,50.4 C481.4,55.7 470.8,58.3 464.9,62.3 C459,66.2 457.1,69.5 453.1,74.1 C449.2,78.7 443.8,84 441.2,89.9 C438.6,95.8 437.3,103 437.3,109.6 C437.3,116.2 439.9,121.4 441.2,129.3 C442.5,137.2 444.5,152.4 445.2,157" stroke="#afafaf" stroke-width="1.2"/>
<path d="M462,60 C461.8,65 461.2,80 461,90 C460.8,100 460.8,108.8 461,120 C461.2,131.2 461.8,150.8 462,157" stroke="#969696" stroke-width="1.0"/>
<path d="M467.6,60 C467.6,66.7 467.7,83.8 467.6,100 C467.5,116.2 467.1,147.5 467,157" stroke="#787878" stroke-width="0.8"/>
<path d="M444.5,12 C444.7,15 445.2,23.7 445.5,30 C445.8,36.3 445.9,46.7 446,50" stroke="#6e6e6e" stroke-width="0.7"/>
<path d="M450,12 C450.2,15 450.8,24 451,30 C451.2,36 451,45 451,48" stroke="#6e6e6e" stroke-width="0.7"/>
<path d="M481.6,13.8 C479.5,16.8 472.3,26.6 469,32 C465.7,37.4 463.2,43.7 462,46" stroke="#828282" stroke-width="0.8"/>
<path d="M462,12 C462,15 462.2,24.5 462,30 C461.8,35.5 461.2,42.5 461,45" stroke="#787878" stroke-width="0.8"/>
<path d="M514,28 C515,29 517.7,31 520,34 C522.3,37 526.5,44 527.8,46" stroke="#969696" stroke-width="0.9"/>
<path d="M418,132 C415.8,133.8 409.1,138.8 405,143 C400.9,147.2 395.2,154.7 393.2,157" stroke="#8c8c8c" stroke-width="1.0"/>
<path d="M423,139 C420.8,140.5 413.8,145 410,148 C406.2,151 401.7,155.5 400,157" stroke="#8c8c8c" stroke-width="1.0"/>
<path d="M316,100 C320,100.2 331,100.3 340,101 C349,101.7 360,102.5 370,104 C380,105.5 395,109 400,110" stroke="#5f5f5f" stroke-width="0.7"/>
<path d="M316,110 C320.8,110.3 335.2,110.7 345,112 C354.8,113.3 365.8,116 375,118 C384.2,120 395.8,123 400,124" stroke="#5f5f5f" stroke-width="0.7"/>
<path d="M316.4,74.4 C317.3,75 320,76.8 322,78 C324,79.2 327.5,81.2 328.6,81.9" stroke="#646464" stroke-width="0.7"/>
<path d="M358.6,15 C358.6,20.8 358.9,39.2 358.6,50 C358.3,60.8 357.3,75 357,80" stroke="#5a5a5a" stroke-width="0.6"/>
<path d="M445,105 L456,116" stroke="#787878" stroke-width="0.7"/>
<path d="M504,60 C504.3,66.7 506,83.8 506,100 C506,116.2 504.3,147.5 504,157" stroke="#646464" stroke-width="0.7"/>
<path d="M413,104 C414.2,103.3 417.5,100 420,100 C422.5,100 426,102 428,104 C430,106 432,109.3 432,112 C432,114.7 430,119 428,120 C426,121 422.3,119.3 420,118 C417.7,116.7 415,113 414,112" stroke="#8c8c8c" stroke-width="0.8"/>
<path d="M418,122 C419.3,122 423.7,121 426,122 C428.3,123 431.3,125.3 432,128 C432.7,130.7 431.7,136.7 430,138 C428.3,139.3 424,137.3 422,136 C420,134.7 418.7,131 418,130" stroke="#8c8c8c" stroke-width="0.8"/>
<path d="M424,140 C425.3,140 429.8,139 432,140 C434.2,141 436.7,143.7 437,146 C437.3,148.3 435.8,153 434,154 C432.2,155 427.3,152.3 426,152" stroke="#969696" stroke-width="0.8"/>
<path d="M425,88 C426.2,87.5 430.2,84.3 432,85 C433.8,85.7 436,89.5 436,92 C436,94.5 433.7,99 432,100 C430.3,101 427,98.3 426,98" stroke="#828282" stroke-width="0.8"/>
</g>
</g>
<rect x="316" y="155.2" width="213.2" height="9.4" fill="#141414"/>
<g fill="none" stroke="#dddddd" stroke-width="0.6"><ellipse cx="322" cy="159.9" rx="3.2" ry="1.3"/><ellipse cx="322" cy="159.9" rx="3.2" ry="1.3" transform="rotate(60 322 159.9)"/><ellipse cx="322" cy="159.9" rx="3.2" ry="1.3" transform="rotate(-60 322 159.9)"/></g>
<rect x="329" y="156" width="11" height="7.8" fill="#1e1e1e" stroke="#3a3a3a" stroke-width="0.35"/>
<text x="330.2" y="158.8" font-size="3.6" fill="#b8b8b8" font-family="Liberation Sans, sans-serif">temp</text>
<text x="330.2" y="163.5" font-size="3.9" font-weight="bold" fill="#eeeeee" font-family="Liberation Sans, sans-serif">0 °C</text>
<rect x="339.8" y="156" width="16" height="7.8" fill="#1e1e1e" stroke="#3a3a3a" stroke-width="0.35"/>
<text x="341" y="158.8" font-size="3.6" fill="#b8b8b8" font-family="Liberation Sans, sans-serif">pressure</text>
<text x="341" y="163.5" font-size="3.9" font-weight="bold" fill="#eeeeee" font-family="Liberation Sans, sans-serif">100 Pa</text>
<rect x="357" y="156" width="18" height="7.8" fill="#1e1e1e" stroke="#3a3a3a" stroke-width="0.35"/>
<text x="358.2" y="158.8" font-size="3.6" fill="#b8b8b8" font-family="Liberation Sans, sans-serif">humidity</text>
<text x="358.2" y="163.5" font-size="3.9" font-weight="bold" fill="#eeeeee" font-family="Liberation Sans, sans-serif">15.4 %</text>
<rect x="374.6" y="156" width="15.5" height="7.8" fill="#1e1e1e" stroke="#3a3a3a" stroke-width="0.35"/>
<text x="375.8" y="158.8" font-size="3.6" fill="#b8b8b8" font-family="Liberation Sans, sans-serif">HV</text>
<text x="375.8" y="163.5" font-size="3.9" font-weight="bold" fill="#eeeeee" font-family="Liberation Sans, sans-serif">7.00 kV</text>
<rect x="391.2" y="156" width="12.5" height="7.8" fill="#1e1e1e" stroke="#3a3a3a" stroke-width="0.35"/>
<text x="392.4" y="158.8" font-size="3.6" fill="#b8b8b8" font-family="Liberation Sans, sans-serif">det</text>
<text x="392.4" y="163.5" font-size="3.9" font-weight="bold" fill="#eeeeee" font-family="Liberation Sans, sans-serif">GSED</text>
<rect x="404.1" y="156" width="15" height="7.8" fill="#1e1e1e" stroke="#3a3a3a" stroke-width="0.35"/>
<text x="405.3" y="158.8" font-size="3.6" fill="#b8b8b8" font-family="Liberation Sans, sans-serif">mag ▫</text>
<text x="405.3" y="163.5" font-size="3.9" font-weight="bold" fill="#eeeeee" font-family="Liberation Sans, sans-serif">1 500 x</text>
<rect x="420.7" y="156" width="12" height="7.8" fill="#1e1e1e" stroke="#3a3a3a" stroke-width="0.35"/>
<text x="421.9" y="158.8" font-size="3.6" fill="#b8b8b8" font-family="Liberation Sans, sans-serif">WD</text>
<text x="421.9" y="163.5" font-size="3.9" font-weight="bold" fill="#eeeeee" font-family="Liberation Sans, sans-serif">9.9 mm</text>
<rect x="435.6" y="156" width="92.8" height="7.8" fill="#1e1e1e" stroke="#3a3a3a" stroke-width="0.35"/>
<line x1="444.9" y1="157.8" x2="521" y2="157.8" stroke="#cfcfcf" stroke-width="0.6"/>
<line x1="444.9" y1="156.6" x2="444.9" y2="159" stroke="#cfcfcf" stroke-width="0.6"/>
<line x1="521" y1="156.6" x2="521" y2="159" stroke="#cfcfcf" stroke-width="0.6"/>
<rect x="478.9" y="156.2" width="8" height="3.2" fill="#1e1e1e"/>
<text x="482.9" y="159.1" font-size="3.7" fill="#e0e0e0" text-anchor="middle" font-family="Liberation Sans, sans-serif">30 μm</text>
<text x="483.9" y="163.5" font-size="3.7" fill="#e0e0e0" text-anchor="middle" font-family="Liberation Sans, sans-serif">Quattro</text>
<text x="6" y="25.3" font-size="30" fill="#000" text-anchor="start" font-weight="bold" >a</text>
<text x="285.2" y="26.8" font-size="30" fill="#000" text-anchor="start" font-weight="bold" >b</text>
<text x="5.2" y="203.4" font-size="30" fill="#000" text-anchor="start" font-weight="bold" >c</text>
<text x="281.5" y="207" font-size="30" fill="#000" text-anchor="start" font-weight="bold" >d</text>
<text x="8.8" y="380.6" font-size="30" fill="#000" text-anchor="start" font-weight="bold" >e</text>
<text x="285" y="386" font-size="30" fill="#000" text-anchor="start" font-weight="bold" >f</text>
<line x1="68.8" y1="322.3" x2="231.6" y2="322.3" stroke="#111111" stroke-width="1.2" />
<line x1="68.8" y1="189.3" x2="231.6" y2="189.3" stroke="#1a6ec2" stroke-width="1.0" />
<line x1="68.8" y1="189.3" x2="68.8" y2="322.8" stroke="#1a6ec2" stroke-width="1.0" />
<line x1="231.6" y1="189.3" x2="231.6" y2="322.8" stroke="#f06070" stroke-width="1.0" />
<line x1="68.8" y1="313.47" x2="70.1" y2="313.47" stroke="#1a6ec2" stroke-width="0.9" />
<line x1="230.3" y1="313.47" x2="231.6" y2="313.47" stroke="#1a6ec2" stroke-width="0.9" />
<line x1="68.8" y1="299.7" x2="71.2" y2="299.7" stroke="#1a6ec2" stroke-width="0.9" />
<line x1="229.2" y1="299.7" x2="231.6" y2="299.7" stroke="#1a6ec2" stroke-width="0.9" />
<line x1="68.8" y1="285.93" x2="70.1" y2="285.93" stroke="#1a6ec2" stroke-width="0.9" />
<line x1="230.3" y1="285.93" x2="231.6" y2="285.93" stroke="#1a6ec2" stroke-width="0.9" />
<line x1="68.8" y1="272.15" x2="71.2" y2="272.15" stroke="#1a6ec2" stroke-width="0.9" />
<line x1="229.2" y1="272.15" x2="231.6" y2="272.15" stroke="#1a6ec2" stroke-width="0.9" />
<line x1="68.8" y1="258.38" x2="70.1" y2="258.38" stroke="#1a6ec2" stroke-width="0.9" />
<line x1="230.3" y1="258.38" x2="231.6" y2="258.38" stroke="#1a6ec2" stroke-width="0.9" />
<line x1="68.8" y1="244.6" x2="71.2" y2="244.6" stroke="#1a6ec2" stroke-width="0.9" />
<line x1="229.2" y1="244.6" x2="231.6" y2="244.6" stroke="#1a6ec2" stroke-width="0.9" />
<line x1="68.8" y1="230.82" x2="70.1" y2="230.82" stroke="#1a6ec2" stroke-width="0.9" />
<line x1="230.3" y1="230.82" x2="231.6" y2="230.82" stroke="#1a6ec2" stroke-width="0.9" />
<line x1="68.8" y1="217.05" x2="71.2" y2="217.05" stroke="#1a6ec2" stroke-width="0.9" />
<line x1="229.2" y1="217.05" x2="231.6" y2="217.05" stroke="#1a6ec2" stroke-width="0.9" />
<line x1="68.8" y1="203.27" x2="70.1" y2="203.27" stroke="#1a6ec2" stroke-width="0.9" />
<line x1="230.3" y1="203.27" x2="231.6" y2="203.27" stroke="#1a6ec2" stroke-width="0.9" />
<line x1="68.8" y1="189.5" x2="71.2" y2="189.5" stroke="#1a6ec2" stroke-width="0.9" />
<line x1="229.2" y1="189.5" x2="231.6" y2="189.5" stroke="#1a6ec2" stroke-width="0.9" />
<text transform="translate(65.6,303.3) scale(1,1.07)" font-size="11" fill="#111111" text-anchor="end" stroke="#111111" stroke-width="0.15" >500</text>
<text transform="translate(65.6,275.75) scale(1,1.07)" font-size="11" fill="#111111" text-anchor="end" stroke="#111111" stroke-width="0.15" >1000</text>
<text transform="translate(65.6,248.2) scale(1,1.07)" font-size="11" fill="#111111" text-anchor="end" stroke="#111111" stroke-width="0.15" >1500</text>
<text transform="translate(65.6,220.65) scale(1,1.07)" font-size="11" fill="#111111" text-anchor="end" stroke="#111111" stroke-width="0.15" >2000</text>
<text transform="translate(65.6,193.1) scale(1,1.07)" font-size="11" fill="#111111" text-anchor="end" stroke="#111111" stroke-width="0.15" >2500</text>
<line x1="231.6" y1="189.3" x2="234" y2="189.3" stroke="#ff1a1a" stroke-width="0.9" />
<text transform="translate(236.2,192.9) scale(1,1.07)" font-size="11.2" fill="#111111" text-anchor="start" stroke="#111111" stroke-width="0.15" >1.0</text>
<line x1="231.6" y1="202.17" x2="234" y2="202.17" stroke="#ff1a1a" stroke-width="0.9" />
<text transform="translate(236.2,205.77) scale(1,1.07)" font-size="11.2" fill="#111111" text-anchor="start" stroke="#111111" stroke-width="0.15" >0.8</text>
<line x1="231.6" y1="218.76" x2="234" y2="218.76" stroke="#ff1a1a" stroke-width="0.9" />
<text transform="translate(236.2,222.36) scale(1,1.07)" font-size="11.2" fill="#111111" text-anchor="start" stroke="#111111" stroke-width="0.15" >0.6</text>
<line x1="231.6" y1="242.15" x2="234" y2="242.15" stroke="#ff1a1a" stroke-width="0.9" />
<text transform="translate(236.2,245.75) scale(1,1.07)" font-size="11.2" fill="#111111" text-anchor="start" stroke="#111111" stroke-width="0.15" >0.4</text>
<line x1="231.6" y1="282.12" x2="234" y2="282.12" stroke="#ff1a1a" stroke-width="0.9" />
<text transform="translate(236.2,285.72) scale(1,1.07)" font-size="11.2" fill="#111111" text-anchor="start" stroke="#111111" stroke-width="0.15" >0.2</text>
<line x1="82.2" y1="322.3" x2="82.2" y2="320.1" stroke="#111111" stroke-width="0.9" />
<line x1="126.3" y1="322.3" x2="126.3" y2="321" stroke="#111111" stroke-width="0.9" />
<line x1="142.7" y1="322.3" x2="142.7" y2="320.1" stroke="#111111" stroke-width="0.9" />
<line x1="181.4" y1="322.3" x2="181.4" y2="321" stroke="#111111" stroke-width="0.9" />
<line x1="198.3" y1="322.3" x2="198.3" y2="320.1" stroke="#111111" stroke-width="0.9" />
<line x1="224.5" y1="322.3" x2="224.5" y2="321" stroke="#111111" stroke-width="0.9" />
<text transform="translate(80.7,334.5) scale(1,1.07)" font-size="11" fill="#111111" stroke="#111111" stroke-width="0.15" text-anchor="middle">10<tspan font-size="7.2" dy="-3.6" dx="-0.4">1</tspan></text>
<text transform="translate(141.2,334.5) scale(1,1.07)" font-size="11" fill="#111111" stroke="#111111" stroke-width="0.15" text-anchor="middle">10<tspan font-size="7.2" dy="-3.6" dx="-0.4">2</tspan></text>
<text transform="translate(196.8,334.5) scale(1,1.07)" font-size="11" fill="#111111" stroke="#111111" stroke-width="0.15" text-anchor="middle">10<tspan font-size="7.2" dy="-3.6" dx="-0.4">3</tspan></text>
<text x="121.54" y="349.2" font-size="15.1" fill="#111111" text-anchor="start" font-weight="bold" >Stress (Pa)</text>
<text transform="translate(39.98,250.01) rotate(-90)" font-size="15.3" fill="#1a6ec2" font-weight="bold">G'(Pa)</text>
<text transform="translate(39.98,312.13) rotate(-90)" font-size="15.3" fill="#3aa517" font-weight="bold">G''(Pa)</text>
<text transform="translate(261.36,274.1) rotate(-90)" font-size="14.2" fill="#ff1a1a" font-weight="bold">tanδ</text>
<polyline points="82.3,229.3 85.5,229.19 88.8,229.09 92.2,228.97 96.1,228.85 100.9,228.69 106.3,228.51 113.1,228.29 117.2,228.15 121.3,228.02 124.7,227.9 128.5,227.78 132.2,227.66 135.8,227.54 139.4,227.42 143.1,227.4 147,227.4 150.5,227.4 154,227.4 157.4,227.4 161.3,227.4 165.1,227.4 168.9,227.4 172.9,227.4 176.6,227.7 180.3,227.8 184,228.3 187.6,228.9 191.4,229.7 195.1,230.5 198.7,231.4 202.2,232.8 205.6,234.5 209.5,237 213.4,239.7 216.9,243.3 220.8,247.1 224.7,252.1" fill="none" stroke="#1a6ec2" stroke-width="0.7" stroke-linejoin="round" />
<circle cx="82.3" cy="229.3" r="1.35" fill="#1a6ec2"/>
<circle cx="85.5" cy="229.19" r="1.35" fill="#1a6ec2"/>
<circle cx="88.8" cy="229.09" r="1.35" fill="#1a6ec2"/>
<circle cx="92.2" cy="228.97" r="1.35" fill="#1a6ec2"/>
<circle cx="96.1" cy="228.85" r="1.35" fill="#1a6ec2"/>
<circle cx="100.9" cy="228.69" r="1.35" fill="#1a6ec2"/>
<circle cx="106.3" cy="228.51" r="1.35" fill="#1a6ec2"/>
<circle cx="113.1" cy="228.29" r="1.35" fill="#1a6ec2"/>
<circle cx="117.2" cy="228.15" r="1.35" fill="#1a6ec2"/>
<circle cx="121.3" cy="228.02" r="1.35" fill="#1a6ec2"/>
<circle cx="124.7" cy="227.9" r="1.35" fill="#1a6ec2"/>
<circle cx="128.5" cy="227.78" r="1.35" fill="#1a6ec2"/>
<circle cx="132.2" cy="227.66" r="1.35" fill="#1a6ec2"/>
<circle cx="135.8" cy="227.54" r="1.35" fill="#1a6ec2"/>
<circle cx="139.4" cy="227.42" r="1.35" fill="#1a6ec2"/>
<circle cx="143.1" cy="227.4" r="1.35" fill="#1a6ec2"/>
<circle cx="147" cy="227.4" r="1.35" fill="#1a6ec2"/>
<circle cx="150.5" cy="227.4" r="1.35" fill="#1a6ec2"/>
<circle cx="154" cy="227.4" r="1.35" fill="#1a6ec2"/>
<circle cx="157.4" cy="227.4" r="1.35" fill="#1a6ec2"/>
<circle cx="161.3" cy="227.4" r="1.35" fill="#1a6ec2"/>
<circle cx="165.1" cy="227.4" r="1.35" fill="#1a6ec2"/>
<circle cx="168.9" cy="227.4" r="1.35" fill="#1a6ec2"/>
<circle cx="172.9" cy="227.4" r="1.35" fill="#1a6ec2"/>
<circle cx="176.6" cy="227.7" r="1.35" fill="#1a6ec2"/>
<circle cx="180.3" cy="227.8" r="1.35" fill="#1a6ec2"/>
<circle cx="184" cy="228.3" r="1.35" fill="#1a6ec2"/>
<circle cx="187.6" cy="228.9" r="1.35" fill="#1a6ec2"/>
<circle cx="191.4" cy="229.7" r="1.35" fill="#1a6ec2"/>
<circle cx="195.1" cy="230.5" r="1.35" fill="#1a6ec2"/>
<circle cx="198.7" cy="231.4" r="1.35" fill="#1a6ec2"/>
<circle cx="202.2" cy="232.8" r="1.35" fill="#1a6ec2"/>
<circle cx="205.6" cy="234.5" r="1.35" fill="#1a6ec2"/>
<circle cx="209.5" cy="237" r="1.35" fill="#1a6ec2"/>
<circle cx="213.4" cy="239.7" r="1.35" fill="#1a6ec2"/>
<circle cx="216.9" cy="243.3" r="1.35" fill="#1a6ec2"/>
<circle cx="220.8" cy="247.1" r="1.35" fill="#1a6ec2"/>
<circle cx="224.7" cy="252.1" r="1.35" fill="#1a6ec2"/>
<polyline points="82.3,275.3 85.5,275 88.8,274.5 92.2,274.5 96.1,274.1 100.9,275.6 106.3,275.6 113.1,275.6 117.2,274.5 121.3,275.3 124.7,275.1 128.5,274.8 132.2,275 135.8,275.1 139.4,275.3 143.1,275.1 147,275.1 150.5,275.2 154,275.2 157.4,275.2 161.3,275.2 165.1,275.2 168.9,275.2 172.9,275.2 176.6,275.1 180.3,275.1 184,275 187.6,274.6 191.4,274.2 195.1,273.5 198.7,272.8 202.2,272 205.6,271.4 209.5,270.3 213.4,268.9 216.9,267.7 220.8,266.4 224.7,264.6" fill="none" stroke="#ff1a1a" stroke-width="0.7" stroke-linejoin="round" />
<path d="M82.3,273.75L83.85,276.54L80.75,276.54Z" fill="#ff1a1a"/>
<path d="M85.5,273.45L87.05,276.24L83.95,276.24Z" fill="#ff1a1a"/>
<path d="M88.8,272.95L90.35,275.74L87.25,275.74Z" fill="#ff1a1a"/>
<path d="M92.2,272.95L93.75,275.74L90.65,275.74Z" fill="#ff1a1a"/>
<path d="M96.1,272.55L97.65,275.34L94.55,275.34Z" fill="#ff1a1a"/>
<path d="M100.9,274.05L102.45,276.84L99.35,276.84Z" fill="#ff1a1a"/>
<path d="M106.3,274.05L107.85,276.84L104.75,276.84Z" fill="#ff1a1a"/>
<path d="M113.1,274.05L114.65,276.84L111.55,276.84Z" fill="#ff1a1a"/>
<path d="M117.2,272.95L118.75,275.74L115.65,275.74Z" fill="#ff1a1a"/>
<path d="M121.3,273.75L122.85,276.54L119.75,276.54Z" fill="#ff1a1a"/>
<path d="M124.7,273.55L126.25,276.34L123.15,276.34Z" fill="#ff1a1a"/>
<path d="M128.5,273.25L130.05,276.04L126.95,276.04Z" fill="#ff1a1a"/>
<path d="M132.2,273.45L133.75,276.24L130.65,276.24Z" fill="#ff1a1a"/>
<path d="M135.8,273.55L137.35,276.34L134.25,276.34Z" fill="#ff1a1a"/>
<path d="M139.4,273.75L140.95,276.54L137.85,276.54Z" fill="#ff1a1a"/>
<path d="M143.1,273.55L144.65,276.34L141.55,276.34Z" fill="#ff1a1a"/>
<path d="M147,273.55L148.55,276.34L145.45,276.34Z" fill="#ff1a1a"/>
<path d="M150.5,273.65L152.05,276.44L148.95,276.44Z" fill="#ff1a1a"/>
<path d="M154,273.65L155.55,276.44L152.45,276.44Z" fill="#ff1a1a"/>
<path d="M157.4,273.65L158.95,276.44L155.85,276.44Z" fill="#ff1a1a"/>
<path d="M161.3,273.65L162.85,276.44L159.75,276.44Z" fill="#ff1a1a"/>
<path d="M165.1,273.65L166.65,276.44L163.55,276.44Z" fill="#ff1a1a"/>
<path d="M168.9,273.65L170.45,276.44L167.35,276.44Z" fill="#ff1a1a"/>
<path d="M172.9,273.65L174.45,276.44L171.35,276.44Z" fill="#ff1a1a"/>
<path d="M176.6,273.55L178.15,276.34L175.05,276.34Z" fill="#ff1a1a"/>
<path d="M180.3,273.55L181.85,276.34L178.75,276.34Z" fill="#ff1a1a"/>
<path d="M184,273.45L185.55,276.24L182.45,276.24Z" fill="#ff1a1a"/>
<path d="M187.6,273.05L189.15,275.84L186.05,275.84Z" fill="#ff1a1a"/>
<path d="M191.4,272.65L192.95,275.44L189.85,275.44Z" fill="#ff1a1a"/>
<path d="M195.1,271.95L196.65,274.74L193.55,274.74Z" fill="#ff1a1a"/>
<path d="M198.7,271.25L200.25,274.04L197.15,274.04Z" fill="#ff1a1a"/>
<path d="M202.2,270.45L203.75,273.24L200.65,273.24Z" fill="#ff1a1a"/>
<path d="M205.6,269.85L207.15,272.64L204.05,272.64Z" fill="#ff1a1a"/>
<path d="M209.5,268.75L211.05,271.54L207.95,271.54Z" fill="#ff1a1a"/>
<path d="M213.4,267.35L214.95,270.14L211.85,270.14Z" fill="#ff1a1a"/>
<path d="M216.9,266.15L218.45,268.94L215.35,268.94Z" fill="#ff1a1a"/>
<path d="M220.8,264.85L222.35,267.64L219.25,267.64Z" fill="#ff1a1a"/>
<path d="M224.7,263.05L226.25,265.84L223.15,265.84Z" fill="#ff1a1a"/>
<polyline points="82.3,305.8 85.5,305.5 88.8,305.4 92.2,305.2 96.1,305.1 100.9,305.7 106.3,305.7 113.1,305.7 117.2,305.2 121.3,305.2 124.7,305.2 128.5,305.2 132.2,305.2 135.8,305.2 139.4,305.2 143.1,305.2 147,305.2 150.5,305.2 154,305.2 157.4,305.2 161.3,305.2 165.1,305.2 168.9,305.2 172.9,305.2 176.6,305.2 180.3,305.2 184,305.2 187.6,305.2 191.4,305.2 195.1,305.2 198.7,305.2 202.2,305.2 205.6,305.4 209.5,305.7 213.4,306 216.9,306.3 220.8,306.6 224.7,307.2" fill="none" stroke="#3aa517" stroke-width="0.7" stroke-linejoin="round" />
<circle cx="82.3" cy="305.8" r="1.35" fill="#3aa517"/>
<circle cx="85.5" cy="305.5" r="1.35" fill="#3aa517"/>
<circle cx="88.8" cy="305.4" r="1.35" fill="#3aa517"/>
<circle cx="92.2" cy="305.2" r="1.35" fill="#3aa517"/>
<circle cx="96.1" cy="305.1" r="1.35" fill="#3aa517"/>
<circle cx="100.9" cy="305.7" r="1.35" fill="#3aa517"/>
<circle cx="106.3" cy="305.7" r="1.35" fill="#3aa517"/>
<circle cx="113.1" cy="305.7" r="1.35" fill="#3aa517"/>
<circle cx="117.2" cy="305.2" r="1.35" fill="#3aa517"/>
<circle cx="121.3" cy="305.2" r="1.35" fill="#3aa517"/>
<circle cx="124.7" cy="305.2" r="1.35" fill="#3aa517"/>
<circle cx="128.5" cy="305.2" r="1.35" fill="#3aa517"/>
<circle cx="132.2" cy="305.2" r="1.35" fill="#3aa517"/>
<circle cx="135.8" cy="305.2" r="1.35" fill="#3aa517"/>
<circle cx="139.4" cy="305.2" r="1.35" fill="#3aa517"/>
<circle cx="143.1" cy="305.2" r="1.35" fill="#3aa517"/>
<circle cx="147" cy="305.2" r="1.35" fill="#3aa517"/>
<circle cx="150.5" cy="305.2" r="1.35" fill="#3aa517"/>
<circle cx="154" cy="305.2" r="1.35" fill="#3aa517"/>
<circle cx="157.4" cy="305.2" r="1.35" fill="#3aa517"/>
<circle cx="161.3" cy="305.2" r="1.35" fill="#3aa517"/>
<circle cx="165.1" cy="305.2" r="1.35" fill="#3aa517"/>
<circle cx="168.9" cy="305.2" r="1.35" fill="#3aa517"/>
<circle cx="172.9" cy="305.2" r="1.35" fill="#3aa517"/>
<circle cx="176.6" cy="305.2" r="1.35" fill="#3aa517"/>
<circle cx="180.3" cy="305.2" r="1.35" fill="#3aa517"/>
<circle cx="184" cy="305.2" r="1.35" fill="#3aa517"/>
<circle cx="187.6" cy="305.2" r="1.35" fill="#3aa517"/>
<circle cx="191.4" cy="305.2" r="1.35" fill="#3aa517"/>
<circle cx="195.1" cy="305.2" r="1.35" fill="#3aa517"/>
<circle cx="198.7" cy="305.2" r="1.35" fill="#3aa517"/>
<circle cx="202.2" cy="305.2" r="1.35" fill="#3aa517"/>
<circle cx="205.6" cy="305.4" r="1.35" fill="#3aa517"/>
<circle cx="209.5" cy="305.7" r="1.35" fill="#3aa517"/>
<circle cx="213.4" cy="306" r="1.35" fill="#3aa517"/>
<circle cx="216.9" cy="306.3" r="1.35" fill="#3aa517"/>
<circle cx="220.8" cy="306.6" r="1.35" fill="#3aa517"/>
<circle cx="224.7" cy="307.2" r="1.35" fill="#3aa517"/>
<line x1="191" y1="199.5" x2="210.7" y2="199.5" stroke="#1a6ec2" stroke-width="0.8" />
<circle cx="200.9" cy="199.5" r="1.4" fill="#1a6ec2"/>
<text transform="translate(212.5,202.4) scale(1,1.07)" font-size="9.0" fill="#2a2a2a" text-anchor="start" stroke="#2a2a2a" stroke-width="0.15" >G'</text>
<line x1="191" y1="210.4" x2="210.7" y2="210.4" stroke="#3aa517" stroke-width="0.8" />
<circle cx="200.9" cy="210.4" r="1.4" fill="#3aa517"/>
<text transform="translate(212.5,212.8) scale(1,1.07)" font-size="9.0" fill="#2a2a2a" text-anchor="start" stroke="#2a2a2a" stroke-width="0.15" >G''</text>
<line x1="191" y1="221.3" x2="210.7" y2="221.3" stroke="#ff1a1a" stroke-width="0.8" />
<path d="M200.9,219.8L202.4,222.5L199.4,222.5Z" fill="#ff1a1a"/>
<text transform="translate(212.5,223.6) scale(1,1.07)" font-size="9.0" fill="#2a2a2a" text-anchor="start" stroke="#2a2a2a" stroke-width="0.15" >tanδ</text>
<line x1="368.3" y1="188.3" x2="530.5" y2="188.3" stroke="#111111" stroke-width="1.15" stroke-linecap="square"/>
<line x1="368.3" y1="320.3" x2="530.5" y2="320.3" stroke="#111111" stroke-width="1.15" stroke-linecap="square"/>
<line x1="368.3" y1="188.3" x2="368.3" y2="320.3" stroke="#111111" stroke-width="1.15" stroke-linecap="square"/>
<line x1="530.5" y1="188.3" x2="530.5" y2="320.3" stroke="#111111" stroke-width="1.15" stroke-linecap="square"/>
<text transform="translate(365.3,323.9) scale(1,1.07)" font-size="11" fill="#111111" text-anchor="end" stroke="#111111" stroke-width="0.15" >0</text>
<line x1="368.3" y1="308.28" x2="369.6" y2="308.28" stroke="#111111" stroke-width="0.9" />
<line x1="368.3" y1="296.25" x2="370.7" y2="296.25" stroke="#111111" stroke-width="0.9" />
<text transform="translate(365.3,299.85) scale(1,1.07)" font-size="11" fill="#111111" text-anchor="end" stroke="#111111" stroke-width="0.15" >1000</text>
<line x1="368.3" y1="284.23" x2="369.6" y2="284.23" stroke="#111111" stroke-width="0.9" />
<line x1="368.3" y1="272.2" x2="370.7" y2="272.2" stroke="#111111" stroke-width="0.9" />
<text transform="translate(365.3,275.8) scale(1,1.07)" font-size="11" fill="#111111" text-anchor="end" stroke="#111111" stroke-width="0.15" >2000</text>
<line x1="368.3" y1="260.18" x2="369.6" y2="260.18" stroke="#111111" stroke-width="0.9" />
<line x1="368.3" y1="248.15" x2="370.7" y2="248.15" stroke="#111111" stroke-width="0.9" />
<text transform="translate(365.3,251.75) scale(1,1.07)" font-size="11" fill="#111111" text-anchor="end" stroke="#111111" stroke-width="0.15" >3000</text>
<line x1="368.3" y1="236.12" x2="369.6" y2="236.12" stroke="#111111" stroke-width="0.9" />
<line x1="368.3" y1="224.1" x2="370.7" y2="224.1" stroke="#111111" stroke-width="0.9" />
<text transform="translate(365.3,227.7) scale(1,1.07)" font-size="11" fill="#111111" text-anchor="end" stroke="#111111" stroke-width="0.15" >4000</text>
<line x1="368.3" y1="212.08" x2="369.6" y2="212.08" stroke="#111111" stroke-width="0.9" />
<line x1="368.3" y1="200.05" x2="370.7" y2="200.05" stroke="#111111" stroke-width="0.9" />
<text transform="translate(365.3,203.65) scale(1,1.07)" font-size="11" fill="#111111" text-anchor="end" stroke="#111111" stroke-width="0.15" >5000</text>
<line x1="368.3" y1="188.03" x2="369.6" y2="188.03" stroke="#111111" stroke-width="0.9" />
<line x1="370.7" y1="320.3" x2="370.7" y2="317.9" stroke="#111111" stroke-width="0.9" />
<text transform="translate(370.7,331.8) scale(1,1.07)" font-size="11" fill="#111111" text-anchor="middle" stroke="#111111" stroke-width="0.15" >0</text>
<line x1="382.12" y1="320.3" x2="382.12" y2="319" stroke="#111111" stroke-width="0.9" />
<line x1="393.53" y1="320.3" x2="393.53" y2="317.9" stroke="#111111" stroke-width="0.9" />
<text transform="translate(393.53,331.8) scale(1,1.07)" font-size="11" fill="#111111" text-anchor="middle" stroke="#111111" stroke-width="0.15" >10</text>
<line x1="404.94" y1="320.3" x2="404.94" y2="319" stroke="#111111" stroke-width="0.9" />
<line x1="416.36" y1="320.3" x2="416.36" y2="317.9" stroke="#111111" stroke-width="0.9" />
<text transform="translate(416.36,331.8) scale(1,1.07)" font-size="11" fill="#111111" text-anchor="middle" stroke="#111111" stroke-width="0.15" >20</text>
<line x1="427.77" y1="320.3" x2="427.77" y2="319" stroke="#111111" stroke-width="0.9" />
<line x1="439.19" y1="320.3" x2="439.19" y2="317.9" stroke="#111111" stroke-width="0.9" />
<text transform="translate(439.19,331.8) scale(1,1.07)" font-size="11" fill="#111111" text-anchor="middle" stroke="#111111" stroke-width="0.15" >30</text>
<line x1="450.61" y1="320.3" x2="450.61" y2="319" stroke="#111111" stroke-width="0.9" />
<line x1="462.02" y1="320.3" x2="462.02" y2="317.9" stroke="#111111" stroke-width="0.9" />
<text transform="translate(462.02,331.8) scale(1,1.07)" font-size="11" fill="#111111" text-anchor="middle" stroke="#111111" stroke-width="0.15" >40</text>
<line x1="473.44" y1="320.3" x2="473.44" y2="319" stroke="#111111" stroke-width="0.9" />
<line x1="484.85" y1="320.3" x2="484.85" y2="317.9" stroke="#111111" stroke-width="0.9" />
<text transform="translate(484.85,331.8) scale(1,1.07)" font-size="11" fill="#111111" text-anchor="middle" stroke="#111111" stroke-width="0.15" >50</text>
<line x1="496.26" y1="320.3" x2="496.26" y2="319" stroke="#111111" stroke-width="0.9" />
<line x1="507.68" y1="320.3" x2="507.68" y2="317.9" stroke="#111111" stroke-width="0.9" />
<text transform="translate(507.68,331.8) scale(1,1.07)" font-size="11" fill="#111111" text-anchor="middle" stroke="#111111" stroke-width="0.15" >60</text>
<line x1="519.1" y1="320.3" x2="519.1" y2="319" stroke="#111111" stroke-width="0.9" />
<text transform="translate(530.51,331.8) scale(1,1.07)" font-size="11" fill="#111111" text-anchor="middle" stroke="#111111" stroke-width="0.15" >70</text>
<text x="397.68" y="349.2" font-size="15.1" fill="#111111" text-anchor="start" font-weight="bold" >Frequency (Hz)</text>
<text transform="translate(336.83,253.61) rotate(-90)" font-size="15.1" fill="#1a6ec2" font-weight="bold">G' (Pa)</text>
<text transform="translate(336.88,311.53) rotate(-90)" font-size="15.3" fill="#3aa517" font-weight="bold">G''(Pa)</text>
<polyline points="514.76,206.06 461.56,213.18 428,222.1 406.77,230.21 393.53,237.5 385.11,244.21 379.79,249.91 376.43,254.91 374.31,259.41 372.98,263.4 371.74,267.2 371.21,271.41 370.87,277.11 370.66,282.9 370.53,290.5" fill="none" stroke="#1a6ec2" stroke-width="1.6" stroke-linejoin="round" />
<circle cx="514.76" cy="206.06" r="1.4" fill="#1a6ec2"/>
<circle cx="461.56" cy="213.18" r="1.4" fill="#1a6ec2"/>
<circle cx="428" cy="222.1" r="1.4" fill="#1a6ec2"/>
<circle cx="406.77" cy="230.21" r="1.4" fill="#1a6ec2"/>
<circle cx="393.53" cy="237.5" r="1.4" fill="#1a6ec2"/>
<circle cx="385.11" cy="244.21" r="1.4" fill="#1a6ec2"/>
<circle cx="379.79" cy="249.91" r="1.4" fill="#1a6ec2"/>
<circle cx="376.43" cy="254.91" r="1.4" fill="#1a6ec2"/>
<circle cx="374.31" cy="259.41" r="1.4" fill="#1a6ec2"/>
<circle cx="372.98" cy="263.4" r="1.4" fill="#1a6ec2"/>
<circle cx="371.74" cy="267.2" r="1.4" fill="#1a6ec2"/>
<circle cx="371.21" cy="271.41" r="1.4" fill="#1a6ec2"/>
<circle cx="370.87" cy="277.11" r="1.4" fill="#1a6ec2"/>
<circle cx="370.66" cy="282.9" r="1.4" fill="#1a6ec2"/>
<circle cx="370.53" cy="290.5" r="1.4" fill="#1a6ec2"/>
<polyline points="514.76,272.1 461.56,280.86 428,286.63 406.77,291.54 393.53,295.6 385.11,298.51 379.79,301.11 376.43,303.39 374.31,305.7 372.98,308.01 371.54,310.51 371.01,313.3 370.67,316.21 370.46,319" fill="none" stroke="#3aa517" stroke-width="1.6" stroke-linejoin="round" />
<circle cx="514.76" cy="272.1" r="1.4" fill="#3aa517"/>
<circle cx="461.56" cy="280.86" r="1.4" fill="#3aa517"/>
<circle cx="428" cy="286.63" r="1.4" fill="#3aa517"/>
<circle cx="406.77" cy="291.54" r="1.4" fill="#3aa517"/>
<circle cx="393.53" cy="295.6" r="1.4" fill="#3aa517"/>
<circle cx="385.11" cy="298.51" r="1.4" fill="#3aa517"/>
<circle cx="379.79" cy="301.11" r="1.4" fill="#3aa517"/>
<circle cx="376.43" cy="303.39" r="1.4" fill="#3aa517"/>
<circle cx="374.31" cy="305.7" r="1.4" fill="#3aa517"/>
<circle cx="372.98" cy="308.01" r="1.4" fill="#3aa517"/>
<circle cx="371.54" cy="310.51" r="1.4" fill="#3aa517"/>
<circle cx="371.01" cy="313.3" r="1.4" fill="#3aa517"/>
<circle cx="370.67" cy="316.21" r="1.4" fill="#3aa517"/>
<circle cx="370.46" cy="319" r="1.4" fill="#3aa517"/>
<line x1="381.4" y1="196.9" x2="406.8" y2="196.9" stroke="#1a6ec2" stroke-width="1.4" />
<circle cx="394.1" cy="196.9" r="1.5" fill="#1a6ec2"/>
<text transform="translate(409.1,200.6) scale(1,1.07)" font-size="10.0" fill="#1a1a1a" text-anchor="start" stroke="#1a1a1a" stroke-width="0.15" >G'</text>
<line x1="381.4" y1="210.3" x2="406.8" y2="210.3" stroke="#3aa517" stroke-width="1.4" />
<circle cx="394.1" cy="210.3" r="1.5" fill="#3aa517"/>
<text transform="translate(409.1,213.5) scale(1,1.07)" font-size="10.0" fill="#1a1a1a" text-anchor="start" stroke="#1a1a1a" stroke-width="0.15" >G''</text>
<line x1="68.3" y1="368.8" x2="231.3" y2="368.8" stroke="#111111" stroke-width="1.15" stroke-linecap="square"/>
<line x1="68.3" y1="501.2" x2="231.3" y2="501.2" stroke="#111111" stroke-width="1.15" stroke-linecap="square"/>
<line x1="68.3" y1="368.8" x2="68.3" y2="501.2" stroke="#111111" stroke-width="1.15" stroke-linecap="square"/>
<line x1="231.3" y1="368.8" x2="231.3" y2="501.2" stroke="#111111" stroke-width="1.15" stroke-linecap="square"/>
<text transform="translate(65.5,504.3) scale(1,1.07)" font-size="11" fill="#111111" text-anchor="end" stroke="#111111" stroke-width="0.15" >-2</text>
<line x1="68.3" y1="494.6" x2="69.6" y2="494.6" stroke="#111111" stroke-width="0.9" />
<line x1="68.3" y1="488" x2="70.7" y2="488" stroke="#111111" stroke-width="0.9" />
<text transform="translate(65.5,491.1) scale(1,1.07)" font-size="11" fill="#111111" text-anchor="end" stroke="#111111" stroke-width="0.15" >0</text>
<line x1="68.3" y1="481.4" x2="69.6" y2="481.4" stroke="#111111" stroke-width="0.9" />
<line x1="68.3" y1="474.8" x2="70.7" y2="474.8" stroke="#111111" stroke-width="0.9" />
<text transform="translate(65.5,477.9) scale(1,1.07)" font-size="11" fill="#111111" text-anchor="end" stroke="#111111" stroke-width="0.15" >2</text>
<line x1="68.3" y1="468.2" x2="69.6" y2="468.2" stroke="#111111" stroke-width="0.9" />
<line x1="68.3" y1="461.6" x2="70.7" y2="461.6" stroke="#111111" stroke-width="0.9" />
<text transform="translate(65.5,464.7) scale(1,1.07)" font-size="11" fill="#111111" text-anchor="end" stroke="#111111" stroke-width="0.15" >4</text>
<line x1="68.3" y1="455" x2="69.6" y2="455" stroke="#111111" stroke-width="0.9" />
<line x1="68.3" y1="448.4" x2="70.7" y2="448.4" stroke="#111111" stroke-width="0.9" />
<text transform="translate(65.5,451.5) scale(1,1.07)" font-size="11" fill="#111111" text-anchor="end" stroke="#111111" stroke-width="0.15" >6</text>
<line x1="68.3" y1="441.8" x2="69.6" y2="441.8" stroke="#111111" stroke-width="0.9" />
<line x1="68.3" y1="435.2" x2="70.7" y2="435.2" stroke="#111111" stroke-width="0.9" />
<text transform="translate(65.5,438.3) scale(1,1.07)" font-size="11" fill="#111111" text-anchor="end" stroke="#111111" stroke-width="0.15" >8</text>
<line x1="68.3" y1="428.6" x2="69.6" y2="428.6" stroke="#111111" stroke-width="0.9" />
<line x1="68.3" y1="422" x2="70.7" y2="422" stroke="#111111" stroke-width="0.9" />
<text transform="translate(65.5,425.1) scale(1,1.07)" font-size="11" fill="#111111" text-anchor="end" stroke="#111111" stroke-width="0.15" >10</text>
<line x1="68.3" y1="415.4" x2="69.6" y2="415.4" stroke="#111111" stroke-width="0.9" />
<line x1="68.3" y1="408.8" x2="70.7" y2="408.8" stroke="#111111" stroke-width="0.9" />
<text transform="translate(65.5,411.9) scale(1,1.07)" font-size="11" fill="#111111" text-anchor="end" stroke="#111111" stroke-width="0.15" >12</text>
<line x1="68.3" y1="402.2" x2="69.6" y2="402.2" stroke="#111111" stroke-width="0.9" />
<line x1="68.3" y1="395.6" x2="70.7" y2="395.6" stroke="#111111" stroke-width="0.9" />
<text transform="translate(65.5,398.7) scale(1,1.07)" font-size="11" fill="#111111" text-anchor="end" stroke="#111111" stroke-width="0.15" >14</text>
<line x1="68.3" y1="389" x2="69.6" y2="389" stroke="#111111" stroke-width="0.9" />
<line x1="68.3" y1="382.4" x2="70.7" y2="382.4" stroke="#111111" stroke-width="0.9" />
<text transform="translate(65.5,385.5) scale(1,1.07)" font-size="11" fill="#111111" text-anchor="end" stroke="#111111" stroke-width="0.15" >16</text>
<line x1="68.3" y1="375.8" x2="69.6" y2="375.8" stroke="#111111" stroke-width="0.9" />
<text transform="translate(65.5,372.3) scale(1,1.07)" font-size="11" fill="#111111" text-anchor="end" stroke="#111111" stroke-width="0.15" >18</text>
<line x1="80.2" y1="501.2" x2="80.2" y2="498.8" stroke="#111111" stroke-width="0.9" />
<text transform="translate(80.2,513) scale(1,1.07)" font-size="11" fill="#111111" text-anchor="middle" stroke="#111111" stroke-width="0.15" >0</text>
<line x1="91.79" y1="501.2" x2="91.79" y2="499.9" stroke="#111111" stroke-width="0.9" />
<line x1="103.38" y1="501.2" x2="103.38" y2="498.8" stroke="#111111" stroke-width="0.9" />
<text transform="translate(103.38,513) scale(1,1.07)" font-size="11" fill="#111111" text-anchor="middle" stroke="#111111" stroke-width="0.15" >100</text>
<line x1="114.97" y1="501.2" x2="114.97" y2="499.9" stroke="#111111" stroke-width="0.9" />
<line x1="126.56" y1="501.2" x2="126.56" y2="498.8" stroke="#111111" stroke-width="0.9" />
<text transform="translate(126.56,513) scale(1,1.07)" font-size="11" fill="#111111" text-anchor="middle" stroke="#111111" stroke-width="0.15" >200</text>
<line x1="138.15" y1="501.2" x2="138.15" y2="499.9" stroke="#111111" stroke-width="0.9" />
<line x1="149.74" y1="501.2" x2="149.74" y2="498.8" stroke="#111111" stroke-width="0.9" />
<text transform="translate(149.74,513) scale(1,1.07)" font-size="11" fill="#111111" text-anchor="middle" stroke="#111111" stroke-width="0.15" >300</text>
<line x1="161.33" y1="501.2" x2="161.33" y2="499.9" stroke="#111111" stroke-width="0.9" />
<line x1="172.92" y1="501.2" x2="172.92" y2="498.8" stroke="#111111" stroke-width="0.9" />
<text transform="translate(172.92,513) scale(1,1.07)" font-size="11" fill="#111111" text-anchor="middle" stroke="#111111" stroke-width="0.15" >400</text>
<line x1="184.51" y1="501.2" x2="184.51" y2="499.9" stroke="#111111" stroke-width="0.9" />
<line x1="196.1" y1="501.2" x2="196.1" y2="498.8" stroke="#111111" stroke-width="0.9" />
<text transform="translate(196.1,513) scale(1,1.07)" font-size="11" fill="#111111" text-anchor="middle" stroke="#111111" stroke-width="0.15" >500</text>
<line x1="207.69" y1="501.2" x2="207.69" y2="499.9" stroke="#111111" stroke-width="0.9" />
<line x1="219.28" y1="501.2" x2="219.28" y2="498.8" stroke="#111111" stroke-width="0.9" />
<text transform="translate(219.28,513) scale(1,1.07)" font-size="11" fill="#111111" text-anchor="middle" stroke="#111111" stroke-width="0.15" >600</text>
<text x="123.41" y="527.6" font-size="14.8" fill="#111111" text-anchor="start" font-weight="bold" >Time (s)</text>
<text transform="translate(49.98,456.75) rotate(-90)" font-size="14.9" fill="#111111" font-weight="bold">Strain(%)</text>
<polyline points="79.7,488.6 79.9,460 80.2,430 80.5,415" fill="none" stroke="#000" stroke-width="2.3" stroke-linejoin="round"/>
<polyline points="80.5,418 80.7,410 80.9,404 81.3,398.5 82,394.2 83,391.6 84.2,389.8 86.2,388 88.5,386.5 92,385.3 95.8,384.4 100,383.6 104.5,382.9 113.6,381.8 122,381.3 130,381 140,380.7 149.8,380.4 149.8,396 150,400.5 150.6,402.8 151.8,404.6 153.1,405.6 156,406.5 160,407.1 164.5,407.5 172,408.3 180.9,408.9 190,409.5 197.3,410 208,410.5 219.4,411" fill="none" stroke="#000" stroke-width="2.9" stroke-linejoin="round"/>
<line x1="352.6" y1="368.5" x2="510.8" y2="368.5" stroke="#111111" stroke-width="1.15" />
<line x1="352.6" y1="501" x2="510.8" y2="501" stroke="#111111" stroke-width="1.2" />
<line x1="352.6" y1="368.5" x2="352.6" y2="501" stroke="#111111" stroke-width="1.15" />
<line x1="510.8" y1="368.5" x2="510.8" y2="501.5" stroke="#ff1a1a" stroke-width="1.0" />
<line x1="352.6" y1="454.87" x2="353.9" y2="454.87" stroke="#111111" stroke-width="0.9" />
<text transform="translate(351.0,504.6) scale(1,1.07)" font-size="11" fill="#111111" stroke="#111111" stroke-width="0.15" text-anchor="end">10<tspan font-size="7.2" dy="-3.6" dx="-0.4">2</tspan></text>
<line x1="352.6" y1="435" x2="355" y2="435" stroke="#111111" stroke-width="0.9" />
<line x1="352.6" y1="388.87" x2="353.9" y2="388.87" stroke="#111111" stroke-width="0.9" />
<text transform="translate(351.0,438.6) scale(1,1.07)" font-size="11" fill="#111111" stroke="#111111" stroke-width="0.15" text-anchor="end">10<tspan font-size="7.2" dy="-3.6" dx="-0.4">3</tspan></text>
<text transform="translate(351.0,372.6) scale(1,1.07)" font-size="11" fill="#111111" stroke="#111111" stroke-width="0.15" text-anchor="end">10<tspan font-size="7.2" dy="-3.6" dx="-0.4">4</tspan></text>
<line x1="510.8" y1="501" x2="513.2" y2="501" stroke="#ff1a1a" stroke-width="0.9" />
<text transform="translate(514.0,504.6) scale(1,1.07)" font-size="11" fill="#ff1a1a" stroke="#ff1a1a" stroke-width="0.15">10<tspan font-size="7.2" dy="-3.6" dx="-0.4">1</tspan></text>
<line x1="510.8" y1="468" x2="513.2" y2="468" stroke="#ff1a1a" stroke-width="0.9" />
<text transform="translate(514.0,471.6) scale(1,1.07)" font-size="11" fill="#ff1a1a" stroke="#ff1a1a" stroke-width="0.15">10<tspan font-size="7.2" dy="-3.6" dx="-0.4">2</tspan></text>
<line x1="510.8" y1="435" x2="513.2" y2="435" stroke="#ff1a1a" stroke-width="0.9" />
<text transform="translate(514.0,438.6) scale(1,1.07)" font-size="11" fill="#ff1a1a" stroke="#ff1a1a" stroke-width="0.15">10<tspan font-size="7.2" dy="-3.6" dx="-0.4">3</tspan></text>
<line x1="510.8" y1="402" x2="513.2" y2="402" stroke="#ff1a1a" stroke-width="0.9" />
<text transform="translate(514.0,405.6) scale(1,1.07)" font-size="11" fill="#ff1a1a" stroke="#ff1a1a" stroke-width="0.15">10<tspan font-size="7.2" dy="-3.6" dx="-0.4">4</tspan></text>
<line x1="510.8" y1="369" x2="513.2" y2="369" stroke="#ff1a1a" stroke-width="0.9" />
<text transform="translate(514.0,372.6) scale(1,1.07)" font-size="11" fill="#ff1a1a" stroke="#ff1a1a" stroke-width="0.15">10<tspan font-size="7.2" dy="-3.6" dx="-0.4">5</tspan></text>
<line x1="364.51" y1="501" x2="364.51" y2="499.7" stroke="#111111" stroke-width="0.8" />
<line x1="371.47" y1="501" x2="371.47" y2="499.7" stroke="#111111" stroke-width="0.8" />
<line x1="376.41" y1="501" x2="376.41" y2="499.7" stroke="#111111" stroke-width="0.8" />
<line x1="380.24" y1="501" x2="380.24" y2="499.7" stroke="#111111" stroke-width="0.8" />
<line x1="383.38" y1="501" x2="383.38" y2="499.7" stroke="#111111" stroke-width="0.8" />
<line x1="386.02" y1="501" x2="386.02" y2="499.7" stroke="#111111" stroke-width="0.8" />
<line x1="388.32" y1="501" x2="388.32" y2="499.7" stroke="#111111" stroke-width="0.8" />
<line x1="390.34" y1="501" x2="390.34" y2="499.7" stroke="#111111" stroke-width="0.8" />
<line x1="392.15" y1="501" x2="392.15" y2="498.6" stroke="#111111" stroke-width="0.8" />
<line x1="404.06" y1="501" x2="404.06" y2="499.7" stroke="#111111" stroke-width="0.8" />
<line x1="411.02" y1="501" x2="411.02" y2="499.7" stroke="#111111" stroke-width="0.8" />
<line x1="415.96" y1="501" x2="415.96" y2="499.7" stroke="#111111" stroke-width="0.8" />
<line x1="419.79" y1="501" x2="419.79" y2="499.7" stroke="#111111" stroke-width="0.8" />
<line x1="422.93" y1="501" x2="422.93" y2="499.7" stroke="#111111" stroke-width="0.8" />
<line x1="425.57" y1="501" x2="425.57" y2="499.7" stroke="#111111" stroke-width="0.8" />
<line x1="427.87" y1="501" x2="427.87" y2="499.7" stroke="#111111" stroke-width="0.8" />
<line x1="429.89" y1="501" x2="429.89" y2="499.7" stroke="#111111" stroke-width="0.8" />
<line x1="431.7" y1="501" x2="431.7" y2="498.6" stroke="#111111" stroke-width="0.8" />
<line x1="443.61" y1="501" x2="443.61" y2="499.7" stroke="#111111" stroke-width="0.8" />
<line x1="450.57" y1="501" x2="450.57" y2="499.7" stroke="#111111" stroke-width="0.8" />
<line x1="455.51" y1="501" x2="455.51" y2="499.7" stroke="#111111" stroke-width="0.8" />
<line x1="459.34" y1="501" x2="459.34" y2="499.7" stroke="#111111" stroke-width="0.8" />
<line x1="462.48" y1="501" x2="462.48" y2="499.7" stroke="#111111" stroke-width="0.8" />
<line x1="465.12" y1="501" x2="465.12" y2="499.7" stroke="#111111" stroke-width="0.8" />
<line x1="467.42" y1="501" x2="467.42" y2="499.7" stroke="#111111" stroke-width="0.8" />
<line x1="469.44" y1="501" x2="469.44" y2="499.7" stroke="#111111" stroke-width="0.8" />
<line x1="471.25" y1="501" x2="471.25" y2="498.6" stroke="#111111" stroke-width="0.8" />
<line x1="483.16" y1="501" x2="483.16" y2="499.7" stroke="#111111" stroke-width="0.8" />
<line x1="490.12" y1="501" x2="490.12" y2="499.7" stroke="#111111" stroke-width="0.8" />
<line x1="495.06" y1="501" x2="495.06" y2="499.7" stroke="#111111" stroke-width="0.8" />
<line x1="498.89" y1="501" x2="498.89" y2="499.7" stroke="#111111" stroke-width="0.8" />
<line x1="502.03" y1="501" x2="502.03" y2="499.7" stroke="#111111" stroke-width="0.8" />
<line x1="504.67" y1="501" x2="504.67" y2="499.7" stroke="#111111" stroke-width="0.8" />
<line x1="506.97" y1="501" x2="506.97" y2="499.7" stroke="#111111" stroke-width="0.8" />
<line x1="508.99" y1="501" x2="508.99" y2="499.7" stroke="#111111" stroke-width="0.8" />
<text transform="translate(352.6,514.3) scale(1,1.07)" font-size="11" fill="#111111" stroke="#111111" stroke-width="0.15" text-anchor="middle">10<tspan font-size="7.2" dy="-3.6" dx="-0.4">-2</tspan></text>
<text transform="translate(392.15,514.3) scale(1,1.07)" font-size="11" fill="#111111" stroke="#111111" stroke-width="0.15" text-anchor="middle">10<tspan font-size="7.2" dy="-3.6" dx="-0.4">-1</tspan></text>
<text transform="translate(431.7,514.3) scale(1,1.07)" font-size="11" fill="#111111" stroke="#111111" stroke-width="0.15" text-anchor="middle">10<tspan font-size="7.2" dy="-3.6" dx="-0.4">0</tspan></text>
<text transform="translate(471.25,514.3) scale(1,1.07)" font-size="11" fill="#111111" stroke="#111111" stroke-width="0.15" text-anchor="middle">10<tspan font-size="7.2" dy="-3.6" dx="-0.4">1</tspan></text>
<text transform="translate(510.8,514.3) scale(1,1.07)" font-size="11" fill="#111111" stroke="#111111" stroke-width="0.15" text-anchor="middle">10<tspan font-size="7.2" dy="-3.6" dx="-0.4">2</tspan></text>
<text x="387.82" y="527.6" font-size="14.5" fill="#111111" text-anchor="start" font-weight="bold" >Shear rate (1/s)</text>
<text transform="translate(332.01,461.93) rotate(-90)" font-size="15.0" fill="#111111" font-weight="bold">Stress (Pa)</text>
<text transform="translate(543.3,465.49) rotate(-90)" font-size="13.8" fill="#ff1a1a" font-weight="bold">Viscosity (Pa·s)</text>
<polyline points="355.5,448.7 363.07,448.3 370.65,447.5 378.23,447.3 385.8,446.8 393.38,446.5 400.95,447.1 408.52,447.1 416.1,445.9 423.68,444.2 431.25,443.1 438.82,441.2 446.4,440.4 453.98,439.5 461.55,439.5 469.12,435.7 476.7,429.7 484.27,430.9 491.85,431.5 499.43,430.3 507,432" fill="none" stroke="#333" stroke-width="0.9" stroke-linejoin="round" />
<circle cx="355.5" cy="448.7" r="1.15" fill="#333"/>
<circle cx="363.07" cy="448.3" r="1.15" fill="#333"/>
<circle cx="370.65" cy="447.5" r="1.15" fill="#333"/>
<circle cx="378.23" cy="447.3" r="1.15" fill="#333"/>
<circle cx="385.8" cy="446.8" r="1.15" fill="#333"/>
<circle cx="393.38" cy="446.5" r="1.15" fill="#333"/>
<circle cx="400.95" cy="447.1" r="1.15" fill="#333"/>
<circle cx="408.52" cy="447.1" r="1.15" fill="#333"/>
<circle cx="416.1" cy="445.9" r="1.15" fill="#333"/>
<circle cx="423.68" cy="444.2" r="1.15" fill="#333"/>
<circle cx="431.25" cy="443.1" r="1.15" fill="#333"/>
<circle cx="438.82" cy="441.2" r="1.15" fill="#333"/>
<circle cx="446.4" cy="440.4" r="1.15" fill="#333"/>
<circle cx="453.98" cy="439.5" r="1.15" fill="#333"/>
<circle cx="461.55" cy="439.5" r="1.15" fill="#333"/>
<circle cx="469.12" cy="435.7" r="1.15" fill="#333"/>
<circle cx="476.7" cy="429.7" r="1.15" fill="#333"/>
<circle cx="484.27" cy="430.9" r="1.15" fill="#333"/>
<circle cx="491.85" cy="431.5" r="1.15" fill="#333"/>
<circle cx="499.43" cy="430.3" r="1.15" fill="#333"/>
<circle cx="507" cy="432" r="1.15" fill="#333"/>
<polyline points="355.5,378.3 363.07,384.5 370.65,390.5 378.23,396.5 385.8,402.7 393.38,408.9 400.95,415.2 408.52,421.7 416.1,427.7 423.68,433.2 431.25,438.8 438.82,444.3 446.4,450.3 453.98,456 461.55,462.4 469.12,466.6 476.7,470.1 484.27,476.9 491.85,483.8 499.43,489.3 507,496.2" fill="none" stroke="#ff1a1a" stroke-width="1.1" stroke-linejoin="round" />
<circle cx="355.5" cy="378.3" r="1.15" fill="#ff1a1a"/>
<circle cx="363.07" cy="384.5" r="1.15" fill="#ff1a1a"/>
<circle cx="370.65" cy="390.5" r="1.15" fill="#ff1a1a"/>
<circle cx="378.23" cy="396.5" r="1.15" fill="#ff1a1a"/>
<circle cx="385.8" cy="402.7" r="1.15" fill="#ff1a1a"/>
<circle cx="393.38" cy="408.9" r="1.15" fill="#ff1a1a"/>
<circle cx="400.95" cy="415.2" r="1.15" fill="#ff1a1a"/>
<circle cx="408.52" cy="421.7" r="1.15" fill="#ff1a1a"/>
<circle cx="416.1" cy="427.7" r="1.15" fill="#ff1a1a"/>
<circle cx="423.68" cy="433.2" r="1.15" fill="#ff1a1a"/>
<circle cx="431.25" cy="438.8" r="1.15" fill="#ff1a1a"/>
<circle cx="438.82" cy="444.3" r="1.15" fill="#ff1a1a"/>
<circle cx="446.4" cy="450.3" r="1.15" fill="#ff1a1a"/>
<circle cx="453.98" cy="456" r="1.15" fill="#ff1a1a"/>
<circle cx="461.55" cy="462.4" r="1.15" fill="#ff1a1a"/>
<circle cx="469.12" cy="466.6" r="1.15" fill="#ff1a1a"/>
<circle cx="476.7" cy="470.1" r="1.15" fill="#ff1a1a"/>
<circle cx="484.27" cy="476.9" r="1.15" fill="#ff1a1a"/>
<circle cx="491.85" cy="483.8" r="1.15" fill="#ff1a1a"/>
<circle cx="499.43" cy="489.3" r="1.15" fill="#ff1a1a"/>
<circle cx="507" cy="496.2" r="1.15" fill="#ff1a1a"/>
<line x1="438.8" y1="377.7" x2="463.4" y2="377.7" stroke="#333" stroke-width="1.3" />
<circle cx="451" cy="377.7" r="1.3" fill="#333"/>
<text transform="translate(465.6,381.6) scale(1,1.07)" font-size="10.8" fill="#222" text-anchor="start" stroke="#222" stroke-width="0.15" >Stress</text>
<line x1="438.8" y1="391.4" x2="463.4" y2="391.4" stroke="#ff1a1a" stroke-width="1.3" />
<circle cx="451" cy="391.4" r="1.3" fill="#ff1a1a"/>
<text transform="translate(465.6,395.3) scale(1,1.07)" font-size="10.8" fill="#222" text-anchor="start" stroke="#222" stroke-width="0.15" >Viscosity</text>
</svg>
</body></html>
